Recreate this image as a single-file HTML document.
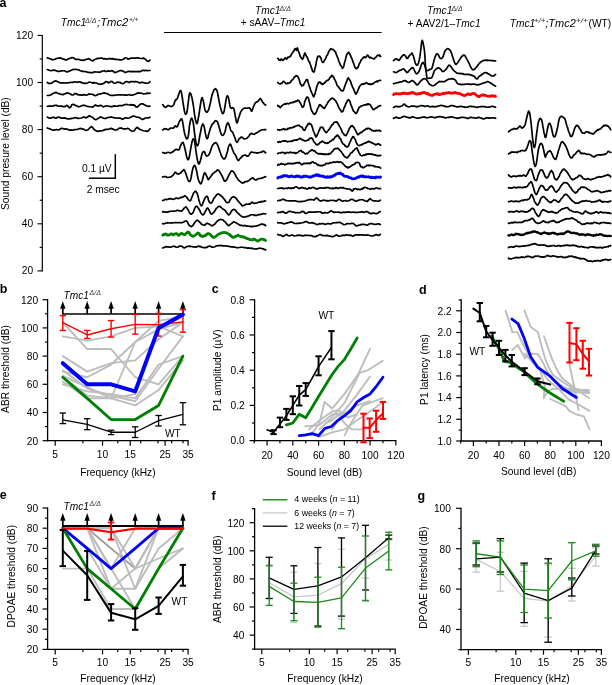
<!DOCTYPE html>
<html><head><meta charset="utf-8"><style>
html,body{margin:0;padding:0;background:#fff;overflow:hidden;}
svg{display:block;font-family:"Liberation Sans", sans-serif;will-change:transform;}
</style></head><body>
<svg width="612" height="685" viewBox="0 0 612 685">
<text x="-0.60" y="6.80" font-size="12.5" text-anchor="start" font-weight="bold" font-style="normal" fill="#000" >a</text>
<line x1="42.30" y1="34.90" x2="42.30" y2="271.40" stroke="#000" stroke-width="1.2" />
<line x1="37.50" y1="270.90" x2="42.30" y2="270.90" stroke="#000" stroke-width="1.1" />
<text x="33.10" y="274.40" font-size="10.2" text-anchor="end" font-weight="normal" font-style="normal" fill="#000" >20</text>
<line x1="39.70" y1="247.35" x2="42.30" y2="247.35" stroke="#000" stroke-width="1.1" />
<line x1="37.50" y1="223.80" x2="42.30" y2="223.80" stroke="#000" stroke-width="1.1" />
<text x="33.10" y="227.30" font-size="10.2" text-anchor="end" font-weight="normal" font-style="normal" fill="#000" >40</text>
<line x1="39.70" y1="200.25" x2="42.30" y2="200.25" stroke="#000" stroke-width="1.1" />
<line x1="37.50" y1="176.70" x2="42.30" y2="176.70" stroke="#000" stroke-width="1.1" />
<text x="33.10" y="180.20" font-size="10.2" text-anchor="end" font-weight="normal" font-style="normal" fill="#000" >60</text>
<line x1="39.70" y1="153.15" x2="42.30" y2="153.15" stroke="#000" stroke-width="1.1" />
<line x1="37.50" y1="129.60" x2="42.30" y2="129.60" stroke="#000" stroke-width="1.1" />
<text x="33.10" y="133.10" font-size="10.2" text-anchor="end" font-weight="normal" font-style="normal" fill="#000" >80</text>
<line x1="39.70" y1="106.05" x2="42.30" y2="106.05" stroke="#000" stroke-width="1.1" />
<line x1="37.50" y1="82.50" x2="42.30" y2="82.50" stroke="#000" stroke-width="1.1" />
<text x="33.10" y="86.00" font-size="10.2" text-anchor="end" font-weight="normal" font-style="normal" fill="#000" >100</text>
<line x1="39.70" y1="58.95" x2="42.30" y2="58.95" stroke="#000" stroke-width="1.1" />
<line x1="37.50" y1="35.40" x2="42.30" y2="35.40" stroke="#000" stroke-width="1.1" />
<text x="33.10" y="38.90" font-size="10.2" text-anchor="end" font-weight="normal" font-style="normal" fill="#000" >120</text>
<text x="0.00" y="0.00" font-size="10.2" text-anchor="middle" font-weight="normal" font-style="normal" fill="#000" transform="translate(8.8,153.6) rotate(-90)">Sound presure level (dB)</text>
<text x="0.00" y="26.20" font-size="10.2" text-anchor="start" font-weight="normal" font-style="normal" fill="#000" ><tspan x="60.8" font-style="italic">Tmc1</tspan><tspan x="85.0" dy="-3.0" font-size="7" font-style="italic" fill="#333">Δ/Δ</tspan><tspan x="97.0" dy="3.0" font-style="italic" textLength="31.4" lengthAdjust="spacingAndGlyphs">;Tmc2</tspan><tspan x="128.9" dy="-4.0" font-size="8" font-style="italic" fill="#222" textLength="9.6" lengthAdjust="spacingAndGlyphs">+/+</tspan></text>
<text x="0.00" y="13.50" font-size="10.2" text-anchor="start" font-weight="normal" font-style="normal" fill="#000" ><tspan x="255.0" font-style="italic">Tmc1</tspan><tspan x="279.5" dy="-3.0" font-size="7" font-style="italic" fill="#333">Δ/Δ</tspan></text>
<text x="273.00" y="26.10" font-size="10.2" text-anchor="middle" font-weight="normal" font-style="normal" fill="#000" >+ sAAV–<tspan font-style="italic">Tmc1</tspan></text>
<line x1="164.10" y1="32.50" x2="381.60" y2="32.50" stroke="#000" stroke-width="1.1" />
<text x="0.00" y="13.50" font-size="10.2" text-anchor="start" font-weight="normal" font-style="normal" fill="#000" ><tspan x="426.9" font-style="italic">Tmc1</tspan><tspan x="451.4" dy="-3.0" font-size="7" font-style="italic" fill="#333">Δ/Δ</tspan></text>
<text x="444.00" y="26.50" font-size="10.2" text-anchor="middle" font-weight="normal" font-style="normal" fill="#000" >+ AAV2/1–<tspan font-style="italic">Tmc1</tspan></text>
<text x="0.00" y="27.40" font-size="10.2" text-anchor="start" font-weight="normal" font-style="normal" fill="#000" ><tspan x="509.8" font-style="italic">Tmc1</tspan><tspan x="533.8" dy="-4.0" font-size="8" font-style="italic" fill="#222">+/+</tspan><tspan x="545.3" dy="4.0" font-style="italic" textLength="30.6" lengthAdjust="spacingAndGlyphs">;Tmc2</tspan><tspan x="576.0" dy="-4.0" font-size="8" font-style="italic" fill="#222">+/+</tspan><tspan x="588.6" dy="4.0">(WT)</tspan></text>
<line x1="115.30" y1="154.20" x2="115.30" y2="178.90" stroke="#000" stroke-width="1.5" />
<line x1="89.00" y1="178.20" x2="116.00" y2="178.20" stroke="#000" stroke-width="1.5" />
<text x="81.90" y="171.80" font-size="10.2" text-anchor="start" font-weight="normal" font-style="normal" fill="#000" >0.1 µV</text>
<text x="86.80" y="192.80" font-size="10.2" text-anchor="start" font-weight="normal" font-style="normal" fill="#000" >2 msec</text>
<polyline points="47.30,57.86 48.60,58.25 49.90,58.72 51.20,59.06 52.50,59.86 53.80,59.50 55.10,59.25 56.40,58.47 57.70,58.28 59.00,58.07 60.30,57.90 61.60,58.41 62.90,59.13 64.20,59.19 65.50,59.97 66.80,59.85 68.10,59.08 69.40,58.53 70.70,58.11 72.00,57.54 73.30,57.73 74.60,58.66 75.90,59.47 77.20,59.42 78.50,59.26 79.80,59.84 81.10,60.11 82.40,60.12 83.70,60.40 85.00,59.63 86.30,59.40 87.60,58.95 88.90,58.60 90.20,59.62 91.50,60.49 92.80,60.92 94.10,59.70 95.40,59.17 96.70,58.60 98.00,58.26 99.30,58.31 100.60,58.07 101.90,58.09 103.20,58.86 104.50,58.67 105.80,58.89 107.10,59.10 108.40,58.80 109.70,58.44 111.00,59.04 112.30,58.69 113.60,58.86 114.90,59.34 116.20,59.28 117.50,59.48 118.80,59.63 120.10,59.80 121.40,59.98 122.70,59.42 124.00,58.80 125.30,57.74 126.60,57.99 127.90,59.17 129.20,58.90 130.50,58.20 131.80,58.10 133.10,58.07 134.40,58.18 135.70,58.15 137.00,57.79 138.30,57.85 139.60,58.27 140.90,58.51 142.20,58.43 143.50,58.07 144.80,58.86 146.10,59.83 147.40,61.20 148.70,61.38 150.00,60.16" fill="none" stroke="#000" stroke-width="1.7" stroke-linejoin="round" stroke-linecap="round" />
<polyline points="47.30,69.51 48.60,70.02 49.90,70.52 51.20,70.54 52.50,70.38 53.80,70.05 55.10,70.33 56.40,70.73 57.70,71.37 59.00,71.45 60.30,71.09 61.60,70.86 62.90,70.75 64.20,70.74 65.50,71.19 66.80,71.94 68.10,71.66 69.40,70.97 70.70,70.58 72.00,69.90 73.30,69.26 74.60,69.51 75.90,69.28 77.20,69.57 78.50,69.77 79.80,70.45 81.10,70.92 82.40,71.43 83.70,71.24 85.00,71.70 86.30,71.67 87.60,72.30 88.90,72.26 90.20,72.61 91.50,72.71 92.80,72.69 94.10,71.88 95.40,71.95 96.70,71.98 98.00,72.11 99.30,72.07 100.60,72.05 101.90,71.16 103.20,70.97 104.50,70.72 105.80,71.62 107.10,71.27 108.40,70.94 109.70,71.04 111.00,70.90 112.30,70.68 113.60,71.77 114.90,72.58 116.20,72.18 117.50,71.74 118.80,71.02 120.10,70.53 121.40,70.66 122.70,70.97 124.00,71.80 125.30,72.54 126.60,72.10 127.90,71.39 129.20,71.38 130.50,71.63 131.80,71.65 133.10,71.41 134.40,71.57 135.70,71.49 137.00,71.55 138.30,71.40 139.60,71.79 140.90,71.41 142.20,70.52 143.50,70.37 144.80,70.61 146.10,70.26 147.40,70.75 148.70,70.50 150.00,70.49" fill="none" stroke="#000" stroke-width="1.7" stroke-linejoin="round" stroke-linecap="round" />
<polyline points="47.30,82.46 48.60,83.34 49.90,83.45 51.20,83.43 52.50,82.48 53.80,81.59 55.10,80.94 56.40,81.15 57.70,81.67 59.00,82.35 60.30,82.80 61.60,82.90 62.90,82.77 64.20,82.99 65.50,82.94 66.80,82.97 68.10,82.80 69.40,82.65 70.70,82.23 72.00,82.32 73.30,82.29 74.60,81.79 75.90,82.00 77.20,82.31 78.50,81.89 79.80,81.87 81.10,82.38 82.40,82.91 83.70,83.28 85.00,83.20 86.30,83.30 87.60,82.96 88.90,82.18 90.20,82.24 91.50,82.54 92.80,83.14 94.10,82.65 95.40,82.93 96.70,83.00 98.00,83.91 99.30,84.05 100.60,84.29 101.90,83.88 103.20,83.72 104.50,82.71 105.80,81.69 107.10,81.76 108.40,82.79 109.70,82.38 111.00,81.46 112.30,81.50 113.60,83.03 114.90,83.24 116.20,82.72 117.50,82.10 118.80,82.31 120.10,82.43 121.40,83.30 122.70,83.73 124.00,83.22 125.30,81.82 126.60,81.49 127.90,81.92 129.20,82.53 130.50,81.60 131.80,81.53 133.10,81.65 134.40,81.92 135.70,81.46 137.00,81.73 138.30,82.23 139.60,83.05 140.90,82.47 142.20,82.39 143.50,82.55 144.80,83.06 146.10,83.04 147.40,83.27 148.70,83.02 150.00,81.72" fill="none" stroke="#000" stroke-width="1.7" stroke-linejoin="round" stroke-linecap="round" />
<polyline points="47.30,95.48 48.60,95.45 49.90,95.25 51.20,94.75 52.50,93.64 53.80,93.27 55.10,92.56 56.40,92.36 57.70,93.38 59.00,93.53 60.30,94.23 61.60,94.38 62.90,94.71 64.20,94.02 65.50,93.67 66.80,92.89 68.10,93.08 69.40,93.48 70.70,94.13 72.00,94.99 73.30,94.80 74.60,93.72 75.90,93.65 77.20,94.14 78.50,94.89 79.80,94.77 81.10,95.11 82.40,95.13 83.70,94.61 85.00,94.82 86.30,95.24 87.60,94.80 88.90,93.94 90.20,94.13 91.50,94.28 92.80,94.42 94.10,95.29 95.40,95.64 96.70,95.21 98.00,94.23 99.30,94.07 100.60,93.79 101.90,93.55 103.20,93.06 104.50,92.96 105.80,93.33 107.10,93.56 108.40,94.28 109.70,95.16 111.00,95.31 112.30,95.27 113.60,95.54 114.90,95.08 116.20,94.98 117.50,94.82 118.80,94.86 120.10,94.85 121.40,94.74 122.70,95.03 124.00,94.86 125.30,95.11 126.60,95.12 127.90,94.85 129.20,94.49 130.50,95.23 131.80,95.11 133.10,94.94 134.40,94.48 135.70,93.95 137.00,93.23 138.30,92.84 139.60,93.05 140.90,93.07 142.20,93.50 143.50,94.00 144.80,93.75 146.10,93.71 147.40,93.11 148.70,93.33 150.00,93.21" fill="none" stroke="#000" stroke-width="1.7" stroke-linejoin="round" stroke-linecap="round" />
<polyline points="47.30,106.28 48.60,106.25 49.90,105.94 51.20,106.06 52.50,106.27 53.80,105.63 55.10,105.38 56.40,105.36 57.70,105.89 59.00,106.25 60.30,106.02 61.60,106.04 62.90,106.65 64.20,106.70 65.50,106.40 66.80,105.44 68.10,106.46 69.40,107.80 70.70,107.01 72.00,104.48 73.30,104.37 74.60,104.89 75.90,105.67 77.20,106.06 78.50,106.81 79.80,106.52 81.10,106.00 82.40,105.43 83.70,105.42 85.00,105.43 86.30,105.95 87.60,106.31 88.90,106.57 90.20,106.73 91.50,106.99 92.80,107.09 94.10,105.93 95.40,104.98 96.70,105.63 98.00,105.90 99.30,105.89 100.60,105.21 101.90,105.84 103.20,106.88 104.50,106.46 105.80,105.88 107.10,105.99 108.40,106.04 109.70,106.45 111.00,106.68 112.30,106.59 113.60,106.05 114.90,105.95 116.20,106.27 117.50,106.11 118.80,105.69 120.10,105.48 121.40,105.61 122.70,105.61 124.00,104.91 125.30,104.50 126.60,104.39 127.90,104.73 129.20,104.97 130.50,104.67 131.80,105.15 133.10,104.81 134.40,105.17 135.70,106.65 137.00,107.16 138.30,106.04 139.60,104.93 140.90,103.77 142.20,103.83 143.50,104.16 144.80,104.90 146.10,105.55 147.40,106.15 148.70,106.38 150.00,106.06" fill="none" stroke="#000" stroke-width="1.7" stroke-linejoin="round" stroke-linecap="round" />
<polyline points="47.30,117.12 48.60,117.85 49.90,118.04 51.20,118.08 52.50,117.46 53.80,117.14 55.10,118.18 56.40,117.85 57.70,117.38 59.00,117.01 60.30,117.89 61.60,118.14 62.90,118.04 64.20,117.89 65.50,118.12 66.80,118.74 68.10,118.90 69.40,118.89 70.70,118.63 72.00,118.39 73.30,118.16 74.60,117.74 75.90,117.68 77.20,118.06 78.50,118.45 79.80,118.26 81.10,117.97 82.40,117.63 83.70,117.01 85.00,117.42 86.30,117.85 87.60,117.09 88.90,115.84 90.20,116.16 91.50,117.02 92.80,117.44 94.10,118.94 95.40,119.62 96.70,119.30 98.00,118.39 99.30,117.71 100.60,116.90 101.90,117.45 103.20,118.09 104.50,118.47 105.80,118.49 107.10,117.71 108.40,117.38 109.70,117.29 111.00,116.95 112.30,117.26 113.60,117.66 114.90,117.81 116.20,117.98 117.50,118.18 118.80,117.98 120.10,118.08 121.40,118.88 122.70,119.26 124.00,118.58 125.30,117.80 126.60,117.95 127.90,118.25 129.20,118.02 130.50,117.31 131.80,116.83 133.10,115.94 134.40,116.23 135.70,116.77 137.00,117.10 138.30,117.27 139.60,117.58 140.90,118.64 142.20,119.45 143.50,119.24 144.80,118.10 146.10,118.02 147.40,117.92 148.70,117.84 150.00,117.17" fill="none" stroke="#000" stroke-width="1.7" stroke-linejoin="round" stroke-linecap="round" />
<polyline points="47.30,127.89 48.60,128.63 49.90,128.75 51.20,129.65 52.50,129.84 53.80,130.11 55.10,129.88 56.40,129.45 57.70,129.80 59.00,129.81 60.30,128.81 61.60,128.30 62.90,128.52 64.20,129.15 65.50,128.80 66.80,129.10 68.10,129.57 69.40,130.15 70.70,129.97 72.00,130.10 73.30,130.13 74.60,129.68 75.90,129.48 77.20,129.48 78.50,129.00 79.80,128.61 81.10,128.42 82.40,129.06 83.70,129.19 85.00,130.02 86.30,130.45 87.60,130.01 88.90,128.81 90.20,127.52 91.50,126.56 92.80,127.69 94.10,129.58 95.40,130.34 96.70,131.12 98.00,131.31 99.30,130.93 100.60,130.84 101.90,130.81 103.20,130.39 104.50,129.91 105.80,129.41 107.10,129.28 108.40,129.15 109.70,128.81 111.00,128.40 112.30,128.88 113.60,129.41 114.90,129.98 116.20,130.01 117.50,129.60 118.80,128.33 120.10,128.22 121.40,127.90 122.70,128.73 124.00,128.94 125.30,128.89 126.60,128.69 127.90,128.41 129.20,128.99 130.50,130.52 131.80,131.00 133.10,131.37 134.40,130.61 135.70,128.59 137.00,127.32 138.30,128.21 139.60,129.21 140.90,129.78 142.20,130.31 143.50,130.73 144.80,130.98 146.10,131.05 147.40,131.31 148.70,130.49 150.00,128.77" fill="none" stroke="#000" stroke-width="1.7" stroke-linejoin="round" stroke-linecap="round" />
<polyline points="162.70,104.68 163.18,105.19 163.88,106.31 164.65,106.83 165.39,107.48 166.07,107.20 166.74,106.46 167.41,106.04 168.09,105.44 168.76,105.73 169.44,105.88 170.11,106.24 170.78,106.53 171.48,106.62 172.19,106.02 172.87,105.65 173.48,105.19 173.99,104.30 174.43,102.73 174.85,101.27 175.28,100.51 175.73,99.57 176.18,99.84 176.62,99.41 177.07,98.84 177.53,97.79 178.00,96.53 178.45,95.36 178.87,93.83 179.26,92.96 179.62,91.98 179.97,91.06 180.31,90.78 180.62,90.51 180.92,90.77 181.22,91.57 181.57,93.18 181.98,95.38 182.43,98.42 182.90,101.86 183.36,104.75 183.81,107.36 184.26,110.25 184.71,112.43 185.16,113.63 185.62,114.31 186.08,114.11 186.53,113.48 186.96,112.07 187.35,109.73 187.71,107.20 188.06,103.70 188.40,101.13 188.71,98.84 189.00,96.12 189.31,94.28 189.65,92.86 190.07,92.94 190.52,93.50 190.99,94.45 191.45,95.97 191.90,97.41 192.35,99.76 192.80,102.17 193.25,104.81 193.70,107.79 194.15,111.40 194.60,114.79 195.05,117.34 195.50,119.76 195.95,121.51 196.39,123.26 196.84,123.71 197.29,123.14 197.74,121.33 198.19,118.77 198.64,116.40 199.10,113.82 199.56,110.35 200.01,107.44 200.44,104.60 200.83,102.32 201.19,100.26 201.54,99.02 201.88,97.76 202.19,97.60 202.48,98.07 202.79,99.20 203.13,100.07 203.55,102.18 204.02,104.77 204.50,107.49 204.93,109.42 205.30,110.67 205.63,111.17 205.97,111.71 206.37,111.89 206.87,112.14 207.43,111.91 208.00,110.92 208.53,110.00 209.00,108.63 209.45,106.83 209.88,104.95 210.32,103.02 210.77,100.82 211.22,98.53 211.67,96.66 212.12,94.82 212.57,93.39 213.02,92.25 213.47,91.00 213.92,90.04 214.38,89.48 214.84,89.13 215.29,88.67 215.72,89.15 216.10,89.35 216.47,89.85 216.81,90.50 217.15,91.24 217.47,92.47 217.76,93.82 218.06,95.79 218.41,97.36 218.81,99.46 219.24,101.87 219.71,104.21 220.21,106.49 220.77,108.52 221.38,110.70 221.99,112.59 222.54,113.56 223.03,113.72 223.48,112.85 223.91,112.01 224.34,110.22 224.80,107.63 225.27,104.65 225.73,101.66 226.14,99.31 226.49,97.62 226.79,96.86 227.08,96.25 227.40,95.77 227.75,96.08 228.12,96.70 228.48,97.86 228.84,99.30 229.16,100.93 229.46,103.25 229.77,104.90 230.09,106.33 230.44,107.68 230.81,107.99 231.18,108.05 231.53,108.39 231.85,108.01 232.16,107.87 232.47,107.74 232.79,107.65 233.14,107.88 233.51,108.19 233.88,109.02 234.23,110.00 234.55,111.82 234.86,113.60 235.16,115.71 235.49,117.27 235.83,118.92 236.18,120.93 236.55,122.37 236.92,122.92 237.30,122.51 237.68,121.39 238.08,119.85 238.54,118.11 239.07,116.75 239.64,114.98 240.25,113.15 240.88,111.72 241.50,110.68 242.15,109.67 242.83,109.07 243.57,108.59 244.43,108.00 245.37,108.16 246.31,108.21 247.17,108.23 247.93,107.92 248.63,107.85 249.27,107.96 249.86,108.21 250.38,108.89 250.82,110.08 251.23,111.04 251.66,111.23 252.11,110.41 252.56,109.28 253.01,107.95 253.46,106.36 253.89,105.64 254.30,104.81 254.74,103.87 255.26,103.10 255.87,102.41 256.57,101.86 257.28,101.79 257.95,101.09 258.59,100.61 259.21,99.84 259.79,98.81 260.29,98.43 260.67,98.82 260.95,99.15 261.22,99.49 261.55,100.09 261.94,100.73 262.38,101.80 262.84,102.47 263.34,102.80 263.94,103.76 264.62,104.46 265.25,104.83 265.68,105.13" fill="none" stroke="#000" stroke-width="1.7" stroke-linejoin="round" stroke-linecap="round" />
<polyline points="162.70,129.86 163.18,129.68 163.88,129.06 164.65,128.62 165.39,128.91 166.07,128.88 166.74,129.15 167.41,129.68 168.09,129.54 168.76,129.53 169.44,129.07 170.11,128.30 170.78,128.01 171.48,127.98 172.19,128.05 172.87,128.30 173.48,128.01 173.99,127.64 174.43,126.83 174.85,126.57 175.28,125.90 175.73,126.04 176.18,126.49 176.62,126.98 177.07,126.66 177.51,126.24 177.94,124.99 178.38,123.83 178.87,122.75 179.44,121.45 180.07,120.56 180.69,119.50 181.21,118.90 181.59,119.16 181.87,118.98 182.14,119.72 182.47,121.06 182.86,123.12 183.30,125.91 183.76,129.08 184.26,131.76 184.82,134.17 185.43,136.03 186.04,137.99 186.60,138.79 187.10,138.83 187.57,138.38 188.00,136.98 188.40,135.35 188.74,133.16 189.03,130.31 189.32,127.06 189.65,124.60 190.07,122.40 190.52,120.45 190.99,119.05 191.45,118.23 191.90,118.40 192.35,119.19 192.80,120.89 193.25,122.84 193.70,125.98 194.15,129.93 194.60,133.62 195.05,137.15 195.50,140.02 195.97,142.29 196.42,143.78 196.84,145.02 197.22,145.78 197.57,145.61 197.92,145.18 198.28,144.10 198.66,142.76 199.03,140.58 199.44,138.08 199.90,135.15 200.45,132.57 201.06,129.34 201.67,126.21 202.24,124.73 202.72,124.17 203.17,124.06 203.60,125.31 204.03,126.29 204.49,128.20 204.95,130.96 205.41,133.45 205.83,135.15 206.21,136.78 206.56,138.03 206.90,138.70 207.27,138.77 207.64,138.15 208.02,137.01 208.43,134.97 208.89,133.55 209.42,131.74 210.01,129.58 210.62,127.84 211.22,126.40 211.81,125.15 212.40,123.99 212.99,123.67 213.56,122.89 214.11,122.32 214.65,121.31 215.18,120.98 215.72,120.72 216.26,121.16 216.80,121.17 217.35,121.64 217.87,122.70 218.37,124.41 218.86,126.27 219.35,128.01 219.85,129.76 220.37,131.78 220.90,133.22 221.45,134.62 222.01,135.12 222.58,135.31 223.17,135.36 223.77,134.55 224.34,133.31 224.91,132.04 225.48,129.61 226.01,127.38 226.50,125.23 226.91,124.44 227.27,123.20 227.61,123.09 227.94,122.72 228.25,122.89 228.54,123.61 228.85,124.66 229.19,125.32 229.61,126.50 230.06,128.20 230.53,129.54 230.99,130.64 231.44,131.30 231.89,131.56 232.34,131.92 232.79,132.53 233.23,133.44 233.65,134.78 234.10,135.77 234.59,137.12 235.14,138.46 235.73,140.25 236.34,141.53 236.92,142.39 237.46,141.96 237.98,141.28 238.51,139.93 239.08,138.76 239.72,138.25 240.39,137.90 241.09,137.08 241.78,137.28 242.43,137.37 243.07,138.02 243.73,138.80 244.47,138.86 245.33,138.77 246.27,138.45 247.21,138.02 248.07,137.04 248.80,136.41 249.47,135.26 250.11,134.22 250.76,133.48 251.41,133.42 252.05,133.64 252.72,134.10 253.46,134.21 254.31,134.29 255.26,133.57 256.20,132.97 257.05,132.42 257.79,132.33 258.46,131.86 259.10,131.30 259.75,130.72 260.41,130.40 261.06,130.19 261.73,130.08 262.44,129.76 263.29,129.77 264.23,129.58 265.09,129.86 265.68,129.57" fill="none" stroke="#000" stroke-width="1.7" stroke-linejoin="round" stroke-linecap="round" />
<polyline points="162.70,152.63 163.18,152.62 163.88,152.78 164.65,153.41 165.39,153.20 166.07,153.09 166.74,152.62 167.41,152.50 168.09,152.38 168.76,152.48 169.44,152.55 170.11,152.91 170.78,152.69 171.46,152.62 172.13,152.18 172.81,151.91 173.48,151.27 174.15,150.71 174.83,150.21 175.50,149.59 176.18,149.38 176.86,149.40 177.55,149.85 178.22,150.04 178.87,149.81 179.49,148.86 180.10,147.09 180.67,145.45 181.21,144.55 181.69,143.26 182.14,142.85 182.57,142.44 183.01,142.28 183.45,143.42 183.88,144.67 184.33,146.14 184.80,148.02 185.32,150.43 185.88,152.95 186.44,155.86 186.96,157.79 187.43,159.05 187.88,159.57 188.32,159.53 188.76,158.73 189.21,157.33 189.65,154.90 190.10,152.28 190.55,149.57 191.01,147.05 191.47,144.58 191.93,142.39 192.35,140.52 192.74,139.76 193.10,138.95 193.45,138.76 193.79,138.98 194.10,139.68 194.40,140.71 194.70,142.04 195.05,144.46 195.46,147.20 195.91,150.49 196.38,153.97 196.84,156.97 197.29,159.10 197.74,161.61 198.19,163.04 198.64,163.87 199.09,163.91 199.54,163.30 199.99,161.74 200.44,160.61 200.89,159.05 201.34,156.78 201.79,154.74 202.24,153.29 202.69,152.43 203.13,151.86 203.58,151.50 204.03,151.57 204.48,151.87 204.93,152.95 205.38,154.13 205.83,155.22 206.27,155.52 206.70,156.03 207.14,155.90 207.63,155.77 208.18,155.36 208.77,154.73 209.38,153.69 209.96,152.49 210.50,150.84 211.02,149.24 211.55,147.51 212.12,146.09 212.77,144.79 213.46,144.23 214.16,143.16 214.82,143.11 215.43,142.95 216.02,142.61 216.59,143.23 217.15,144.11 217.69,145.26 218.21,146.42 218.74,147.94 219.31,149.56 219.95,151.75 220.62,153.40 221.32,155.48 222.01,156.71 222.69,157.90 223.39,158.80 224.07,158.69 224.70,158.85 225.28,157.89 225.82,156.75 226.34,155.04 226.86,153.16 227.37,151.70 227.88,149.47 228.37,147.33 228.84,145.86 229.27,145.15 229.68,144.51 230.07,144.15 230.45,144.13 230.82,144.73 231.16,145.62 231.51,146.99 231.89,147.66 232.31,149.13 232.77,150.38 233.23,151.19 233.69,152.61 234.12,153.24 234.53,153.89 234.97,154.17 235.49,155.03 236.12,156.37 236.83,158.32 237.55,159.62 238.18,160.42 238.67,160.53 239.08,159.98 239.49,159.14 239.98,158.49 240.59,158.20 241.27,157.18 241.98,156.78 242.67,155.87 243.35,155.48 244.02,155.32 244.70,154.99 245.37,155.03 246.04,155.53 246.72,155.90 247.39,156.20 248.07,156.06 248.74,155.53 249.41,154.47 250.09,153.17 250.76,152.51 251.41,151.91 252.05,152.26 252.72,152.25 253.46,152.52 254.29,152.59 255.20,152.59 256.13,152.64 257.05,153.15 257.97,152.71 258.91,152.77 259.81,152.53 260.65,152.30 261.39,152.18 262.07,151.86 262.72,151.14 263.34,151.22 264.01,151.32 264.68,151.99 265.27,152.49 265.68,152.94" fill="none" stroke="#000" stroke-width="1.7" stroke-linejoin="round" stroke-linecap="round" />
<polyline points="162.70,176.91 163.18,176.77 163.88,176.60 164.65,176.78 165.39,176.53 166.07,176.55 166.74,177.18 167.41,177.51 168.09,177.41 168.77,177.29 169.47,177.27 170.15,177.09 170.78,177.00 171.36,176.55 171.88,176.21 172.40,175.73 172.94,175.31 173.52,174.68 174.13,173.65 174.73,172.63 175.28,172.18 175.74,172.40 176.15,172.90 176.57,173.54 177.07,173.80 177.68,173.98 178.37,174.24 179.07,173.61 179.77,173.48 180.46,173.06 181.17,172.54 181.86,171.55 182.47,171.03 182.98,170.49 183.42,170.04 183.83,169.74 184.26,170.11 184.69,170.72 185.11,171.81 185.55,172.72 186.06,174.14 186.69,176.22 187.41,178.36 188.12,180.01 188.76,181.25 189.27,181.36 189.71,181.42 190.13,181.07 190.55,179.93 191.00,178.15 191.45,175.76 191.90,172.83 192.35,170.59 192.80,168.82 193.25,167.37 193.70,166.18 194.15,165.61 194.60,165.46 195.05,165.91 195.50,166.91 195.95,168.07 196.39,170.00 196.84,172.18 197.29,175.07 197.74,176.94 198.19,178.99 198.64,180.35 199.09,181.42 199.54,182.28 199.99,183.05 200.44,183.71 200.89,183.85 201.34,183.17 201.79,182.03 202.26,180.55 202.71,178.70 203.13,177.02 203.51,175.60 203.85,174.52 204.20,173.22 204.57,172.84 205.00,173.01 205.45,173.82 205.91,174.49 206.37,175.47 206.81,176.32 207.25,177.50 207.69,178.66 208.17,179.64 208.67,179.41 209.19,178.63 209.74,177.66 210.32,177.07 210.96,176.31 211.64,175.20 212.33,174.16 213.02,173.56 213.71,173.12 214.40,172.33 215.08,171.86 215.72,171.60 216.29,171.09 216.82,170.59 217.33,169.87 217.87,170.03 218.44,170.32 219.03,170.84 219.62,171.53 220.21,172.82 220.80,173.49 221.39,174.90 221.97,175.80 222.54,176.93 223.10,178.40 223.63,179.43 224.17,180.83 224.70,181.21 225.24,181.09 225.77,180.74 226.31,180.18 226.86,179.49 227.43,178.56 228.02,176.81 228.61,175.53 229.19,174.23 229.78,173.59 230.37,172.23 230.96,171.42 231.53,170.92 232.09,170.89 232.64,171.18 233.18,171.44 233.69,171.80 234.15,172.61 234.59,173.50 235.02,174.22 235.49,175.12 235.99,176.41 236.53,177.25 237.08,177.80 237.64,178.95 238.21,179.58 238.78,180.29 239.36,180.92 239.98,181.40 240.63,181.83 241.30,182.43 241.99,182.80 242.67,183.23 243.35,182.63 244.02,182.63 244.70,181.77 245.37,181.50 246.04,181.61 246.72,181.60 247.39,181.38 248.07,180.98 248.75,180.72 249.44,180.01 250.11,179.61 250.76,178.72 251.38,178.41 251.96,178.34 252.54,177.71 253.10,177.93 253.64,178.53 254.15,179.21 254.68,179.53 255.26,179.90 255.89,179.82 256.57,179.88 257.26,179.09 257.95,178.99 258.63,178.89 259.30,178.49 259.97,178.35 260.65,178.56 261.33,178.23 262.02,177.89 262.69,177.93 263.34,177.52 264.01,177.23 264.68,176.78 265.27,176.86 265.68,176.53" fill="none" stroke="#000" stroke-width="1.7" stroke-linejoin="round" stroke-linecap="round" />
<polyline points="162.70,200.65 163.18,200.33 163.88,200.23 164.65,199.51 165.39,199.41 166.07,199.40 166.74,199.57 167.41,199.50 168.09,199.12 168.76,198.91 169.44,198.82 170.11,198.70 170.78,198.86 171.46,198.58 172.13,199.10 172.81,199.25 173.48,199.34 174.17,199.12 174.88,198.69 175.56,198.21 176.18,198.01 176.67,198.09 177.07,198.50 177.48,198.36 177.97,198.49 178.59,198.64 179.29,198.16 180.00,197.78 180.67,197.51 181.28,197.54 181.87,197.21 182.44,197.31 183.01,197.04 183.57,196.80 184.12,196.11 184.65,195.77 185.16,195.74 185.64,196.20 186.08,196.76 186.52,197.18 186.96,197.61 187.41,198.25 187.86,198.96 188.31,199.55 188.76,200.02 189.21,200.44 189.65,200.67 190.10,200.51 190.55,200.61 191.00,199.54 191.45,198.48 191.90,197.06 192.35,196.06 192.80,194.77 193.25,193.80 193.70,192.91 194.15,192.18 194.60,192.02 195.05,191.49 195.50,191.21 195.95,191.40 196.39,192.20 196.84,192.75 197.29,193.66 197.74,195.20 198.18,196.75 198.62,198.89 199.07,200.41 199.54,202.22 200.06,203.74 200.62,204.93 201.17,205.79 201.70,205.60 202.16,205.17 202.58,203.90 203.02,202.49 203.49,201.57 204.05,200.15 204.66,199.02 205.27,197.59 205.83,197.03 206.33,196.40 206.80,196.16 207.23,196.56 207.63,197.07 207.95,197.52 208.22,199.03 208.51,200.36 208.89,201.20 209.39,202.06 209.96,202.62 210.59,203.04 211.22,203.01 211.87,202.48 212.55,201.30 213.24,199.70 213.92,198.40 214.61,197.53 215.32,196.71 216.00,195.58 216.61,194.95 217.11,194.42 217.51,194.41 217.92,194.14 218.41,193.93 219.02,194.19 219.70,194.77 220.41,195.39 221.11,196.01 221.78,196.33 222.46,197.01 223.13,197.98 223.80,198.60 224.49,199.45 225.18,200.51 225.86,201.80 226.50,202.14 227.07,202.61 227.60,202.61 228.12,202.53 228.66,202.42 229.23,201.80 229.81,200.48 230.40,199.35 230.99,198.76 231.58,197.85 232.17,197.21 232.76,197.26 233.33,196.81 233.88,197.00 234.42,196.97 234.95,197.52 235.49,197.72 236.02,198.12 236.55,198.74 237.09,199.75 237.64,200.51 238.21,201.32 238.80,201.58 239.39,202.52 239.98,203.07 240.57,203.89 241.16,204.53 241.74,205.30 242.31,205.84 242.85,206.07 243.37,205.41 243.90,205.24 244.47,205.08 245.11,204.92 245.79,204.27 246.48,204.01 247.17,204.25 247.85,204.25 248.55,204.08 249.23,203.92 249.86,204.25 250.46,203.59 251.02,203.28 251.54,202.60 252.02,202.40 252.40,202.12 252.71,202.72 253.03,202.77 253.46,203.09 254.04,203.39 254.73,203.41 255.45,203.06 256.15,202.99 256.83,202.91 257.50,202.73 258.18,202.40 258.85,202.05 259.49,201.95 260.11,202.07 260.77,202.03 261.55,201.47 262.57,201.54 263.78,201.43 264.90,200.88 265.68,200.98" fill="none" stroke="#000" stroke-width="1.7" stroke-linejoin="round" stroke-linecap="round" />
<polyline points="162.70,211.93 163.52,211.66 164.72,212.05 166.02,212.14 167.19,212.18 168.15,211.87 169.04,211.65 169.91,211.45 170.78,211.19 171.68,211.26 172.58,211.20 173.48,211.23 174.38,210.98 175.28,211.08 176.18,210.71 177.07,210.31 177.97,210.46 178.89,210.65 179.83,210.89 180.73,211.07 181.57,211.21 182.33,210.49 183.03,209.63 183.67,208.85 184.26,207.96 184.78,207.65 185.22,207.30 185.63,206.84 186.06,207.16 186.51,207.19 186.96,208.08 187.41,208.81 187.86,209.43 188.31,210.08 188.76,211.31 189.21,212.22 189.65,213.24 190.10,213.31 190.55,213.98 191.00,214.19 191.45,214.03 191.90,213.88 192.35,213.20 192.80,213.06 193.25,212.12 193.70,211.34 194.15,210.05 194.60,208.42 195.05,207.77 195.48,207.20 195.91,206.31 196.36,206.23 196.84,206.50 197.39,206.63 197.99,207.76 198.60,208.37 199.18,209.58 199.73,210.27 200.27,211.61 200.80,212.91 201.34,213.41 201.87,214.09 202.40,214.73 202.94,214.88 203.49,214.59 204.08,213.88 204.68,212.61 205.28,211.64 205.83,210.41 206.32,209.71 206.76,208.64 207.19,208.47 207.63,207.97 208.08,208.47 208.53,209.16 208.98,209.82 209.42,210.87 209.85,211.59 210.27,212.61 210.71,213.64 211.22,213.72 211.83,214.12 212.51,213.53 213.22,212.79 213.92,212.27 214.59,211.12 215.27,210.39 215.94,209.09 216.61,208.10 217.29,207.61 217.96,206.88 218.64,206.35 219.31,206.49 219.98,206.33 220.66,207.18 221.33,207.48 222.01,208.24 222.69,208.91 223.39,209.23 224.07,209.82 224.70,210.23 225.27,210.73 225.80,211.46 226.32,212.22 226.86,213.08 227.43,213.62 228.02,214.32 228.61,214.97 229.19,214.63 229.78,214.12 230.37,213.32 230.96,211.88 231.53,210.97 232.09,210.51 232.64,209.85 233.18,209.57 233.69,209.29 234.15,209.46 234.59,209.64 235.02,209.76 235.49,210.39 235.97,210.86 236.47,211.38 237.02,212.52 237.64,212.89 238.39,213.55 239.23,214.24 240.08,215.20 240.88,215.90 241.59,216.35 242.26,216.59 242.91,216.84 243.57,216.91 244.25,217.24 244.92,217.06 245.59,216.75 246.27,216.69 246.94,216.39 247.62,216.41 248.29,216.07 248.96,215.59 249.62,215.66 250.26,214.95 250.92,214.96 251.66,214.77 252.50,214.74 253.40,214.84 254.34,215.40 255.26,215.11 256.15,215.33 257.05,215.40 257.95,214.82 258.85,214.67 259.76,214.65 260.67,214.34 261.57,214.16 262.44,214.07 263.35,213.69 264.29,213.77 265.11,213.80 265.68,213.92" fill="none" stroke="#000" stroke-width="1.7" stroke-linejoin="round" stroke-linecap="round" />
<polyline points="162.70,223.58 163.52,223.82 164.72,223.50 166.02,223.19 167.19,222.66 168.15,223.01 169.04,222.97 169.91,222.87 170.78,223.03 171.68,222.89 172.58,222.79 173.48,222.73 174.38,222.77 175.26,222.60 176.12,222.64 177.01,222.74 177.97,222.64 179.07,222.73 180.28,222.72 181.45,222.52 182.47,222.57 183.29,222.21 183.98,221.95 184.59,221.39 185.16,220.99 185.67,221.07 186.12,221.23 186.53,220.99 186.96,221.66 187.39,221.86 187.80,222.87 188.24,223.79 188.76,224.82 189.39,225.56 190.10,226.04 190.82,226.25 191.45,226.69 191.96,226.24 192.41,225.75 192.82,225.50 193.25,224.77 193.69,224.17 194.13,223.44 194.57,222.88 195.05,221.99 195.56,221.58 196.09,220.93 196.64,220.56 197.20,220.18 197.77,220.50 198.34,220.86 198.93,221.31 199.54,221.86 200.19,222.73 200.87,223.23 201.55,224.38 202.24,224.52 202.92,224.77 203.62,224.97 204.30,225.39 204.93,224.98 205.50,224.52 206.03,223.88 206.55,223.33 207.09,223.36 207.65,223.39 208.22,223.71 208.81,224.11 209.42,224.13 210.07,224.76 210.75,225.08 211.44,225.66 212.12,225.76 212.79,225.58 213.47,224.73 214.14,224.57 214.82,224.01 215.49,223.39 216.16,222.26 216.84,221.59 217.51,220.91 218.19,220.30 218.86,220.16 219.53,219.70 220.21,219.38 220.88,219.47 221.56,219.57 222.23,219.71 222.90,220.01 223.58,220.47 224.25,221.37 224.93,221.73 225.60,222.45 226.27,223.33 226.95,224.09 227.62,225.04 228.30,225.49 228.97,225.60 229.64,224.94 230.32,224.28 230.99,224.04 231.67,223.29 232.34,222.91 233.01,222.32 233.69,221.77 234.36,221.98 235.04,222.20 235.71,222.69 236.38,222.83 237.06,223.41 237.73,223.82 238.41,224.15 239.08,224.88 239.75,224.81 240.43,225.42 241.10,225.30 241.78,225.35 242.43,225.50 243.07,225.75 243.73,225.82 244.47,225.35 245.31,225.70 246.21,225.84 247.15,226.15 248.07,225.98 248.96,226.26 249.86,226.30 250.76,226.63 251.66,226.38 252.58,226.69 253.51,226.27 254.42,226.12 255.26,226.24 255.99,226.03 256.66,225.73 257.30,225.86 257.95,225.39 258.63,225.45 259.30,225.04 259.97,224.73 260.65,224.41 261.33,224.15 262.02,224.14 262.69,224.17 263.34,224.54 264.01,224.39 264.68,225.17 265.27,225.11 265.68,225.60" fill="none" stroke="#000" stroke-width="1.7" stroke-linejoin="round" stroke-linecap="round" />
<polyline points="162.70,247.92 163.34,247.64 164.27,247.51 165.31,246.88 166.29,246.57 167.19,246.85 168.09,246.73 168.99,247.07 169.88,247.18 170.78,247.13 171.68,246.82 172.58,246.47 173.48,246.19 174.38,246.33 175.28,246.57 176.18,247.22 177.07,247.25 177.97,247.05 178.87,246.32 179.77,246.03 180.67,246.05 181.57,246.26 182.47,246.63 183.36,247.39 184.26,247.90 185.16,247.40 186.06,246.92 186.96,246.48 187.86,246.37 188.76,246.40 189.65,246.15 190.55,246.31 191.45,246.50 192.35,246.70 193.25,246.99 194.15,246.96 195.05,247.08 195.95,246.85 196.84,246.93 197.74,246.52 198.64,246.07 199.54,246.61 200.44,246.43 201.34,246.87 202.24,247.41 203.13,247.52 204.03,247.70 204.93,247.69 205.83,247.55 206.73,247.50 207.63,246.77 208.53,246.36 209.42,246.21 210.32,246.15 211.22,246.66 212.12,247.19 213.02,247.26 213.92,246.99 214.82,246.69 215.72,246.21 216.61,245.73 217.51,245.75 218.41,245.48 219.31,245.53 220.21,245.57 221.11,245.41 222.01,245.64 222.90,245.91 223.80,245.87 224.70,245.79 225.60,246.00 226.50,246.05 227.40,246.05 228.30,246.18 229.19,246.51 230.09,246.69 230.99,246.88 231.89,246.91 232.79,246.92 233.69,247.14 234.59,246.97 235.49,247.27 236.38,247.63 237.28,247.75 238.18,247.77 239.08,247.50 239.98,247.40 240.88,247.23 241.78,247.23 242.67,247.19 243.57,247.47 244.47,247.77 245.37,247.55 246.27,247.89 247.17,248.04 248.07,247.92 248.96,248.06 249.86,248.39 250.76,248.00 251.66,248.34 252.56,248.26 253.46,248.72 254.36,248.99 255.26,248.94 256.15,248.77 257.05,248.84 257.95,248.51 258.85,248.31 259.75,248.07 260.68,248.23 261.62,248.57 262.53,248.71 263.34,248.92 264.07,249.43 264.74,249.33 265.29,249.79 265.68,249.86" fill="none" stroke="#000" stroke-width="1.7" stroke-linejoin="round" stroke-linecap="round" />
<polyline points="162.70,235.04 163.18,235.08 163.88,234.19 164.65,234.55 165.39,233.93 166.07,233.94 166.74,234.61 167.41,235.19 168.09,235.10 168.76,235.22 169.44,234.76 170.11,234.49 170.78,233.93 171.46,233.89 172.13,234.06 172.81,234.70 173.48,234.94 174.15,234.43 174.83,233.86 175.50,234.02 176.18,233.60 176.85,233.73 177.52,234.17 178.20,235.16 178.87,235.37 179.55,234.94 180.22,234.21 180.89,233.69 181.57,233.11 182.24,233.87 182.92,233.84 183.59,234.53 184.26,234.84 184.96,234.58 185.67,233.77 186.35,233.06 186.96,232.83 187.47,232.19 187.91,232.49 188.33,232.00 188.76,232.53 189.18,232.58 189.60,233.48 190.04,234.24 190.55,235.07 191.16,235.37 191.85,235.65 192.55,236.50 193.25,236.21 193.93,235.95 194.62,235.52 195.30,235.09 195.95,234.53 196.56,234.14 197.15,233.53 197.72,232.81 198.28,233.13 198.82,233.47 199.34,233.61 199.87,235.09 200.44,235.81 201.07,236.11 201.75,235.89 202.45,236.62 203.13,236.49 203.81,235.84 204.48,235.51 205.16,235.86 205.83,235.25 206.50,234.50 207.18,233.90 207.85,233.54 208.53,233.47 209.21,234.13 209.90,234.26 210.57,234.68 211.22,235.81 211.81,236.25 212.37,236.34 212.93,237.40 213.56,237.37 214.28,237.31 215.06,236.74 215.86,236.33 216.61,235.72 217.31,235.29 217.98,234.29 218.64,234.23 219.31,233.71 219.98,233.57 220.66,233.08 221.33,233.24 222.01,232.83 222.68,232.53 223.35,232.49 224.03,232.44 224.70,232.78 225.38,232.50 226.05,232.92 226.72,232.81 227.40,233.32 228.07,233.68 228.75,234.16 229.42,234.91 230.09,234.73 230.77,235.98 231.44,236.35 232.12,237.00 232.79,237.41 233.46,237.55 234.14,236.92 234.81,236.62 235.49,236.75 236.16,235.78 236.83,235.93 237.51,235.69 238.18,235.11 238.86,235.68 239.53,235.99 240.20,236.49 240.88,236.25 241.55,236.91 242.23,236.64 242.90,236.73 243.57,237.24 244.25,236.82 244.92,237.70 245.59,237.98 246.27,238.05 246.94,238.72 247.62,238.55 248.29,238.84 248.96,239.10 249.64,239.56 250.31,239.41 250.99,239.83 251.66,239.92 252.33,239.86 253.01,239.73 253.68,238.99 254.36,239.34 255.03,239.33 255.70,239.98 256.38,240.37 257.05,240.88 257.73,241.22 258.40,240.72 259.07,240.50 259.75,239.84 260.41,239.55 261.06,239.22 261.73,239.21 262.44,239.19 263.29,239.54 264.23,239.37 265.09,240.38 265.68,240.52" fill="none" stroke="#008000" stroke-width="2.7" stroke-linejoin="round" stroke-linecap="round" />
<polyline points="277.70,58.36 278.02,58.61 278.48,58.98 279.00,60.05 279.49,60.17 279.94,60.15 280.39,60.28 280.84,59.32 281.29,59.03 281.74,59.34 282.19,59.93 282.64,60.10 283.09,60.25 283.54,59.89 283.99,59.27 284.44,58.47 284.88,58.15 285.33,57.76 285.78,58.57 286.23,58.72 286.68,59.13 287.13,58.19 287.58,57.77 288.03,57.06 288.48,57.35 288.93,57.24 289.38,56.84 289.83,56.37 290.28,56.50 290.73,55.91 291.18,55.00 291.62,53.95 292.07,53.28 292.54,52.71 293.01,51.89 293.46,51.33 293.87,50.93 294.22,50.64 294.52,49.21 294.81,49.29 295.13,48.53 295.49,48.70 295.87,49.75 296.24,49.86 296.57,50.30 296.81,49.40 296.99,48.22 297.19,47.98 297.47,48.18 297.85,49.39 298.31,50.87 298.79,52.00 299.26,53.39 299.71,54.35 300.16,56.15 300.61,56.84 301.06,57.62 301.51,58.11 301.96,58.54 302.41,59.36 302.86,58.49 303.31,58.24 303.76,55.65 304.21,54.78 304.65,53.11 305.10,53.08 305.55,54.49 306.00,54.99 306.45,56.41 306.90,56.70 307.35,57.47 307.80,59.12 308.25,59.98 308.70,60.98 309.15,61.68 309.60,61.92 310.05,63.49 310.50,64.84 310.95,66.02 311.39,67.92 311.84,68.51 312.29,70.46 312.74,71.44 313.19,71.64 313.64,71.87 314.09,71.87 314.54,70.76 314.99,68.35 315.44,66.77 315.89,65.03 316.34,61.91 316.79,60.16 317.24,57.96 317.69,56.49 318.13,56.27 318.58,56.28 319.03,56.11 319.50,56.51 319.97,56.38 320.42,57.61 320.83,57.84 321.17,58.97 321.46,60.01 321.75,60.80 322.09,61.45 322.50,62.19 322.95,62.46 323.42,62.19 323.89,61.63 324.34,60.71 324.78,59.56 325.23,59.43 325.68,58.18 326.13,57.40 326.58,56.01 327.03,55.38 327.48,54.86 327.93,53.78 328.38,52.59 328.83,51.39 329.28,50.71 329.73,50.45 330.18,49.28 330.63,49.08 331.07,48.73 331.52,49.11 331.97,49.37 332.42,49.30 332.87,49.39 333.32,49.83 333.77,50.11 334.22,50.46 334.67,51.10 335.11,51.82 335.53,51.79 335.98,53.56 336.47,54.69 337.01,56.15 337.60,57.48 338.21,58.87 338.80,61.02 339.40,62.47 340.00,63.83 340.59,65.40 341.14,65.91 341.62,66.56 342.05,67.80 342.47,68.42 342.94,67.56 343.46,66.92 344.02,65.20 344.57,62.35 345.09,60.78 345.57,59.11 346.01,57.15 346.45,55.32 346.89,54.13 347.34,53.76 347.79,53.21 348.24,52.57 348.69,52.17 349.14,53.20 349.59,53.81 350.04,54.10 350.49,55.36 350.93,56.63 351.36,57.68 351.81,58.50 352.28,59.75 352.80,61.39 353.36,62.72 353.92,64.39 354.44,65.74 354.91,67.29 355.36,67.78 355.80,68.55 356.24,68.66 356.67,68.72 357.10,68.01 357.55,67.31 358.03,67.46 358.57,65.70 359.15,63.98 359.75,63.01 360.37,61.85 361.02,60.14 361.70,59.59 362.38,58.48 363.07,57.99 363.76,57.10 364.47,56.94 365.15,57.79 365.76,57.44 366.27,56.59 366.72,56.07 367.13,55.26 367.56,55.56 368.01,55.42 368.46,56.45 368.91,56.87 369.36,57.39 369.78,57.83 370.20,57.33 370.64,57.31 371.15,57.67 371.76,57.96 372.45,58.23 373.15,58.45 373.85,58.93 374.52,58.78 375.20,57.59 375.87,57.25 376.55,56.59 377.25,55.34 377.97,55.58 378.66,55.21 379.24,54.90 379.72,55.93 380.13,55.61 380.45,56.32 380.68,56.53" fill="none" stroke="#000" stroke-width="1.7" stroke-linejoin="round" stroke-linecap="round" />
<polyline points="277.70,82.38 278.18,83.11 278.88,83.45 279.65,83.73 280.39,83.98 281.07,83.31 281.74,83.35 282.41,82.60 283.09,81.42 283.76,81.36 284.44,82.03 285.11,82.64 285.78,83.54 286.46,83.68 287.13,83.67 287.81,82.84 288.48,83.42 289.15,83.06 289.83,82.61 290.50,82.44 291.18,80.89 291.86,80.17 292.55,79.79 293.22,79.00 293.87,77.92 294.48,76.88 295.07,76.60 295.64,76.36 296.21,75.55 296.76,75.86 297.30,76.10 297.83,76.52 298.36,77.72 298.90,78.77 299.43,80.63 299.97,82.31 300.52,84.21 301.09,84.46 301.68,85.82 302.27,85.62 302.86,85.37 303.45,85.51 304.04,83.51 304.62,82.83 305.19,81.70 305.75,80.96 306.28,79.55 306.82,79.55 307.35,79.50 307.89,81.47 308.42,83.17 308.96,84.99 309.51,86.68 310.09,88.24 310.70,90.40 311.29,91.63 311.84,93.15 312.33,93.94 312.78,95.21 313.20,95.90 313.64,96.83 314.08,96.20 314.51,94.74 314.95,94.06 315.44,91.89 315.99,90.12 316.58,87.56 317.19,85.47 317.77,84.37 318.33,82.89 318.86,82.18 319.40,82.28 319.93,82.05 320.47,82.90 321.00,82.69 321.54,84.17 322.09,83.59 322.65,84.44 323.22,84.03 323.81,83.26 324.42,83.11 325.07,82.36 325.75,81.63 326.44,80.83 327.12,80.30 327.80,80.32 328.49,79.76 329.17,79.12 329.82,77.70 330.43,77.14 331.02,76.90 331.59,75.38 332.15,75.81 332.69,75.68 333.21,77.04 333.74,77.04 334.31,78.95 334.95,79.89 335.62,81.39 336.32,82.97 337.01,85.26 337.68,86.07 338.35,86.64 339.03,87.69 339.70,88.94 340.38,89.17 341.05,90.51 341.72,90.78 342.40,90.90 343.07,90.76 343.75,89.36 344.42,87.19 345.09,85.41 345.79,83.56 346.50,81.95 347.18,79.91 347.79,78.42 348.30,77.92 348.74,78.47 349.16,79.08 349.59,79.85 350.01,80.45 350.43,81.15 350.87,82.26 351.38,84.27 352.01,85.45 352.71,87.46 353.42,88.45 354.08,90.63 354.65,91.46 355.18,93.19 355.70,94.08 356.24,93.91 356.81,92.68 357.39,92.08 357.98,89.94 358.57,88.90 359.14,87.20 359.70,86.13 360.27,85.93 360.91,84.80 361.63,84.18 362.41,84.19 363.21,84.29 363.96,83.54 364.66,83.79 365.34,83.42 366.00,83.25 366.66,82.76 367.33,83.47 368.01,83.84 368.68,84.19 369.36,83.85 370.03,84.35 370.70,84.08 371.38,84.43 372.05,83.59 372.73,84.06 373.40,83.64 374.07,82.66 374.75,82.25 375.41,81.98 376.06,81.77 376.73,81.06 377.44,81.80 378.29,80.82 379.23,80.51 380.09,80.20 380.68,80.44" fill="none" stroke="#000" stroke-width="1.7" stroke-linejoin="round" stroke-linecap="round" />
<polyline points="277.70,105.35 278.18,106.35 278.88,106.20 279.65,106.82 280.39,107.60 281.07,106.69 281.74,105.74 282.41,105.45 283.09,104.78 283.76,104.35 284.44,104.29 285.11,103.53 285.78,104.17 286.46,103.98 287.13,103.35 287.81,103.47 288.48,103.80 289.15,103.64 289.83,103.19 290.50,102.77 291.18,102.81 291.85,102.32 292.52,102.55 293.20,102.59 293.87,101.65 294.57,101.85 295.28,101.80 295.96,101.00 296.57,101.43 297.08,101.24 297.52,100.34 297.94,100.13 298.36,100.55 298.81,100.55 299.26,100.97 299.71,102.21 300.16,102.82 300.61,103.37 301.06,104.46 301.51,105.65 301.96,106.43 302.41,107.22 302.86,106.99 303.31,106.73 303.76,105.92 304.20,104.66 304.63,102.09 305.08,100.74 305.55,99.77 306.08,98.77 306.65,97.34 307.21,97.09 307.71,97.29 308.11,97.50 308.45,98.58 308.78,99.32 309.15,101.04 309.56,102.74 310.00,104.19 310.46,106.25 310.95,108.77 311.46,109.97 311.99,111.37 312.54,112.12 313.10,113.10 313.67,113.80 314.26,114.24 314.85,113.52 315.44,113.83 316.03,112.51 316.62,111.45 317.20,109.44 317.77,108.34 318.33,107.56 318.86,106.15 319.40,104.90 319.93,104.72 320.47,104.80 321.00,105.94 321.54,106.05 322.09,106.66 322.65,107.47 323.22,107.41 323.81,108.15 324.42,108.39 325.07,107.27 325.75,105.93 326.44,104.89 327.12,103.84 327.80,102.47 328.49,101.48 329.17,100.60 329.82,100.00 330.43,99.48 331.02,98.82 331.59,98.37 332.15,98.00 332.69,98.42 333.21,98.84 333.74,98.92 334.31,99.38 334.95,100.19 335.62,100.67 336.32,102.28 337.01,103.22 337.68,104.73 338.35,106.42 339.03,107.86 339.70,109.01 340.38,110.05 341.05,111.03 341.72,111.94 342.40,111.77 343.07,111.01 343.75,108.76 344.42,107.17 345.09,105.96 345.79,103.78 346.50,102.51 347.18,101.08 347.79,99.99 348.29,100.35 348.71,99.72 349.12,100.63 349.59,100.77 350.14,101.91 350.73,104.40 351.34,105.76 351.92,106.96 352.46,108.62 352.98,109.92 353.51,111.30 354.08,111.50 354.72,112.24 355.42,113.42 356.11,113.33 356.78,112.44 357.37,111.64 357.92,110.11 358.49,108.82 359.11,107.51 359.83,107.02 360.62,106.54 361.41,105.92 362.17,105.84 362.87,105.54 363.54,105.32 364.20,104.84 364.86,104.99 365.54,104.77 366.21,104.86 366.89,104.00 367.56,104.71 368.23,103.79 368.91,104.48 369.58,104.39 370.26,104.70 370.93,106.12 371.60,107.10 372.28,108.27 372.95,109.48 373.63,109.74 374.30,109.25 374.97,108.59 375.65,108.25 376.33,107.85 377.02,107.62 377.69,106.70 378.34,106.39 379.01,106.25 379.68,105.82 380.27,105.56 380.68,105.60" fill="none" stroke="#000" stroke-width="1.7" stroke-linejoin="round" stroke-linecap="round" />
<polyline points="277.70,129.67 278.18,129.94 278.88,129.91 279.65,130.13 280.39,129.96 281.07,129.88 281.74,129.33 282.41,129.35 283.09,129.10 283.76,128.61 284.44,129.60 285.11,129.16 285.78,129.72 286.46,129.57 287.13,129.44 287.81,128.41 288.48,128.41 289.15,128.75 289.83,127.74 290.50,127.66 291.18,128.01 291.85,127.67 292.52,127.75 293.20,127.26 293.87,126.72 294.55,126.92 295.22,126.19 295.89,125.98 296.57,125.97 297.24,125.49 297.92,125.27 298.59,125.42 299.26,125.28 299.95,126.22 300.64,126.49 301.32,126.97 301.96,127.18 302.53,128.24 303.06,129.19 303.58,130.09 304.12,130.35 304.70,130.18 305.31,129.28 305.90,127.65 306.45,126.62 306.94,126.01 307.38,125.63 307.81,124.32 308.25,124.02 308.70,123.99 309.15,123.17 309.60,123.30 310.05,124.11 310.50,124.24 310.95,124.36 311.39,124.57 311.84,126.18 312.28,127.09 312.71,128.58 313.15,130.22 313.64,131.56 314.19,132.74 314.79,134.29 315.39,135.95 315.98,136.94 316.54,136.64 317.09,135.28 317.62,133.91 318.13,133.10 318.60,131.91 319.03,130.41 319.47,129.88 319.93,128.62 320.45,127.40 321.01,127.35 321.57,127.51 322.09,127.03 322.55,127.69 322.98,127.52 323.41,128.49 323.89,129.72 324.42,130.35 325.00,131.50 325.60,131.93 326.22,132.61 326.87,132.32 327.55,131.19 328.24,130.51 328.92,129.41 329.60,128.98 330.29,127.62 330.97,126.54 331.61,125.41 332.23,124.67 332.82,124.55 333.39,123.25 333.95,122.69 334.50,122.26 335.04,122.18 335.57,122.19 336.11,121.94 336.64,122.38 337.17,122.11 337.71,122.72 338.26,124.26 338.84,124.77 339.42,126.30 340.01,127.16 340.60,128.15 341.18,129.41 341.76,130.44 342.34,132.38 342.94,133.05 343.56,133.77 344.19,134.78 344.83,135.36 345.45,135.22 346.05,135.63 346.63,134.43 347.21,133.67 347.79,132.01 348.39,130.99 348.99,129.26 349.58,127.77 350.13,127.65 350.60,126.90 351.04,125.90 351.46,126.23 351.92,126.10 352.44,125.75 352.98,126.41 353.53,127.33 354.08,127.58 354.63,129.01 355.18,129.54 355.72,130.93 356.24,132.29 356.70,132.62 357.12,133.42 357.55,134.52 358.03,134.39 358.57,134.62 359.15,133.69 359.75,133.12 360.37,132.83 361.02,132.24 361.70,132.57 362.38,131.42 363.07,131.24 363.75,130.32 364.44,130.25 365.11,129.65 365.76,129.28 366.38,128.61 366.96,128.38 367.54,128.88 368.10,128.33 368.64,128.31 369.15,128.47 369.68,128.86 370.26,129.12 370.89,129.27 371.57,130.32 372.26,130.39 372.95,130.47 373.63,131.14 374.30,130.53 374.97,130.66 375.65,131.15 376.33,130.31 377.02,130.43 377.69,130.66 378.34,130.58 379.01,130.08 379.68,130.55 380.27,131.20 380.68,131.18" fill="none" stroke="#000" stroke-width="1.7" stroke-linejoin="round" stroke-linecap="round" />
<polyline points="277.70,141.84 278.34,142.36 279.27,141.52 280.31,142.16 281.29,141.60 282.19,141.18 283.09,141.23 283.99,140.75 284.88,141.27 285.78,140.91 286.68,141.73 287.58,141.60 288.48,141.47 289.40,141.30 290.33,141.53 291.24,140.96 292.07,141.43 292.81,140.47 293.48,140.61 294.12,140.40 294.77,139.93 295.44,140.32 296.12,139.88 296.79,140.09 297.47,139.87 298.14,139.34 298.81,139.04 299.49,138.42 300.16,138.40 300.84,139.27 301.51,139.14 302.18,139.94 302.86,139.77 303.53,140.53 304.21,140.62 304.88,140.98 305.55,140.86 306.25,140.56 306.96,140.61 307.64,140.24 308.25,139.79 308.76,139.87 309.20,138.79 309.62,138.30 310.05,138.41 310.48,138.12 310.91,138.21 311.36,138.35 311.84,138.00 312.39,138.83 312.97,139.55 313.57,141.23 314.18,142.12 314.80,142.63 315.44,143.50 316.08,144.41 316.70,144.85 317.29,144.46 317.88,144.86 318.45,144.01 319.03,143.89 319.63,142.93 320.23,142.21 320.82,142.40 321.37,141.83 321.84,141.70 322.26,141.10 322.68,141.27 323.17,141.62 323.75,141.99 324.39,142.54 325.05,143.03 325.68,142.94 326.27,143.24 326.84,143.47 327.41,142.81 328.02,143.20 328.67,142.57 329.34,142.25 330.03,141.29 330.72,141.00 331.39,140.82 332.06,140.09 332.74,139.30 333.41,139.60 334.11,138.81 334.82,137.44 335.50,136.37 336.11,136.56 336.61,135.93 337.04,135.13 337.45,135.26 337.90,135.28 338.41,136.36 338.95,136.41 339.50,137.90 340.06,138.61 340.62,138.99 341.20,140.81 341.78,141.71 342.40,143.11 343.05,144.03 343.72,144.21 344.41,144.64 345.09,146.00 345.78,145.95 346.46,146.88 347.14,146.84 347.79,146.69 348.40,146.04 348.99,144.67 349.56,143.16 350.13,141.51 350.69,140.93 351.24,139.36 351.77,138.29 352.28,137.89 352.75,136.67 353.18,137.17 353.61,136.59 354.08,137.67 354.60,138.60 355.16,139.25 355.71,140.84 356.24,142.43 356.69,143.15 357.09,144.10 357.52,144.70 358.03,145.11 358.69,145.62 359.43,145.60 360.19,145.15 360.91,145.00 361.57,144.53 362.20,144.72 362.82,144.27 363.43,143.49 364.01,143.24 364.58,143.31 365.16,143.04 365.76,143.29 366.41,142.37 367.09,141.93 367.78,142.17 368.46,141.24 369.13,141.69 369.81,141.62 370.48,142.36 371.15,142.37 371.83,142.90 372.50,142.70 373.18,143.58 373.85,143.85 374.54,144.01 375.25,144.60 375.93,144.88 376.55,144.27 377.05,144.37 377.47,144.23 377.88,143.88 378.34,143.68 378.94,144.08 379.62,144.32 380.25,145.16 380.68,145.19" fill="none" stroke="#000" stroke-width="1.7" stroke-linejoin="round" stroke-linecap="round" />
<polyline points="277.70,153.59 278.34,153.06 279.27,152.99 280.31,152.87 281.29,152.61 282.19,152.44 283.09,152.48 283.99,152.57 284.88,153.59 285.78,153.22 286.68,152.33 287.58,152.73 288.48,152.86 289.38,152.46 290.28,152.10 291.18,152.62 292.07,152.68 292.99,152.56 293.93,153.07 294.83,152.63 295.67,153.52 296.41,153.04 297.07,152.68 297.71,152.61 298.36,152.00 299.04,151.28 299.71,150.95 300.39,150.61 301.06,150.47 301.73,151.50 302.41,152.07 303.08,152.09 303.76,152.43 304.43,153.23 305.10,153.76 305.78,154.05 306.45,153.31 307.13,153.67 307.80,153.24 308.47,152.60 309.15,151.67 309.83,151.02 310.52,151.10 311.20,150.13 311.84,149.92 312.45,150.11 313.02,150.14 313.59,150.93 314.18,150.68 314.80,150.89 315.44,151.91 316.08,152.46 316.70,153.06 317.28,153.24 317.85,153.68 318.43,153.91 319.03,153.64 319.68,153.81 320.36,153.62 321.05,153.89 321.73,154.26 322.40,153.79 323.08,154.38 323.75,153.83 324.42,154.12 325.10,154.74 325.77,154.01 326.45,154.07 327.12,154.48 327.80,154.12 328.49,154.45 329.17,153.46 329.82,153.98 330.43,153.63 331.02,153.14 331.59,152.30 332.15,151.63 332.69,151.35 333.21,150.45 333.74,149.64 334.31,148.99 334.95,148.67 335.62,148.58 336.32,148.57 337.01,148.65 337.68,148.13 338.35,148.66 339.03,149.35 339.70,150.11 340.37,150.68 341.03,151.46 341.70,152.32 342.40,153.46 343.15,154.46 343.95,155.83 344.73,156.53 345.45,157.06 346.08,157.58 346.64,157.84 347.20,157.57 347.79,157.55 348.42,156.19 349.06,155.87 349.74,154.75 350.49,153.44 351.34,152.77 352.28,152.18 353.22,150.80 354.08,150.19 354.84,149.14 355.54,148.54 356.19,148.66 356.78,147.78 357.28,148.46 357.70,149.89 358.11,150.77 358.57,151.43 359.11,152.99 359.70,153.74 360.30,154.87 360.91,155.35 361.53,155.74 362.17,155.78 362.80,155.48 363.43,155.05 364.01,154.94 364.58,155.40 365.16,154.80 365.76,154.15 366.41,154.77 367.09,154.06 367.78,153.83 368.46,154.21 369.13,153.89 369.81,154.10 370.48,154.18 371.15,153.91 371.83,154.39 372.50,154.12 373.18,154.73 373.85,154.99 374.49,154.64 375.11,155.12 375.77,154.92 376.55,155.38 377.57,155.84 378.78,155.52 379.90,155.67 380.68,155.44" fill="none" stroke="#000" stroke-width="1.7" stroke-linejoin="round" stroke-linecap="round" />
<polyline points="277.70,165.22 278.34,164.35 279.27,164.88 280.31,164.29 281.29,163.49 282.19,164.27 283.09,164.04 283.99,164.02 284.88,164.88 285.80,164.33 286.74,164.26 287.64,163.33 288.48,163.80 289.22,163.10 289.88,163.41 290.52,163.69 291.18,163.40 291.85,163.95 292.52,163.50 293.20,163.47 293.87,163.73 294.55,163.24 295.22,163.44 295.89,162.92 296.57,163.00 297.24,162.59 297.92,162.88 298.59,162.85 299.26,162.30 299.94,163.27 300.61,163.45 301.29,164.41 301.96,164.61 302.63,164.61 303.31,163.51 303.98,163.31 304.65,163.40 305.33,163.61 306.00,163.51 306.68,162.99 307.35,163.63 308.02,163.10 308.70,163.49 309.37,163.63 310.05,162.78 310.72,163.31 311.39,162.69 312.07,161.95 312.74,161.78 313.42,162.22 314.09,162.99 314.76,163.19 315.44,163.14 316.11,163.42 316.79,163.90 317.46,164.96 318.13,164.65 318.81,165.28 319.48,165.25 320.16,165.81 320.83,165.56 321.50,165.26 322.18,165.81 322.85,165.24 323.53,165.15 324.20,165.02 324.87,164.87 325.55,163.65 326.22,163.73 326.90,163.33 327.57,163.49 328.24,163.70 328.92,163.47 329.59,162.55 330.27,162.57 330.94,163.08 331.61,162.81 332.29,162.37 332.96,162.30 333.64,161.84 334.31,162.43 334.98,161.94 335.66,162.43 336.33,162.19 337.01,161.66 337.68,161.89 338.35,161.74 339.03,162.41 339.70,162.18 340.38,161.78 341.05,162.11 341.72,162.59 342.40,163.13 343.08,163.91 343.78,164.57 344.46,165.39 345.09,165.73 345.67,166.78 346.19,166.90 346.71,166.84 347.25,167.44 347.81,168.02 348.38,167.04 348.97,167.00 349.59,167.29 350.24,166.55 350.91,166.09 351.60,165.81 352.28,165.09 352.96,164.93 353.65,164.43 354.33,164.41 354.98,164.02 355.60,162.62 356.20,162.69 356.78,162.53 357.31,162.46 357.80,162.41 358.25,162.48 358.68,162.83 359.11,163.03 359.54,163.62 359.97,164.98 360.41,165.91 360.91,166.66 361.49,166.90 362.13,166.92 362.79,167.65 363.43,167.72 364.01,167.34 364.58,167.12 365.16,166.42 365.76,166.27 366.41,165.85 367.09,165.23 367.78,165.29 368.46,165.15 369.13,165.81 369.81,165.39 370.48,165.42 371.15,165.43 371.83,165.54 372.50,165.79 373.18,165.72 373.85,165.73 374.49,166.71 375.11,166.40 375.77,166.52 376.55,166.83 377.57,166.86 378.78,167.09 379.90,167.34 380.68,168.02" fill="none" stroke="#000" stroke-width="1.7" stroke-linejoin="round" stroke-linecap="round" />
<polyline points="277.70,188.49 278.34,188.29 279.27,188.41 280.31,187.96 281.29,188.23 282.19,187.77 283.09,188.66 283.99,188.63 284.88,188.27 285.78,188.23 286.68,188.34 287.58,188.44 288.48,187.65 289.38,188.14 290.28,188.00 291.18,188.64 292.07,187.90 292.97,188.11 293.87,188.15 294.77,187.18 295.67,187.01 296.57,186.93 297.47,187.43 298.36,187.90 299.26,188.53 300.16,187.95 301.06,187.87 301.96,187.41 302.86,187.71 303.76,188.16 304.65,188.30 305.55,188.20 306.45,188.92 307.35,189.09 308.25,188.51 309.15,187.73 310.05,188.28 310.95,188.24 311.84,187.62 312.74,187.38 313.64,187.48 314.54,188.02 315.44,188.66 316.34,188.70 317.24,189.11 318.13,188.27 319.03,188.09 319.93,188.20 320.83,187.94 321.73,187.76 322.63,188.23 323.53,188.09 324.42,187.89 325.32,188.11 326.22,187.48 327.12,187.82 328.02,187.44 328.92,187.79 329.82,188.26 330.72,188.27 331.61,188.65 332.51,188.08 333.41,188.70 334.31,188.02 335.21,188.28 336.11,187.40 337.01,188.15 337.90,188.46 338.80,188.16 339.70,187.83 340.60,187.69 341.50,187.49 342.40,188.06 343.30,187.52 344.19,188.50 345.09,188.39 345.99,188.73 346.91,188.87 347.85,188.87 348.75,189.03 349.59,189.15 350.34,189.32 351.05,190.34 351.69,190.40 352.28,191.06 352.77,190.79 353.18,190.13 353.59,188.95 354.08,188.96 354.69,189.07 355.37,188.65 356.08,188.66 356.78,189.07 357.45,189.64 358.12,189.03 358.80,189.06 359.47,189.56 360.15,189.62 360.82,189.50 361.49,188.81 362.17,189.18 362.82,188.15 363.46,188.38 364.13,187.48 364.86,187.32 365.70,187.53 366.60,187.72 367.54,188.46 368.46,188.74 369.36,188.52 370.26,189.41 371.15,188.91 372.05,188.70 372.92,188.60 373.76,188.93 374.65,188.88 375.65,187.99 376.92,187.88 378.39,188.74 379.74,188.34 380.68,188.69" fill="none" stroke="#000" stroke-width="1.7" stroke-linejoin="round" stroke-linecap="round" />
<polyline points="277.70,177.98 278.18,177.46 278.88,177.45 279.65,177.04 280.39,177.28 281.07,176.76 281.74,176.39 282.41,176.67 283.09,175.75 283.76,176.16 284.44,175.44 285.11,175.88 285.78,175.66 286.46,176.20 287.13,175.71 287.81,176.40 288.48,176.39 289.15,176.80 289.83,176.68 290.50,176.25 291.18,175.86 291.85,176.06 292.52,176.38 293.20,176.82 293.87,176.76 294.55,176.61 295.22,176.82 295.89,176.41 296.57,175.93 297.24,176.55 297.92,175.94 298.59,176.40 299.26,176.16 299.94,176.95 300.61,177.15 301.29,176.76 301.96,177.23 302.63,177.14 303.31,176.37 303.98,176.13 304.65,176.09 305.33,176.46 306.00,175.89 306.68,176.50 307.35,176.55 308.02,176.58 308.70,176.89 309.37,177.31 310.05,176.74 310.72,177.23 311.39,176.52 312.07,176.62 312.74,176.43 313.42,175.58 314.09,175.93 314.76,175.82 315.44,175.03 316.11,174.70 316.79,174.75 317.46,175.55 318.13,174.77 318.81,175.75 319.48,175.32 320.16,176.11 320.83,175.74 321.50,175.93 322.18,176.47 322.85,176.01 323.53,176.32 324.20,176.98 324.87,176.95 325.55,177.25 326.22,177.44 326.90,176.62 327.57,176.80 328.24,177.28 328.92,177.18 329.59,176.63 330.27,177.12 330.94,176.89 331.61,176.94 332.29,176.31 332.96,175.75 333.64,176.10 334.31,175.04 335.00,175.18 335.71,174.16 336.39,174.19 337.01,173.62 337.52,173.69 337.96,173.31 338.37,173.66 338.80,173.09 339.24,173.56 339.67,173.30 340.11,172.96 340.60,173.28 341.14,173.62 341.72,174.30 342.33,174.15 342.94,174.41 343.56,175.53 344.19,175.96 344.83,176.30 345.45,176.26 346.04,176.39 346.61,176.58 347.18,176.49 347.79,176.59 348.44,177.21 349.11,177.35 349.80,177.72 350.49,177.78 351.16,177.73 351.83,178.64 352.51,178.84 353.18,178.84 353.86,178.75 354.53,178.64 355.20,178.61 355.88,178.24 356.55,177.88 357.23,177.36 357.90,177.07 358.57,176.93 359.25,177.18 359.92,176.38 360.59,176.14 361.27,176.03 361.94,175.78 362.62,176.65 363.29,175.89 363.96,176.56 364.64,176.99 365.31,176.54 365.99,177.00 366.66,176.90 367.33,176.80 368.01,176.73 368.68,176.64 369.36,177.31 370.03,177.37 370.70,177.64 371.38,177.03 372.05,177.72 372.73,177.44 373.40,177.74 374.07,177.64 374.75,177.38 375.41,177.86 376.06,176.83 376.73,177.34 377.44,177.32 378.29,176.98 379.23,177.06 380.09,177.44 380.68,177.01" fill="none" stroke="#0000ff" stroke-width="2.7" stroke-linejoin="round" stroke-linecap="round" />
<polyline points="277.70,200.75 279.00,200.38 280.30,200.53 281.60,199.80 282.90,199.17 284.20,199.60 285.50,200.34 286.80,200.69 288.10,200.76 289.40,200.84 290.70,200.94 292.00,200.94 293.30,200.82 294.60,200.74 295.90,200.96 297.20,201.39 298.50,201.68 299.80,201.50 301.10,201.67 302.40,201.45 303.70,201.23 305.00,201.05 306.30,200.44 307.60,200.28 308.90,199.66 310.20,199.49 311.50,199.62 312.80,199.75 314.10,200.05 315.40,198.61 316.70,197.92 318.00,199.03 319.30,200.43 320.60,201.08 321.90,200.68 323.20,200.27 324.50,200.18 325.80,200.81 327.10,200.66 328.40,200.81 329.70,200.48 331.00,200.36 332.30,200.48 333.60,200.43 334.90,200.77 336.20,201.17 337.50,200.23 338.80,199.31 340.10,199.73 341.40,200.97 342.70,201.06 344.00,200.73 345.30,200.53 346.60,201.06 347.90,200.99 349.20,200.55 350.50,199.84 351.80,199.29 353.10,199.68 354.40,200.57 355.70,201.17 357.00,200.91 358.30,200.41 359.60,199.95 360.90,199.74 362.20,199.71 363.50,200.03 364.80,200.87 366.10,201.06 367.40,201.53 368.70,199.89 370.00,198.62 371.30,199.67 372.60,200.65 373.90,200.81 375.20,200.73 376.50,200.97 377.80,201.17 379.10,201.15 380.40,200.07" fill="none" stroke="#000" stroke-width="1.7" stroke-linejoin="round" stroke-linecap="round" />
<polyline points="277.70,212.54 279.00,212.34 280.30,212.35 281.60,211.90 282.90,211.57 284.20,212.45 285.50,213.19 286.80,212.84 288.10,211.83 289.40,211.43 290.70,211.46 292.00,212.01 293.30,212.09 294.60,212.42 295.90,212.87 297.20,212.51 298.50,212.74 299.80,212.77 301.10,212.13 302.40,211.32 303.70,211.62 305.00,213.29 306.30,213.31 307.60,212.67 308.90,211.88 310.20,212.17 311.50,212.20 312.80,212.08 314.10,212.04 315.40,212.07 316.70,211.89 318.00,211.75 319.30,211.74 320.60,211.87 321.90,213.10 323.20,213.07 324.50,212.70 325.80,212.72 327.10,213.00 328.40,212.64 329.70,211.71 331.00,210.87 332.30,211.30 333.60,212.45 334.90,212.20 336.20,212.23 337.50,212.22 338.80,212.16 340.10,212.63 341.40,212.57 342.70,212.33 344.00,212.22 345.30,212.35 346.60,212.07 347.90,212.05 349.20,211.87 350.50,212.27 351.80,212.45 353.10,212.02 354.40,212.40 355.70,212.33 357.00,212.26 358.30,212.47 359.60,212.01 360.90,212.05 362.20,211.59 363.50,212.47 364.80,212.07 366.10,211.42 367.40,211.76 368.70,212.56 370.00,213.50 371.30,213.62 372.60,213.14 373.90,213.14 375.20,213.53 376.50,213.70 377.80,213.13 379.10,212.08 380.40,211.57" fill="none" stroke="#000" stroke-width="1.7" stroke-linejoin="round" stroke-linecap="round" />
<polyline points="277.70,222.72 279.00,222.82 280.30,222.79 281.60,223.09 282.90,223.44 284.20,223.92 285.50,223.53 286.80,223.14 288.10,222.62 289.40,222.35 290.70,221.95 292.00,222.10 293.30,222.72 294.60,223.50 295.90,223.49 297.20,223.30 298.50,223.42 299.80,223.10 301.10,222.97 302.40,222.73 303.70,222.35 305.00,221.77 306.30,221.52 307.60,222.24 308.90,222.98 310.20,222.74 311.50,222.88 312.80,222.67 314.10,223.49 315.40,223.68 316.70,224.60 318.00,224.35 319.30,223.71 320.60,223.81 321.90,223.65 323.20,223.52 324.50,224.18 325.80,224.36 327.10,223.68 328.40,223.48 329.70,223.86 331.00,223.90 332.30,223.30 333.60,222.82 334.90,222.75 336.20,222.58 337.50,222.65 338.80,222.37 340.10,222.46 341.40,223.15 342.70,224.07 344.00,224.76 345.30,224.52 346.60,223.86 347.90,223.47 349.20,223.73 350.50,223.68 351.80,223.25 353.10,223.41 354.40,224.38 355.70,225.70 357.00,225.89 358.30,225.31 359.60,225.11 360.90,224.63 362.20,224.36 363.50,224.41 364.80,224.55 366.10,224.90 367.40,225.20 368.70,224.31 370.00,223.63 371.30,223.47 372.60,223.84 373.90,224.16 375.20,224.44 376.50,224.35 377.80,223.90 379.10,223.89 380.40,224.58" fill="none" stroke="#000" stroke-width="1.7" stroke-linejoin="round" stroke-linecap="round" />
<polyline points="277.70,234.47 279.00,235.00 280.30,235.17 281.60,235.56 282.90,236.42 284.20,235.72 285.50,234.95 286.80,234.38 288.10,235.55 289.40,235.99 290.70,235.26 292.00,235.18 293.30,235.54 294.60,236.04 295.90,235.76 297.20,235.43 298.50,235.17 299.80,235.31 301.10,235.36 302.40,235.84 303.70,235.66 305.00,235.19 306.30,235.50 307.60,235.24 308.90,235.44 310.20,235.55 311.50,235.58 312.80,236.30 314.10,236.59 315.40,236.72 316.70,235.92 318.00,235.60 319.30,234.54 320.60,234.56 321.90,235.40 323.20,235.69 324.50,235.55 325.80,235.57 327.10,235.41 328.40,235.90 329.70,236.19 331.00,236.40 332.30,236.77 333.60,236.38 334.90,235.67 336.20,234.87 337.50,235.45 338.80,236.26 340.10,236.16 341.40,235.77 342.70,235.15 344.00,235.29 345.30,235.37 346.60,234.76 347.90,235.20 349.20,235.29 350.50,235.07 351.80,235.76 353.10,236.19 354.40,235.28 355.70,234.78 357.00,234.77 358.30,235.15 359.60,234.85 360.90,234.94 362.20,234.85 363.50,235.08 364.80,235.08 366.10,235.07 367.40,234.93 368.70,235.21 370.00,235.54 371.30,235.80 372.60,235.97 373.90,235.60 375.20,234.88 376.50,234.66 377.80,235.19 379.10,235.38 380.40,234.28" fill="none" stroke="#000" stroke-width="1.7" stroke-linejoin="round" stroke-linecap="round" />
<polyline points="393.49,60.52 393.98,60.27 394.69,59.71 395.49,59.01 396.24,58.88 396.93,58.99 397.64,59.60 398.33,60.17 398.98,60.33 399.56,59.75 400.10,59.10 400.63,58.15 401.18,57.22 401.77,56.62 402.39,55.69 403.00,55.29 403.56,54.76 404.05,54.88 404.51,55.11 404.94,55.55 405.39,55.94 405.84,56.53 406.30,57.64 406.76,58.15 407.22,58.44 407.67,58.16 408.13,57.62 408.59,56.61 409.05,55.92 409.52,55.66 410.00,55.02 410.46,54.65 410.88,54.35 411.23,53.97 411.54,53.56 411.84,53.00 412.16,53.25 412.50,53.96 412.86,54.80 413.23,55.60 413.62,56.82 414.05,58.38 414.51,60.12 414.99,61.97 415.45,63.49 415.91,64.31 416.37,64.95 416.83,65.13 417.28,65.16 417.75,64.81 418.22,63.67 418.68,62.22 419.11,60.61 419.51,58.78 419.89,56.44 420.25,53.73 420.58,51.54 420.89,48.95 421.17,46.44 421.43,43.98 421.67,42.27 421.88,41.20 422.05,40.66 422.22,40.36 422.41,40.55 422.61,41.10 422.83,41.62 423.06,42.70 423.32,44.24 423.62,45.59 423.95,47.39 424.29,49.53 424.60,52.52 424.89,56.10 425.16,61.07 425.43,65.71 425.70,68.74 425.95,70.42 426.17,71.08 426.43,70.97 426.80,70.82 427.30,70.65 427.89,70.53 428.53,70.11 429.18,69.86 429.86,69.42 430.60,69.22 431.31,68.92 431.92,68.25 432.41,66.85 432.82,65.30 433.18,63.69 433.57,62.26 433.98,60.49 434.39,59.32 434.81,57.85 435.22,56.54 435.63,55.69 436.04,54.73 436.45,54.02 436.87,53.95 437.28,53.80 437.69,54.14 438.10,54.59 438.51,55.29 438.91,55.97 439.29,56.62 439.70,57.73 440.16,58.23 440.70,58.44 441.30,58.60 441.93,58.14 442.54,57.50 443.15,56.40 443.77,54.46 444.37,52.67 444.92,51.29 445.39,50.59 445.81,50.01 446.20,49.69 446.57,49.24 446.91,48.78 447.22,48.79 447.52,48.59 447.85,48.65 448.20,48.78 448.57,48.79 448.94,49.17 449.31,49.47 449.67,50.07 450.03,50.08 450.40,50.48 450.77,51.39 451.17,52.28 451.59,53.27 452.01,54.83 452.42,56.13 452.82,57.34 453.22,58.53 453.63,60.10 454.07,61.14 454.52,62.28 455.00,63.48 455.51,64.15 456.08,64.43 456.77,63.69 457.53,62.79 458.31,61.68 459.01,60.42 459.61,59.94 460.14,58.79 460.66,57.97 461.21,57.25 461.79,56.51 462.40,56.05 463.00,55.39 463.59,55.14 464.13,55.19 464.66,55.39 465.20,56.07 465.78,57.11 466.43,58.20 467.12,59.62 467.83,60.90 468.53,62.33 469.23,63.73 469.96,65.44 470.65,66.78 471.27,67.93 471.77,68.74 472.19,69.35 472.60,69.60 473.10,69.89 473.72,69.50 474.42,69.37 475.14,68.64 475.85,67.76 476.53,67.06 477.22,66.18 477.91,65.14 478.59,64.31 479.28,63.43 479.97,62.67 480.65,62.22 481.34,61.45 482.00,61.17 482.65,60.85 483.33,60.49 484.08,60.24 484.93,60.33 485.86,60.13 486.81,60.35 487.74,60.08 488.65,60.30 489.54,60.47 490.45,60.34 491.40,60.77 492.52,60.55 493.74,60.87 494.84,60.79 495.61,60.99" fill="none" stroke="#000" stroke-width="1.7" stroke-linejoin="round" stroke-linecap="round" />
<polyline points="393.49,71.77 393.98,71.86 394.69,72.30 395.49,72.46 396.24,72.59 396.92,72.30 397.61,71.64 398.29,71.03 398.98,70.82 399.69,70.25 400.41,70.34 401.10,69.86 401.73,69.61 402.25,69.32 402.70,69.26 403.12,69.07 403.56,68.82 404.01,69.19 404.47,69.50 404.93,70.33 405.39,70.76 405.82,71.11 406.24,71.71 406.69,72.46 407.22,72.34 407.84,72.28 408.53,71.31 409.25,70.42 409.96,69.81 410.67,68.99 411.39,68.33 412.09,67.60 412.71,67.74 413.23,67.91 413.68,68.94 414.10,69.65 414.54,70.81 414.99,71.76 415.45,72.47 415.91,73.14 416.37,73.75 416.83,73.90 417.28,73.47 417.74,73.13 418.20,72.36 418.66,71.78 419.14,70.99 419.60,69.87 420.03,68.93 420.42,67.56 420.78,66.59 421.13,65.10 421.49,64.45 421.86,63.74 422.24,63.14 422.60,62.60 422.96,62.37 423.29,62.57 423.62,63.18 423.93,63.67 424.24,64.45 424.53,64.68 424.81,65.42 425.08,66.27 425.34,67.07 425.58,68.22 425.80,69.44 426.03,70.94 426.25,72.43 426.44,74.18 426.60,75.74 426.82,76.91 427.17,78.18 427.70,78.22 428.37,78.43 429.07,78.36 429.73,77.95 430.30,78.23 430.84,78.20 431.37,77.84 431.92,77.39 432.51,76.15 433.11,74.26 433.72,72.59 434.30,70.93 434.87,70.30 435.42,69.54 435.97,69.06 436.50,68.88 437.00,68.27 437.48,68.07 437.97,67.91 438.51,67.80 439.13,68.03 439.80,68.40 440.47,69.22 441.07,69.61 441.56,70.39 441.98,70.78 442.40,71.44 442.90,71.54 443.55,71.37 444.28,71.04 445.01,70.25 445.65,69.64 446.17,69.31 446.62,68.33 447.04,67.81 447.48,67.18 447.94,66.41 448.40,65.69 448.85,65.21 449.31,65.35 449.75,65.20 450.17,65.77 450.62,66.37 451.14,66.87 451.74,67.82 452.40,68.67 453.11,69.81 453.89,70.69 454.74,71.45 455.66,72.17 456.61,72.92 457.55,73.31 458.46,73.46 459.38,73.44 460.29,73.58 461.21,73.43 462.12,73.78 463.04,73.70 463.95,74.34 464.87,74.34 465.80,74.51 466.75,74.38 467.68,74.38 468.53,74.24 469.28,74.61 469.96,74.61 470.61,74.92 471.27,75.08 471.96,75.41 472.64,75.61 473.33,75.74 474.02,76.33 474.70,76.70 475.39,77.81 476.08,78.47 476.76,78.96 477.45,78.72 478.14,77.92 478.82,76.75 479.51,76.08 480.19,75.70 480.88,75.40 481.57,74.60 482.25,74.40 482.94,73.90 483.63,73.39 484.31,72.72 485.00,72.64 485.68,72.52 486.37,72.92 487.06,72.88 487.74,73.61 488.43,73.81 489.12,74.31 489.80,74.68 490.49,75.16 491.18,75.71 491.88,76.02 492.57,76.02 493.23,76.12 493.91,75.73 494.60,75.20 495.19,74.63 495.61,74.35" fill="none" stroke="#000" stroke-width="1.7" stroke-linejoin="round" stroke-linecap="round" />
<polyline points="393.49,83.43 393.98,83.60 394.69,83.47 395.49,83.23 396.24,82.94 396.92,82.77 397.61,82.70 398.29,82.56 398.98,82.32 399.65,82.13 400.32,81.83 401.00,81.88 401.73,81.81 402.49,81.52 403.29,80.91 404.13,80.90 405.02,80.69 406.00,80.94 407.06,81.83 408.10,82.26 409.05,82.50 409.86,81.92 410.60,81.51 411.29,80.88 411.98,80.55 412.64,80.66 413.27,81.15 413.89,81.74 414.54,82.25 415.21,82.91 415.90,83.94 416.59,84.64 417.28,84.93 418.00,84.28 418.75,83.65 419.44,82.46 420.03,81.85 420.41,81.08 420.66,81.12 420.91,80.81 421.31,80.29 421.94,80.07 422.70,79.31 423.51,78.85 424.24,78.72 424.86,78.64 425.43,78.92 426.00,79.44 426.62,79.91 427.28,80.82 427.98,81.87 428.72,83.22 429.54,84.17 430.50,84.80 431.56,85.45 432.62,85.74 433.57,85.66 434.38,85.24 435.12,84.88 435.81,84.25 436.50,83.44 437.15,83.01 437.75,82.58 438.41,82.11 439.24,81.47 440.36,81.58 441.68,81.48 443.01,81.60 444.19,81.79 445.13,81.29 445.94,80.86 446.70,80.27 447.48,79.77 448.28,79.35 449.07,79.05 449.89,78.98 450.77,78.79 451.80,78.72 452.92,78.83 454.03,79.24 454.98,79.92 455.74,80.62 456.36,81.74 456.93,82.84 457.55,83.35 458.22,84.02 458.91,84.00 459.60,84.44 460.29,84.29 460.98,84.40 461.66,84.68 462.35,84.41 463.04,84.30 463.72,84.50 464.41,84.28 465.10,84.28 465.78,84.01 466.47,84.01 467.15,84.18 467.84,84.02 468.53,84.24 469.21,84.01 469.90,84.39 470.59,84.23 471.27,84.43 471.96,84.15 472.64,84.08 473.33,84.26 474.02,84.03 474.70,84.30 475.39,84.31 476.08,84.59 476.76,84.62 477.45,84.80 478.14,84.85 478.82,84.58 479.51,84.37 480.19,84.40 480.88,84.15 481.57,83.81 482.25,83.33 482.94,83.32 483.63,83.02 484.31,83.00 485.00,82.53 485.68,82.37 486.37,82.04 487.06,81.69 487.74,81.68 488.43,81.89 489.12,82.30 489.80,82.54 490.49,82.90 491.18,83.57 491.88,83.68 492.57,84.47 493.23,84.85 493.91,85.23 494.60,85.61 495.19,86.09 495.61,86.24" fill="none" stroke="#000" stroke-width="1.7" stroke-linejoin="round" stroke-linecap="round" />
<polyline points="393.49,107.45 393.98,107.19 394.69,106.91 395.49,106.35 396.24,106.31 396.92,106.26 397.61,106.73 398.29,106.85 398.98,106.60 399.68,106.70 400.38,106.54 401.07,106.11 401.73,105.97 402.36,105.66 402.97,105.03 403.56,104.36 404.11,104.29 404.59,104.20 405.03,104.64 405.47,105.04 405.94,105.65 406.45,105.88 406.98,106.33 407.54,106.61 408.13,106.69 408.78,106.95 409.47,106.75 410.18,106.58 410.88,106.29 411.56,106.12 412.25,106.15 412.94,106.15 413.62,106.13 414.31,106.08 414.99,106.23 415.68,106.62 416.37,106.89 417.05,106.61 417.74,106.76 418.43,106.40 419.11,106.30 419.80,105.96 420.49,105.76 421.17,105.53 421.86,105.65 422.54,105.78 423.23,105.76 423.92,106.12 424.60,106.55 425.29,106.23 425.98,106.13 426.66,106.03 427.35,105.85 428.03,106.05 428.72,106.33 429.41,106.56 430.09,106.93 430.78,106.62 431.47,106.46 432.15,106.61 432.84,106.36 433.53,106.58 434.21,106.64 434.90,106.82 435.58,106.67 436.27,106.49 436.96,106.54 437.64,106.19 438.33,106.03 439.02,105.90 439.70,105.76 440.39,105.43 441.07,105.41 441.76,105.68 442.45,105.67 443.13,105.75 443.82,106.06 444.51,106.11 445.19,106.54 445.88,106.45 446.57,106.87 447.25,106.77 447.94,106.60 448.62,106.71 449.31,106.28 450.00,106.04 450.68,105.67 451.37,105.59 452.06,105.56 452.74,105.65 453.43,105.80 454.11,106.27 454.80,106.22 455.49,106.45 456.17,106.70 456.86,106.90 457.55,106.80 458.23,106.76 458.92,106.67 459.61,106.39 460.29,106.55 460.98,106.51 461.66,106.44 462.35,106.58 463.04,106.86 463.72,106.83 464.41,106.95 465.10,107.38 465.78,107.30 466.47,107.24 467.15,107.14 467.84,107.05 468.53,106.60 469.21,106.56 469.90,106.33 470.59,106.38 471.27,106.38 471.96,106.55 472.64,106.57 473.33,106.65 474.02,106.70 474.70,106.92 475.39,106.98 476.08,107.36 476.76,107.41 477.45,107.36 478.14,106.93 478.82,106.96 479.51,106.84 480.19,106.62 480.88,106.66 481.57,106.57 482.25,106.47 482.94,106.54 483.63,106.56 484.31,106.77 485.00,106.59 485.68,106.97 486.37,107.16 487.06,107.27 487.74,107.20 488.43,107.05 489.12,107.12 489.80,107.02 490.49,106.65 491.18,106.49 491.88,106.36 492.57,106.21 493.23,106.45 493.91,106.73 494.60,106.93 495.19,107.04 495.61,107.29" fill="none" stroke="#000" stroke-width="1.7" stroke-linejoin="round" stroke-linecap="round" />
<polyline points="393.49,118.35 393.98,117.89 394.69,117.89 395.49,117.41 396.24,117.16 396.92,117.55 397.61,117.67 398.29,118.04 398.98,118.10 399.67,118.15 400.35,117.95 401.04,117.75 401.73,117.17 402.41,117.22 403.10,116.63 403.79,116.43 404.47,116.49 405.16,116.49 405.84,116.75 406.53,117.15 407.22,117.24 407.90,117.63 408.59,117.53 409.28,117.86 409.96,117.85 410.65,117.60 411.33,117.15 412.02,117.21 412.71,116.80 413.39,117.08 414.08,117.25 414.77,117.34 415.45,117.78 416.14,118.00 416.83,118.13 417.51,118.20 418.20,118.28 418.88,118.17 419.57,117.76 420.26,117.73 420.94,117.56 421.63,117.32 422.32,117.26 423.00,116.92 423.69,117.19 424.37,116.95 425.06,117.35 425.75,117.45 426.43,117.70 427.12,117.78 427.81,117.69 428.49,117.46 429.18,117.29 429.86,117.12 430.55,117.07 431.24,116.92 431.92,116.87 432.61,117.23 433.30,117.39 433.98,117.59 434.67,117.60 435.36,117.72 436.04,117.32 436.73,117.10 437.41,117.02 438.10,116.89 438.79,116.80 439.47,116.57 440.16,116.62 440.85,116.75 441.53,116.93 442.22,117.22 442.90,117.18 443.59,117.39 444.28,117.43 444.96,117.84 445.65,117.81 446.34,117.74 447.02,117.49 447.71,117.41 448.40,117.22 449.08,117.30 449.77,117.33 450.45,116.95 451.14,116.81 451.83,116.89 452.51,117.04 453.20,117.37 453.89,117.48 454.57,117.56 455.26,117.71 455.94,117.98 456.63,118.13 457.32,118.34 458.00,118.07 458.69,118.08 459.38,117.89 460.06,117.72 460.75,117.47 461.44,117.52 462.12,117.21 462.81,117.24 463.49,117.51 464.18,117.60 464.87,117.61 465.55,117.78 466.24,117.89 466.93,118.40 467.61,118.36 468.30,118.29 468.98,118.02 469.67,117.50 470.36,117.45 471.04,117.31 471.73,117.57 472.42,117.73 473.10,117.58 473.79,117.69 474.48,117.96 475.16,118.27 475.85,118.22 476.53,117.91 477.22,117.92 477.91,117.61 478.59,117.34 479.28,117.28 479.97,117.88 480.65,118.04 481.34,118.10 482.02,118.40 482.71,118.72 483.40,118.96 484.08,118.82 484.77,118.68 485.46,118.15 486.14,117.82 486.83,117.89 487.52,117.72 488.20,117.81 488.89,118.21 489.57,118.12 490.25,118.07 490.91,117.98 491.59,117.84 492.32,117.78 493.18,117.88 494.14,117.94 495.01,117.97 495.61,118.27" fill="none" stroke="#000" stroke-width="1.7" stroke-linejoin="round" stroke-linecap="round" />
<polyline points="393.49,94.66 393.98,93.93 394.69,93.98 395.49,93.65 396.24,93.70 396.92,93.75 397.61,93.51 398.29,93.98 398.98,94.08 399.67,93.87 400.35,93.51 401.04,94.00 401.73,93.64 402.41,93.11 403.10,93.13 403.79,93.63 404.47,92.98 405.16,93.17 405.84,93.61 406.53,93.77 407.22,93.67 407.90,93.72 408.59,93.07 409.28,93.00 409.96,93.58 410.65,93.28 411.33,92.47 412.02,92.33 412.71,92.44 413.39,93.13 414.08,92.83 414.77,93.48 415.45,93.91 416.14,93.83 416.83,94.19 417.51,93.74 418.20,93.65 418.88,93.44 419.57,93.83 420.26,93.08 420.94,93.58 421.63,93.19 422.32,92.59 423.00,92.95 423.69,92.38 424.37,92.70 425.06,92.49 425.75,93.21 426.43,93.51 427.12,93.81 427.81,93.42 428.49,94.45 429.18,94.52 429.86,95.03 430.55,95.08 431.24,95.40 431.92,95.47 432.61,95.53 433.30,94.69 433.98,94.37 434.67,94.52 435.36,94.12 436.04,94.03 436.73,93.59 437.41,94.13 438.10,93.64 438.79,94.49 439.47,94.67 440.16,94.45 440.85,94.04 441.53,94.20 442.22,93.56 442.90,93.51 443.59,93.13 444.28,93.74 444.96,93.33 445.65,93.08 446.34,92.72 447.02,93.05 447.71,92.99 448.40,92.93 449.08,92.42 449.77,92.82 450.45,92.96 451.14,93.41 451.83,92.83 452.51,93.01 453.20,93.12 453.89,92.87 454.57,92.32 455.26,92.53 455.94,92.74 456.63,93.35 457.32,93.37 458.00,93.38 458.69,93.40 459.38,93.49 460.06,93.84 460.75,94.11 461.44,94.57 462.12,94.67 462.81,95.00 463.49,95.42 464.18,95.60 464.87,95.57 465.55,94.77 466.24,94.83 466.93,94.49 467.61,93.88 468.30,94.26 468.98,93.92 469.67,94.75 470.36,94.43 471.04,94.48 471.73,93.80 472.42,93.54 473.10,93.44 473.79,93.50 474.48,93.53 475.16,94.10 475.85,94.86 476.53,95.06 477.22,95.86 477.91,96.23 478.59,96.58 479.28,96.66 479.97,96.19 480.65,95.47 481.34,95.20 482.02,95.17 482.71,94.73 483.40,94.82 484.08,95.34 484.77,95.48 485.46,95.20 486.14,95.78 486.83,95.98 487.52,96.25 488.20,96.35 488.89,96.28 489.57,95.99 490.25,96.48 490.91,95.89 491.59,95.95 492.32,95.66 493.18,95.86 494.14,96.37 495.01,95.91 495.61,96.31" fill="none" stroke="#ff0000" stroke-width="2.7" stroke-linejoin="round" stroke-linecap="round" />
<polyline points="508.50,131.84 508.97,131.52 509.64,130.85 510.40,130.51 511.12,129.66 511.77,129.68 512.43,129.28 513.09,129.30 513.74,128.56 514.42,128.60 515.11,128.70 515.77,129.17 516.36,128.51 516.86,128.55 517.29,128.69 517.70,128.64 518.11,127.75 518.55,127.39 518.99,126.87 519.42,126.27 519.86,126.05 520.30,126.35 520.73,126.67 521.17,127.39 521.61,127.64 522.05,128.14 522.48,127.63 522.92,127.34 523.36,127.42 523.79,126.77 524.23,126.23 524.67,125.59 525.10,124.54 525.54,123.15 525.98,121.06 526.42,118.97 526.85,117.18 527.30,115.35 527.76,113.73 528.20,112.01 528.60,111.09 528.94,111.22 529.24,111.97 529.52,112.70 529.83,113.83 530.16,116.16 530.51,118.30 530.87,121.14 531.22,124.34 531.58,127.79 531.93,131.73 532.29,135.24 532.62,138.62 532.94,140.90 533.25,143.92 533.54,145.46 533.85,147.09 534.15,147.08 534.45,147.56 534.75,146.48 535.07,145.70 535.40,143.72 535.74,141.01 536.09,137.77 536.47,134.62 536.88,131.61 537.32,128.71 537.77,125.00 538.22,122.84 538.65,121.12 539.09,120.08 539.53,119.07 539.97,118.63 540.40,118.35 540.84,118.99 541.28,119.01 541.71,120.21 542.14,122.01 542.57,124.30 543.00,126.94 543.46,129.38 543.97,132.43 544.51,134.49 545.05,137.09 545.56,137.49 546.02,136.84 546.46,134.27 546.88,132.13 547.31,129.55 547.74,127.79 548.18,126.08 548.62,124.27 549.06,123.43 549.49,123.55 549.93,123.45 550.37,124.21 550.80,125.54 551.25,126.80 551.70,128.96 552.14,131.22 552.55,133.14 552.92,134.43 553.25,135.66 553.59,136.29 553.95,136.97 554.36,136.45 554.80,136.61 555.25,136.13 555.70,134.78 556.14,133.30 556.57,131.86 557.01,129.70 557.45,127.94 557.88,125.91 558.32,123.04 558.76,120.76 559.20,119.22 559.61,117.83 560.02,117.13 560.45,116.83 560.94,116.34 561.56,116.24 562.26,116.62 562.95,117.04 563.57,117.79 564.06,117.97 564.50,118.17 564.90,118.97 565.31,120.28 565.73,121.39 566.13,123.10 566.56,124.81 567.06,126.47 567.68,127.92 568.37,130.69 569.07,132.47 569.69,133.91 570.18,135.03 570.61,136.37 571.02,136.41 571.43,136.42 571.87,136.15 572.31,135.75 572.74,134.33 573.18,133.38 573.61,131.67 574.03,130.51 574.47,129.01 574.93,127.77 575.43,127.12 575.95,126.07 576.48,125.31 577.03,125.69 577.58,125.58 578.13,126.00 578.70,126.73 579.30,128.08 579.93,129.03 580.59,129.93 581.26,131.43 581.92,132.51 582.60,132.89 583.29,132.98 583.95,133.26 584.55,133.29 585.03,133.01 585.44,132.09 585.84,132.00 586.29,131.78 586.83,131.67 587.41,131.99 588.00,131.97 588.57,132.62 589.09,132.34 589.59,132.59 590.11,133.07 590.66,133.50 591.29,133.22 591.96,133.67 592.64,133.79 593.29,134.05 593.88,133.40 594.46,132.71 595.01,132.29 595.56,131.53 596.08,131.34 596.59,130.61 597.10,130.50 597.66,129.73 598.28,130.10 598.94,129.35 599.61,129.23 600.28,128.85 600.94,128.56 601.59,127.51 602.25,127.13 602.90,126.31 603.56,125.64 604.21,125.80 604.87,125.20 605.52,125.70 606.18,125.35 606.84,125.32 607.49,126.10 608.15,126.10 608.86,126.93 609.62,127.92 610.30,129.15 610.77,129.72" fill="none" stroke="#000" stroke-width="1.7" stroke-linejoin="round" stroke-linecap="round" />
<polyline points="508.50,153.86 508.97,153.76 509.64,153.11 510.40,153.06 511.12,152.10 511.77,152.32 512.43,151.97 513.09,152.07 513.74,152.14 514.40,152.31 515.05,152.05 515.71,152.25 516.36,152.18 517.02,152.64 517.67,151.84 518.33,151.57 518.99,151.59 519.64,151.39 520.30,151.35 520.95,150.55 521.61,150.51 522.28,150.43 522.97,150.76 523.64,150.71 524.23,150.64 524.73,150.89 525.16,150.63 525.56,150.54 525.98,150.15 526.42,148.90 526.85,148.36 527.29,146.87 527.73,145.49 528.17,144.83 528.62,142.86 529.06,141.55 529.48,140.94 529.85,140.58 530.21,141.01 530.54,141.31 530.87,141.90 531.19,143.59 531.49,146.03 531.78,148.48 532.10,150.81 532.43,153.14 532.78,155.42 533.13,157.98 533.50,160.43 533.88,162.30 534.28,164.21 534.68,165.64 535.07,166.41 535.42,165.92 535.76,165.34 536.10,164.85 536.47,162.99 536.88,160.15 537.32,157.14 537.77,153.37 538.22,150.51 538.65,148.52 539.09,146.95 539.53,145.72 539.97,144.28 540.40,144.02 540.84,143.52 541.28,143.35 541.71,143.83 542.15,144.74 542.59,145.44 543.02,147.29 543.46,149.08 543.90,151.15 544.34,153.53 544.77,155.37 545.21,157.14 545.63,156.92 546.03,155.54 546.46,154.35 546.96,153.64 547.57,152.30 548.27,151.62 548.97,151.35 549.58,150.98 550.07,150.56 550.48,151.25 550.88,151.56 551.33,152.56 551.86,153.78 552.44,154.81 553.03,156.35 553.60,157.49 554.15,158.38 554.68,158.90 555.20,159.32 555.70,159.37 556.15,158.61 556.57,157.07 556.99,155.85 557.45,154.51 557.94,152.58 558.46,150.60 559.00,149.01 559.55,147.16 560.09,145.38 560.65,144.02 561.22,142.40 561.82,142.08 562.45,141.58 563.11,142.09 563.78,143.18 564.44,143.89 565.10,144.97 565.77,146.12 566.43,147.55 567.06,149.09 567.66,150.95 568.23,152.26 568.79,154.41 569.34,155.45 569.86,156.38 570.36,157.45 570.88,157.68 571.43,157.94 572.05,157.63 572.71,156.74 573.39,155.62 574.06,154.73 574.72,154.42 575.40,153.86 576.06,152.88 576.68,152.15 577.24,151.50 577.75,151.02 578.25,150.95 578.78,150.35 579.32,150.92 579.88,151.74 580.45,152.90 581.05,153.66 581.68,153.15 582.34,153.16 583.01,153.63 583.67,153.65 584.33,153.25 584.98,153.62 585.64,154.01 586.29,154.07 586.95,154.25 587.60,154.34 588.26,154.25 588.92,154.23 589.57,154.46 590.23,154.78 590.88,155.02 591.54,155.68 592.19,156.10 592.85,156.22 593.51,156.92 594.16,156.98 594.80,156.44 595.42,156.01 596.07,155.24 596.78,155.37 597.62,155.00 598.53,154.68 599.45,154.82 600.28,155.20 601.00,154.89 601.65,154.98 602.27,154.49 602.90,154.75 603.56,154.71 604.21,154.22 604.87,154.50 605.52,153.98 606.18,153.76 606.84,153.02 607.49,152.24 608.15,151.39 608.86,151.28 609.62,151.96 610.30,152.25 610.77,152.45" fill="none" stroke="#000" stroke-width="1.7" stroke-linejoin="round" stroke-linecap="round" />
<polyline points="508.50,174.92 508.97,175.34 509.64,176.16 510.40,176.35 511.12,177.02 511.77,176.67 512.43,176.39 513.09,176.18 513.74,176.07 514.40,176.28 515.05,175.99 515.71,176.68 516.36,176.38 517.02,176.24 517.67,176.15 518.33,175.85 518.99,175.60 519.64,175.86 520.30,175.57 520.95,175.85 521.61,176.16 522.28,175.72 522.97,175.35 523.64,175.11 524.23,175.36 524.73,175.58 525.16,175.87 525.56,176.36 525.98,176.26 526.42,175.53 526.85,174.88 527.29,174.38 527.73,173.12 528.16,172.63 528.60,171.28 529.04,170.32 529.48,169.94 529.91,169.14 530.35,169.25 530.79,169.05 531.22,169.03 531.66,169.73 532.10,171.03 532.53,172.85 532.97,174.32 533.41,175.62 533.85,177.35 534.28,178.56 534.72,179.74 535.16,179.94 535.59,180.34 536.03,180.65 536.47,180.41 536.91,179.34 537.34,178.24 537.78,176.37 538.22,175.05 538.65,173.92 539.07,172.86 539.50,171.82 539.97,170.71 540.47,170.20 541.01,170.17 541.55,170.06 542.06,170.01 542.52,170.22 542.96,171.37 543.38,172.55 543.81,173.27 544.25,174.04 544.69,175.68 545.12,176.52 545.56,176.66 545.98,177.43 546.40,177.94 546.83,177.87 547.31,177.50 547.85,177.21 548.44,176.02 549.04,174.48 549.58,173.14 550.05,172.45 550.49,171.39 550.90,171.37 551.33,170.49 551.77,170.88 552.20,171.81 552.64,172.21 553.08,173.15 553.50,174.36 553.92,175.92 554.35,177.63 554.83,178.90 555.36,179.07 555.94,179.43 556.53,179.92 557.10,179.49 557.63,178.89 558.16,177.86 558.68,176.91 559.20,176.38 559.72,174.71 560.23,173.64 560.76,172.84 561.29,171.95 561.85,171.08 562.42,169.97 562.99,169.68 563.57,169.13 564.14,169.02 564.71,169.58 565.28,170.35 565.84,170.97 566.36,171.10 566.87,171.74 567.38,172.95 567.94,173.15 568.56,174.68 569.24,175.55 569.92,176.67 570.56,177.63 571.16,178.46 571.73,179.34 572.28,179.11 572.83,179.79 573.36,179.41 573.86,179.10 574.37,179.18 574.93,178.56 575.55,178.08 576.21,177.79 576.88,177.61 577.55,177.18 578.21,176.44 578.86,175.43 579.52,175.49 580.17,175.25 580.83,175.82 581.49,176.58 582.14,176.98 582.80,178.04 583.45,178.58 584.11,178.73 584.76,179.22 585.42,179.46 586.08,179.37 586.73,179.08 587.39,178.56 588.04,178.48 588.70,179.09 589.35,179.05 590.01,179.50 590.66,179.82 591.32,179.63 591.98,179.04 592.63,179.22 593.29,178.88 593.94,178.80 594.60,178.39 595.25,178.19 595.91,178.02 596.56,177.39 597.22,177.41 597.88,177.00 598.53,177.16 599.19,176.63 599.84,176.95 600.50,176.85 601.15,177.15 601.81,176.66 602.47,176.78 603.12,176.53 603.78,176.31 604.43,175.56 605.09,175.86 605.74,175.50 606.40,175.30 607.07,175.18 607.76,174.69 608.43,175.29 609.02,175.21 609.56,175.50 610.06,175.94 610.48,176.77 610.77,176.92" fill="none" stroke="#000" stroke-width="1.7" stroke-linejoin="round" stroke-linecap="round" />
<polyline points="508.50,187.68 508.97,187.94 509.64,187.77 510.40,188.13 511.12,188.18 511.77,187.95 512.43,187.83 513.09,187.32 513.74,187.69 514.40,187.32 515.05,187.35 515.71,187.49 516.36,188.00 517.02,187.50 517.67,187.46 518.33,187.19 518.99,187.34 519.64,187.48 520.30,187.15 520.95,187.51 521.61,187.76 522.26,187.43 522.92,187.64 523.58,187.41 524.23,187.00 524.89,187.35 525.54,187.12 526.20,186.68 526.85,186.67 527.53,186.12 528.22,184.92 528.88,183.88 529.48,183.05 529.98,182.81 530.43,182.21 530.83,181.64 531.22,181.79 531.59,182.17 531.92,183.24 532.26,183.93 532.62,184.60 533.03,186.52 533.47,187.56 533.93,189.62 534.37,190.93 534.81,192.33 535.24,193.22 535.68,193.81 536.12,194.49 536.56,194.52 536.99,193.86 537.43,192.67 537.87,191.66 538.30,191.00 538.72,189.85 539.15,188.26 539.62,187.75 540.12,187.04 540.64,185.98 541.18,185.48 541.71,185.53 542.25,185.90 542.78,185.93 543.31,186.68 543.81,187.36 544.26,188.35 544.67,188.76 545.09,189.72 545.56,190.11 546.09,190.29 546.66,189.75 547.25,189.97 547.83,189.58 548.41,188.69 549.00,188.10 549.57,186.94 550.10,186.90 550.57,186.28 550.99,186.17 551.40,186.17 551.85,185.99 552.35,186.92 552.88,187.26 553.42,188.06 553.95,189.23 554.47,190.30 554.99,191.13 555.51,191.84 556.05,191.86 556.60,192.07 557.17,191.40 557.75,190.52 558.32,190.20 558.89,189.55 559.47,188.36 560.04,187.53 560.59,186.44 561.12,185.71 561.62,185.11 562.14,184.54 562.69,183.96 563.31,183.20 563.97,182.69 564.65,182.60 565.31,182.74 565.97,182.87 566.63,182.80 567.28,183.25 567.94,184.00 568.59,184.49 569.25,185.68 569.90,186.84 570.56,187.27 571.22,188.46 571.87,189.49 572.53,190.40 573.18,191.13 573.84,191.79 574.49,192.08 575.15,192.88 575.80,193.02 576.46,192.07 577.12,192.00 577.77,190.82 578.43,189.82 579.08,189.09 579.74,188.86 580.39,188.10 581.05,187.23 581.70,187.17 582.36,187.16 583.02,187.40 583.67,187.02 584.33,187.50 584.98,187.44 585.64,187.77 586.29,188.12 586.95,188.69 587.60,189.28 588.26,189.52 588.92,189.87 589.57,190.40 590.23,190.83 590.88,191.36 591.54,191.72 592.19,191.89 592.85,191.52 593.51,191.51 594.16,191.29 594.82,191.45 595.47,190.86 596.13,190.98 596.78,190.61 597.44,190.61 598.09,191.23 598.75,191.30 599.41,191.62 600.06,191.76 600.72,192.37 601.37,192.66 602.03,192.31 602.66,192.23 603.28,192.15 603.93,191.93 604.65,191.99 605.48,191.57 606.40,191.16 607.31,191.42 608.15,191.03 608.93,190.50 609.68,190.99 610.32,190.84 610.77,190.63" fill="none" stroke="#000" stroke-width="1.7" stroke-linejoin="round" stroke-linecap="round" />
<polyline points="508.50,201.72 508.97,201.76 509.64,201.74 510.40,201.17 511.12,201.07 511.77,201.01 512.43,201.31 513.09,201.52 513.74,201.63 514.40,201.73 515.05,201.05 515.71,201.08 516.36,201.36 517.02,201.39 517.67,201.39 518.33,201.57 518.99,201.36 519.64,201.64 520.30,201.12 520.95,200.75 521.61,200.37 522.26,200.17 522.92,200.58 523.58,200.39 524.23,199.74 524.89,199.87 525.54,199.94 526.20,199.87 526.85,199.62 527.52,199.78 528.20,199.13 528.86,198.89 529.48,198.62 530.05,197.46 530.58,196.08 531.09,194.86 531.57,194.40 532.04,194.89 532.47,195.91 532.89,196.70 533.32,197.88 533.75,198.97 534.16,200.12 534.60,201.64 535.07,202.37 535.61,203.07 536.21,203.92 536.80,204.88 537.34,204.73 537.82,205.03 538.25,204.19 538.67,203.73 539.09,202.91 539.52,202.48 539.93,200.84 540.37,199.69 540.84,198.54 541.37,197.80 541.95,197.32 542.54,196.69 543.11,196.51 543.64,196.65 544.14,196.81 544.65,197.67 545.21,197.68 545.84,198.88 546.51,199.24 547.19,199.76 547.83,200.77 548.43,201.41 549.00,201.61 549.56,201.83 550.10,202.60 550.64,202.50 551.16,202.17 551.68,202.12 552.20,201.15 552.72,200.79 553.24,200.39 553.76,199.93 554.30,200.22 554.86,200.26 555.43,200.19 556.00,200.59 556.57,200.90 557.15,201.47 557.72,201.81 558.29,202.20 558.85,201.72 559.37,201.79 559.87,200.81 560.39,200.05 560.94,199.20 561.57,198.33 562.24,197.89 562.92,196.97 563.57,196.02 564.16,195.08 564.74,194.64 565.29,194.34 565.84,194.37 566.36,194.76 566.87,194.59 567.38,195.37 567.94,196.00 568.56,196.19 569.22,197.24 569.89,198.29 570.56,198.90 571.22,199.52 571.87,200.52 572.53,200.98 573.18,201.35 573.84,201.86 574.49,202.62 575.15,202.87 575.80,203.16 576.46,203.12 577.12,202.99 577.77,203.07 578.43,203.14 579.08,203.03 579.74,202.04 580.39,202.07 581.05,201.67 581.70,201.30 582.36,200.87 583.02,201.39 583.67,201.06 584.33,201.09 584.98,200.85 585.64,200.82 586.29,200.53 586.95,200.97 587.60,201.10 588.26,201.25 588.92,201.20 589.57,201.18 590.23,201.44 590.88,201.55 591.54,202.10 592.19,202.00 592.85,201.89 593.51,201.78 594.16,201.81 594.82,201.61 595.47,201.41 596.13,201.74 596.78,201.30 597.44,201.22 598.09,200.42 598.75,200.48 599.41,200.06 600.06,200.18 600.72,201.17 601.37,201.16 602.03,202.12 602.66,202.04 603.28,201.49 603.93,201.74 604.65,201.52 605.48,201.82 606.40,201.73 607.31,201.74 608.15,202.12 608.93,201.41 609.68,201.68 610.32,200.99 610.77,201.12" fill="none" stroke="#000" stroke-width="1.7" stroke-linejoin="round" stroke-linecap="round" />
<polyline points="508.50,211.80 508.97,211.61 509.64,212.02 510.40,211.61 511.12,211.77 511.77,211.50 512.43,211.98 513.09,212.04 513.74,211.68 514.40,211.79 515.05,211.67 515.71,211.03 516.36,211.19 517.02,210.99 517.67,211.23 518.33,211.81 518.99,211.92 519.64,211.87 520.30,211.29 520.95,211.22 521.61,211.30 522.26,211.33 522.92,211.26 523.58,211.72 524.23,211.54 524.89,212.06 525.54,211.88 526.20,211.73 526.85,212.13 527.51,211.50 528.16,211.54 528.82,210.69 529.48,210.90 530.15,210.04 530.84,209.54 531.50,208.54 532.10,208.56 532.60,208.32 533.03,208.37 533.43,209.08 533.85,209.01 534.26,210.01 534.67,210.63 535.10,212.14 535.59,213.11 536.21,213.50 536.91,214.88 537.60,215.80 538.22,216.48 538.72,216.46 539.15,215.78 539.55,215.57 539.97,214.36 540.39,213.52 540.82,213.02 541.25,211.57 541.71,210.86 542.21,210.56 542.73,210.06 543.27,209.71 543.81,210.16 544.36,209.98 544.91,210.54 545.49,210.57 546.08,211.37 546.71,211.16 547.37,211.90 548.04,211.91 548.71,212.29 549.36,212.12 550.02,211.89 550.67,211.67 551.33,211.86 551.98,211.67 552.64,211.62 553.30,212.41 553.95,212.52 554.61,212.63 555.26,212.89 555.92,212.68 556.57,212.81 557.23,212.78 557.88,212.42 558.54,211.87 559.20,210.85 559.85,210.76 560.51,210.19 561.16,209.64 561.82,209.10 562.47,208.80 563.13,208.82 563.78,208.65 564.44,208.30 565.10,208.08 565.75,207.87 566.41,207.77 567.06,207.65 567.72,207.72 568.37,208.86 569.03,209.20 569.69,210.18 570.34,210.58 571.00,210.29 571.65,210.86 572.31,211.41 572.96,211.35 573.62,211.83 574.27,211.98 574.93,211.98 575.59,212.10 576.24,211.89 576.90,211.85 577.55,212.05 578.21,212.13 578.86,212.63 579.52,212.71 580.17,212.74 580.83,213.45 581.49,213.58 582.14,213.76 582.80,213.96 583.45,213.31 584.11,212.24 584.76,211.59 585.42,210.94 586.08,211.56 586.73,211.56 587.39,212.69 588.04,212.53 588.70,212.81 589.35,213.47 590.01,213.43 590.66,213.71 591.32,213.34 591.98,213.61 592.63,213.21 593.29,212.96 593.94,212.87 594.60,212.63 595.25,212.18 595.91,212.11 596.56,211.75 597.22,212.08 597.88,212.64 598.53,213.16 599.19,212.56 599.84,212.44 600.50,211.75 601.15,211.90 601.77,212.36 602.36,212.40 603.00,212.86 603.78,212.49 604.79,212.67 605.96,212.63 607.14,213.05 608.15,212.55 608.99,213.24 609.73,212.93 610.34,213.52 610.77,213.36" fill="none" stroke="#000" stroke-width="1.7" stroke-linejoin="round" stroke-linecap="round" />
<polyline points="508.50,223.33 508.97,223.10 509.64,223.41 510.40,222.86 511.12,222.94 511.77,222.39 512.43,222.82 513.09,222.84 513.74,222.17 514.40,222.60 515.05,222.29 515.71,222.22 516.36,222.35 517.02,222.48 517.67,222.57 518.33,222.49 518.99,222.44 519.64,222.26 520.30,222.45 520.95,222.23 521.61,222.61 522.26,222.23 522.92,221.69 523.58,221.65 524.23,220.88 524.89,220.65 525.54,220.60 526.20,220.55 526.85,220.76 527.51,220.74 528.16,220.08 528.82,220.08 529.48,219.88 530.15,219.53 530.84,219.02 531.50,218.77 532.10,218.26 532.60,218.39 533.03,218.92 533.43,219.18 533.85,220.00 534.26,220.24 534.67,221.38 535.10,221.70 535.59,222.16 536.19,222.81 536.85,223.02 537.54,223.15 538.22,223.51 538.88,223.04 539.55,223.15 540.21,222.98 540.84,222.41 541.44,222.08 542.01,221.92 542.56,221.31 543.11,220.83 543.64,220.85 544.14,221.17 544.65,221.71 545.21,221.81 545.83,222.37 546.49,222.34 547.16,222.33 547.83,222.46 548.49,222.62 549.14,221.91 549.80,221.58 550.45,221.44 551.11,221.18 551.77,221.28 552.42,220.90 553.08,220.65 553.73,220.68 554.39,221.00 555.04,221.50 555.70,222.34 556.35,222.40 557.01,222.21 557.67,222.60 558.32,222.14 558.98,222.22 559.63,221.73 560.29,221.15 560.94,221.22 561.60,220.87 562.26,220.41 562.91,219.87 563.57,219.94 564.22,219.51 564.88,219.42 565.53,218.81 566.19,219.23 566.84,218.56 567.50,218.76 568.16,218.92 568.81,218.74 569.47,218.46 570.12,218.59 570.78,218.54 571.43,217.96 572.09,217.99 572.74,218.47 573.40,218.44 574.06,218.88 574.71,219.46 575.37,219.72 576.02,220.00 576.68,220.40 577.33,221.17 577.99,221.92 578.65,222.30 579.30,222.17 579.96,222.94 580.61,223.44 581.27,223.69 581.92,224.31 582.58,224.26 583.23,224.38 583.89,223.85 584.55,224.15 585.20,223.94 585.86,223.54 586.51,223.17 587.17,223.31 587.82,223.02 588.48,223.42 589.13,223.45 589.79,223.38 590.45,223.68 591.10,223.06 591.76,223.53 592.41,223.53 593.07,222.85 593.72,222.71 594.38,222.25 595.03,222.51 595.69,222.72 596.35,222.72 597.00,223.26 597.66,223.23 598.31,223.55 598.97,223.27 599.62,223.74 600.28,223.28 600.94,222.79 601.59,222.58 602.25,222.76 602.90,222.70 603.56,222.54 604.21,222.29 604.87,222.93 605.52,222.95 606.18,222.66 606.84,223.00 607.49,223.34 608.15,222.97 608.86,223.04 609.62,223.25 610.30,223.60 610.77,223.32" fill="none" stroke="#000" stroke-width="1.7" stroke-linejoin="round" stroke-linecap="round" />
<polyline points="508.50,247.62 508.97,247.00 509.64,247.19 510.40,246.89 511.12,246.83 511.77,246.68 512.43,247.09 513.09,247.00 513.74,247.24 514.40,246.80 515.05,246.26 515.71,246.21 516.36,246.04 517.02,245.99 517.67,246.19 518.33,246.48 518.99,246.64 519.64,246.35 520.30,246.29 520.95,246.32 521.61,246.23 522.26,246.12 522.92,246.26 523.58,245.89 524.23,246.07 524.89,245.78 525.54,245.99 526.20,245.79 526.85,245.72 527.51,245.45 528.16,245.20 528.82,245.59 529.48,245.18 530.13,244.90 530.79,244.60 531.44,244.44 532.10,244.45 532.75,244.33 533.41,243.91 534.06,243.95 534.72,243.58 535.38,243.91 536.03,244.15 536.69,244.44 537.34,244.73 538.00,245.16 538.65,245.25 539.31,244.95 539.97,244.99 540.62,245.31 541.28,245.09 541.93,244.98 542.59,244.92 543.24,245.07 543.90,244.96 544.55,245.03 545.21,245.43 545.87,245.35 546.52,246.15 547.18,245.98 547.83,246.17 548.49,246.42 549.14,246.33 549.80,245.91 550.45,245.93 551.11,245.66 551.77,245.96 552.42,245.76 553.08,245.52 553.73,245.51 554.39,245.63 555.04,245.96 555.70,246.20 556.35,246.24 557.01,246.03 557.67,245.86 558.32,245.48 558.98,245.55 559.63,245.66 560.29,246.30 560.94,245.83 561.60,245.75 562.26,245.69 562.91,245.96 563.57,245.77 564.22,245.29 564.88,245.54 565.53,245.48 566.19,245.12 566.84,245.01 567.50,245.52 568.16,245.36 568.81,245.26 569.47,245.83 570.12,245.50 570.78,245.46 571.43,245.59 572.09,245.34 572.74,245.16 573.40,245.41 574.06,245.44 574.71,245.27 575.37,245.64 576.02,246.06 576.68,245.93 577.33,246.40 577.99,246.63 578.65,246.56 579.30,246.59 579.96,247.02 580.61,246.84 581.27,246.47 581.92,246.36 582.58,246.93 583.23,247.15 583.89,246.90 584.55,247.33 585.20,247.49 585.86,247.49 586.51,247.42 587.17,247.67 587.82,247.84 588.48,247.66 589.13,247.42 589.79,247.01 590.45,246.96 591.10,246.91 591.76,246.90 592.41,246.83 593.07,247.24 593.72,246.77 594.38,247.50 595.03,247.09 595.69,247.67 596.35,247.41 597.00,247.80 597.66,247.71 598.31,247.39 598.97,247.74 599.62,247.57 600.28,247.11 600.94,247.56 601.59,247.54 602.25,248.08 602.90,247.49 603.56,247.58 604.21,247.22 604.87,247.22 605.52,247.12 606.18,247.05 606.84,246.79 607.49,246.62 608.15,246.78 608.86,246.06 609.62,245.86 610.30,245.91 610.77,245.52" fill="none" stroke="#000" stroke-width="1.7" stroke-linejoin="round" stroke-linecap="round" />
<polyline points="508.50,258.25 508.97,258.83 509.64,258.49 510.40,259.02 511.12,258.96 511.77,258.72 512.43,258.55 513.09,258.26 513.74,258.19 514.40,257.99 515.05,257.78 515.71,257.40 516.36,257.55 517.02,257.45 517.67,257.91 518.33,257.49 518.99,257.77 519.64,257.63 520.30,257.32 520.95,257.44 521.61,256.86 522.26,257.37 522.92,257.15 523.58,257.27 524.23,257.49 524.89,257.30 525.54,256.85 526.20,256.43 526.85,256.86 527.51,256.37 528.16,256.16 528.82,256.57 529.48,256.56 530.13,256.62 530.79,256.91 531.44,257.54 532.10,257.30 532.75,257.25 533.41,257.38 534.06,256.68 534.72,256.47 535.38,256.12 536.03,256.30 536.69,256.18 537.34,255.98 538.00,256.01 538.65,256.02 539.31,256.59 539.97,256.51 540.62,256.93 541.28,256.78 541.93,257.17 542.59,256.73 543.24,256.82 543.90,257.21 544.55,256.85 545.21,256.66 545.87,256.30 546.52,255.99 547.18,255.56 547.83,255.44 548.49,255.89 549.14,256.22 549.80,256.21 550.45,256.64 551.11,256.23 551.77,256.38 552.42,255.87 553.08,256.02 553.73,255.94 554.39,256.25 555.04,256.13 555.70,256.53 556.35,256.78 557.01,256.61 557.67,256.87 558.32,257.19 558.98,257.01 559.63,256.86 560.29,256.79 560.94,256.59 561.60,256.49 562.26,256.92 562.91,257.48 563.57,257.46 564.22,257.59 564.88,257.23 565.53,257.16 566.19,257.39 566.84,257.17 567.50,256.92 568.16,256.40 568.81,256.62 569.47,256.04 570.12,256.48 570.78,256.36 571.43,256.17 572.09,256.02 572.74,256.73 573.40,256.59 574.06,257.29 574.71,257.20 575.37,256.91 576.02,257.58 576.68,257.37 577.33,257.83 577.99,257.97 578.65,258.10 579.30,258.54 579.96,258.24 580.61,258.86 581.27,258.59 581.92,258.48 582.58,258.77 583.23,258.63 583.89,258.70 584.55,259.25 585.20,259.20 585.86,259.62 586.51,260.11 587.17,260.40 587.82,261.01 588.48,261.08 589.13,261.11 589.79,261.25 590.45,260.97 591.10,261.33 591.76,261.07 592.41,261.56 593.07,261.44 593.72,261.29 594.38,260.82 595.03,260.62 595.69,261.10 596.35,260.73 597.00,260.68 597.66,260.81 598.31,260.38 598.97,260.91 599.62,260.87 600.28,261.11 600.94,260.74 601.59,260.31 602.25,260.58 602.90,259.88 603.56,260.03 604.21,259.92 604.87,259.38 605.52,259.65 606.18,259.52 606.84,259.58 607.49,259.76 608.15,260.35 608.86,259.87 609.62,259.81 610.30,259.63 610.77,259.51" fill="none" stroke="#000" stroke-width="1.7" stroke-linejoin="round" stroke-linecap="round" />
<polyline points="508.50,235.18 508.97,235.58 509.64,235.30 510.40,235.14 511.12,234.57 511.77,234.49 512.43,234.76 513.09,235.22 513.74,235.16 514.40,234.72 515.05,234.43 515.71,233.75 516.36,234.15 517.02,233.79 517.67,233.96 518.33,234.38 518.99,234.09 519.64,234.71 520.30,234.64 520.95,235.20 521.61,234.71 522.26,234.79 522.92,234.90 523.58,234.55 524.23,234.24 524.89,234.15 525.54,233.59 526.20,233.48 526.85,232.89 527.51,233.32 528.16,232.71 528.82,233.01 529.48,232.63 530.15,232.53 530.84,232.44 531.50,231.91 532.10,232.28 532.58,231.66 532.97,231.83 533.37,231.52 533.85,231.33 534.44,231.53 535.10,231.44 535.79,231.92 536.47,232.43 537.12,232.11 537.78,232.38 538.44,232.95 539.09,233.29 539.75,233.23 540.40,233.48 541.06,234.11 541.71,233.72 542.37,233.30 543.02,232.93 543.68,232.86 544.34,232.34 544.99,232.61 545.65,232.86 546.30,233.03 546.96,233.29 547.61,233.73 548.27,233.26 548.92,234.13 549.58,233.57 550.24,233.29 550.89,233.60 551.55,233.16 552.20,232.97 552.86,232.70 553.51,233.22 554.17,232.97 554.83,233.47 555.48,233.32 556.14,233.92 556.79,234.29 557.45,234.23 558.10,234.29 558.76,233.79 559.41,234.06 560.07,233.96 560.73,233.52 561.38,233.87 562.04,234.05 562.69,233.49 563.36,233.94 564.03,233.76 564.68,232.85 565.31,232.74 565.91,232.25 566.48,231.95 567.04,231.43 567.59,231.53 568.11,231.32 568.61,231.48 569.13,231.81 569.69,231.96 570.30,232.59 570.96,232.91 571.64,232.77 572.31,233.07 572.96,232.89 573.62,233.00 574.27,232.66 574.93,233.09 575.59,233.29 576.24,233.69 576.90,233.33 577.55,233.44 578.21,234.26 578.86,234.25 579.52,234.90 580.17,234.60 580.83,234.51 581.49,234.18 582.14,234.74 582.80,234.35 583.45,234.42 584.11,234.66 584.76,235.15 585.42,235.30 586.08,234.91 586.73,234.43 587.39,234.37 588.04,234.65 588.70,234.34 589.35,234.74 590.01,234.89 590.66,235.00 591.32,235.26 591.98,235.17 592.63,235.55 593.29,235.85 593.94,235.16 594.60,235.25 595.25,235.48 595.91,235.42 596.56,234.55 597.22,234.95 597.88,234.87 598.53,234.96 599.19,234.54 599.84,234.12 600.50,234.15 601.15,234.51 601.81,234.73 602.47,234.66 603.12,235.38 603.78,235.68 604.39,235.88 604.98,235.52 605.62,235.96 606.40,235.94 607.47,236.20 608.75,235.99 609.94,235.80 610.77,236.08" fill="none" stroke="#000" stroke-width="2.3" stroke-linejoin="round" stroke-linecap="round" />
<text x="-0.30" y="292.80" font-size="12.5" text-anchor="start" font-weight="bold" font-style="normal" fill="#000" >b</text>
<line x1="47.60" y1="299.10" x2="47.60" y2="441.30" stroke="#000" stroke-width="1.3" />
<line x1="42.60" y1="299.70" x2="47.60" y2="299.70" stroke="#000" stroke-width="1.2" />
<text x="38.10" y="303.50" font-size="10.2" text-anchor="end" font-weight="normal" font-style="normal" fill="#000" >120</text>
<line x1="42.60" y1="327.90" x2="47.60" y2="327.90" stroke="#000" stroke-width="1.2" />
<text x="38.10" y="331.70" font-size="10.2" text-anchor="end" font-weight="normal" font-style="normal" fill="#000" >100</text>
<line x1="42.60" y1="356.10" x2="47.60" y2="356.10" stroke="#000" stroke-width="1.2" />
<text x="38.10" y="359.90" font-size="10.2" text-anchor="end" font-weight="normal" font-style="normal" fill="#000" >80</text>
<line x1="42.60" y1="384.30" x2="47.60" y2="384.30" stroke="#000" stroke-width="1.2" />
<text x="38.10" y="388.10" font-size="10.2" text-anchor="end" font-weight="normal" font-style="normal" fill="#000" >60</text>
<line x1="42.60" y1="412.50" x2="47.60" y2="412.50" stroke="#000" stroke-width="1.2" />
<text x="38.10" y="416.30" font-size="10.2" text-anchor="end" font-weight="normal" font-style="normal" fill="#000" >40</text>
<line x1="42.60" y1="440.70" x2="47.60" y2="440.70" stroke="#000" stroke-width="1.2" />
<text x="38.10" y="444.50" font-size="10.2" text-anchor="end" font-weight="normal" font-style="normal" fill="#000" >20</text>
<line x1="45.00" y1="313.80" x2="47.60" y2="313.80" stroke="#000" stroke-width="1.2" />
<line x1="45.00" y1="342.00" x2="47.60" y2="342.00" stroke="#000" stroke-width="1.2" />
<line x1="45.00" y1="370.20" x2="47.60" y2="370.20" stroke="#000" stroke-width="1.2" />
<line x1="45.00" y1="398.40" x2="47.60" y2="398.40" stroke="#000" stroke-width="1.2" />
<line x1="45.00" y1="426.60" x2="47.60" y2="426.60" stroke="#000" stroke-width="1.2" />
<text x="0.00" y="0.00" font-size="10.2" text-anchor="middle" font-weight="normal" font-style="normal" fill="#000" transform="translate(8.80,369.00) rotate(-90)">ABR threshold (dB)</text>
<line x1="47.00" y1="440.70" x2="188.70" y2="440.70" stroke="#000" stroke-width="1.3" />
<line x1="55.20" y1="440.70" x2="55.20" y2="445.70" stroke="#000" stroke-width="1.2" />
<text x="55.20" y="458.20" font-size="10.2" text-anchor="middle" font-weight="normal" font-style="normal" fill="#000" >5</text>
<line x1="102.54" y1="440.70" x2="102.54" y2="445.70" stroke="#000" stroke-width="1.2" />
<text x="102.54" y="458.20" font-size="10.2" text-anchor="middle" font-weight="normal" font-style="normal" fill="#000" >10</text>
<line x1="130.23" y1="440.70" x2="130.23" y2="445.70" stroke="#000" stroke-width="1.2" />
<text x="130.23" y="458.20" font-size="10.2" text-anchor="middle" font-weight="normal" font-style="normal" fill="#000" >15</text>
<line x1="165.12" y1="440.70" x2="165.12" y2="445.70" stroke="#000" stroke-width="1.2" />
<text x="165.12" y="458.20" font-size="10.2" text-anchor="middle" font-weight="normal" font-style="normal" fill="#000" >25</text>
<line x1="188.10" y1="440.70" x2="188.10" y2="445.70" stroke="#000" stroke-width="1.2" />
<text x="188.10" y="458.20" font-size="10.2" text-anchor="middle" font-weight="normal" font-style="normal" fill="#000" >35</text>
<line x1="82.89" y1="440.70" x2="82.89" y2="443.30" stroke="#000" stroke-width="1.2" />
<line x1="117.78" y1="440.70" x2="117.78" y2="443.30" stroke="#000" stroke-width="1.2" />
<line x1="140.76" y1="440.70" x2="140.76" y2="443.30" stroke="#000" stroke-width="1.2" />
<line x1="157.92" y1="440.70" x2="157.92" y2="443.30" stroke="#000" stroke-width="1.2" />
<line x1="171.63" y1="440.70" x2="171.63" y2="443.30" stroke="#000" stroke-width="1.2" />
<line x1="183.04" y1="440.70" x2="183.04" y2="443.30" stroke="#000" stroke-width="1.2" />
<text x="117.90" y="476.00" font-size="10.2" text-anchor="middle" font-weight="normal" font-style="normal" fill="#000" >Frequency (kHz)</text>
<polyline points="62.80,322.26 87.20,349.05 111.10,349.05 135.20,377.25 158.60,384.30 182.90,356.10" fill="none" stroke="#bdbdbd" stroke-width="1.9" stroke-linejoin="round" stroke-linecap="round" stroke-linecap="butt"/>
<polyline points="62.80,336.36 87.20,340.59 111.10,336.36 135.20,327.90 158.60,326.49 182.90,336.36" fill="none" stroke="#bdbdbd" stroke-width="1.9" stroke-linejoin="round" stroke-linecap="round" stroke-linecap="butt"/>
<polyline points="62.80,356.10 87.20,371.61 111.10,363.15 135.20,360.33 158.60,339.18 182.90,322.26" fill="none" stroke="#bdbdbd" stroke-width="1.9" stroke-linejoin="round" stroke-linecap="round" stroke-linecap="butt"/>
<polyline points="62.80,371.61 87.20,377.25 111.10,364.56 135.20,342.00 158.60,320.85 182.90,316.62" fill="none" stroke="#bdbdbd" stroke-width="1.9" stroke-linejoin="round" stroke-linecap="round" stroke-linecap="butt"/>
<polyline points="62.80,375.84 87.20,387.12 111.10,398.40 135.20,405.45 158.60,389.94 182.90,360.33" fill="none" stroke="#bdbdbd" stroke-width="1.9" stroke-linejoin="round" stroke-linecap="round" stroke-linecap="butt"/>
<polyline points="62.80,384.30 87.20,391.35 111.10,394.17 135.20,398.40 158.60,364.56 182.90,356.10" fill="none" stroke="#bdbdbd" stroke-width="1.9" stroke-linejoin="round" stroke-linecap="round" stroke-linecap="butt"/>
<polyline points="62.80,377.25 87.20,395.58 111.10,398.40 135.20,342.00 158.60,329.31 182.90,322.26" fill="none" stroke="#bdbdbd" stroke-width="1.9" stroke-linejoin="round" stroke-linecap="round" stroke-linecap="butt"/>
<polyline points="62.80,370.20 87.20,388.53 111.10,395.58 135.20,401.22 158.60,368.79 182.90,336.36" fill="none" stroke="#bdbdbd" stroke-width="1.9" stroke-linejoin="round" stroke-linecap="round" stroke-linecap="butt"/>
<polyline points="62.80,381.48 87.20,398.40 111.10,398.40 135.20,394.17 158.60,329.31 182.90,316.62" fill="none" stroke="#bdbdbd" stroke-width="1.9" stroke-linejoin="round" stroke-linecap="round" stroke-linecap="butt"/>
<line x1="62.10" y1="314.00" x2="183.60" y2="314.00" stroke="#000" stroke-width="1.5" />
<path d="M60.10,308.80 L62.80,301.00 L65.50,308.80 Z" fill="#000"/>
<line x1="62.80" y1="307.80" x2="62.80" y2="314.00" stroke="#000" stroke-width="1.7" />
<path d="M84.50,308.80 L87.20,301.00 L89.90,308.80 Z" fill="#000"/>
<line x1="87.20" y1="307.80" x2="87.20" y2="314.00" stroke="#000" stroke-width="1.7" />
<path d="M108.40,308.80 L111.10,301.00 L113.80,308.80 Z" fill="#000"/>
<line x1="111.10" y1="307.80" x2="111.10" y2="314.00" stroke="#000" stroke-width="1.7" />
<path d="M132.50,308.80 L135.20,301.00 L137.90,308.80 Z" fill="#000"/>
<line x1="135.20" y1="307.80" x2="135.20" y2="314.00" stroke="#000" stroke-width="1.7" />
<path d="M155.90,308.80 L158.60,301.00 L161.30,308.80 Z" fill="#000"/>
<line x1="158.60" y1="307.80" x2="158.60" y2="314.00" stroke="#000" stroke-width="1.7" />
<path d="M180.20,308.80 L182.90,301.00 L185.60,308.80 Z" fill="#000"/>
<line x1="182.90" y1="307.80" x2="182.90" y2="314.00" stroke="#000" stroke-width="1.7" />
<text x="63.50" y="298.70" font-size="10.2" text-anchor="start" font-weight="normal" font-style="normal" fill="#000" ><tspan font-style="italic">Tmc1</tspan><tspan font-size="7" dx="0.6" dy="-4" font-style="italic" fill="#444">Δ/Δ</tspan></text>
<polyline points="62.80,322.54 87.20,334.95 111.10,328.75 135.20,324.38 158.60,324.80 182.90,321.84" fill="none" stroke="#ff0000" stroke-width="1.4" stroke-linejoin="round" stroke-linecap="round" />
<line x1="62.80" y1="315.63" x2="62.80" y2="330.44" stroke="#ff0000" stroke-width="1.4" />
<line x1="59.60" y1="315.63" x2="66.00" y2="315.63" stroke="#ff0000" stroke-width="1.4" />
<line x1="59.60" y1="330.44" x2="66.00" y2="330.44" stroke="#ff0000" stroke-width="1.4" />
<line x1="87.20" y1="330.44" x2="87.20" y2="338.47" stroke="#ff0000" stroke-width="1.4" />
<line x1="84.00" y1="330.44" x2="90.40" y2="330.44" stroke="#ff0000" stroke-width="1.4" />
<line x1="84.00" y1="338.47" x2="90.40" y2="338.47" stroke="#ff0000" stroke-width="1.4" />
<line x1="111.10" y1="320.57" x2="111.10" y2="337.06" stroke="#ff0000" stroke-width="1.4" />
<line x1="107.90" y1="320.57" x2="114.30" y2="320.57" stroke="#ff0000" stroke-width="1.4" />
<line x1="107.90" y1="337.06" x2="114.30" y2="337.06" stroke="#ff0000" stroke-width="1.4" />
<line x1="135.20" y1="314.50" x2="135.20" y2="334.10" stroke="#ff0000" stroke-width="1.4" />
<line x1="132.00" y1="314.50" x2="138.40" y2="314.50" stroke="#ff0000" stroke-width="1.4" />
<line x1="132.00" y1="334.10" x2="138.40" y2="334.10" stroke="#ff0000" stroke-width="1.4" />
<line x1="158.60" y1="313.38" x2="158.60" y2="336.08" stroke="#ff0000" stroke-width="1.4" />
<line x1="155.40" y1="313.38" x2="161.80" y2="313.38" stroke="#ff0000" stroke-width="1.4" />
<line x1="155.40" y1="336.08" x2="161.80" y2="336.08" stroke="#ff0000" stroke-width="1.4" />
<line x1="182.90" y1="309.57" x2="182.90" y2="332.13" stroke="#ff0000" stroke-width="1.4" />
<line x1="179.70" y1="309.57" x2="186.10" y2="309.57" stroke="#ff0000" stroke-width="1.4" />
<line x1="179.70" y1="332.13" x2="186.10" y2="332.13" stroke="#ff0000" stroke-width="1.4" />
<polyline points="62.80,363.15 87.20,384.30 111.10,384.30 135.20,391.35 158.60,327.90 182.90,314.50" fill="none" stroke="#0000ff" stroke-width="4.0" stroke-linejoin="round" stroke-linecap="round" stroke-linecap="butt"/>
<polyline points="62.80,377.25 87.20,398.40 111.10,419.55 135.20,419.55 158.60,405.45 182.90,356.10" fill="none" stroke="#008000" stroke-width="2.8" stroke-linejoin="round" stroke-linecap="round" stroke-linecap="butt"/>
<polyline points="62.80,419.83 87.20,424.34 111.10,432.24 135.20,432.24 158.60,420.68 182.90,414.47" fill="none" stroke="#000" stroke-width="1.3" stroke-linejoin="round" stroke-linecap="round" />
<line x1="62.80" y1="413.00" x2="62.80" y2="423.60" stroke="#000" stroke-width="1.3" />
<line x1="59.60" y1="413.00" x2="66.00" y2="413.00" stroke="#000" stroke-width="1.3" />
<line x1="59.60" y1="423.60" x2="66.00" y2="423.60" stroke="#000" stroke-width="1.3" />
<line x1="87.20" y1="418.70" x2="87.20" y2="429.70" stroke="#000" stroke-width="1.3" />
<line x1="84.00" y1="418.70" x2="90.40" y2="418.70" stroke="#000" stroke-width="1.3" />
<line x1="84.00" y1="429.70" x2="90.40" y2="429.70" stroke="#000" stroke-width="1.3" />
<line x1="111.10" y1="430.20" x2="111.10" y2="434.60" stroke="#000" stroke-width="1.3" />
<line x1="107.90" y1="430.20" x2="114.30" y2="430.20" stroke="#000" stroke-width="1.3" />
<line x1="107.90" y1="434.60" x2="114.30" y2="434.60" stroke="#000" stroke-width="1.3" />
<line x1="135.20" y1="426.80" x2="135.20" y2="437.50" stroke="#000" stroke-width="1.3" />
<line x1="132.00" y1="426.80" x2="138.40" y2="426.80" stroke="#000" stroke-width="1.3" />
<line x1="132.00" y1="437.50" x2="138.40" y2="437.50" stroke="#000" stroke-width="1.3" />
<line x1="158.60" y1="415.50" x2="158.60" y2="426.00" stroke="#000" stroke-width="1.3" />
<line x1="155.40" y1="415.50" x2="161.80" y2="415.50" stroke="#000" stroke-width="1.3" />
<line x1="155.40" y1="426.00" x2="161.80" y2="426.00" stroke="#000" stroke-width="1.3" />
<line x1="182.90" y1="402.70" x2="182.90" y2="424.80" stroke="#000" stroke-width="1.3" />
<line x1="179.70" y1="402.70" x2="186.10" y2="402.70" stroke="#000" stroke-width="1.3" />
<line x1="179.70" y1="424.80" x2="186.10" y2="424.80" stroke="#000" stroke-width="1.3" />
<text x="165.00" y="437.00" font-size="10.2" text-anchor="start" font-weight="normal" font-style="normal" fill="#000" >WT</text>
<text x="-0.30" y="499.40" font-size="12.5" text-anchor="start" font-weight="bold" font-style="normal" fill="#000" >e</text>
<line x1="47.60" y1="507.40" x2="47.60" y2="650.00" stroke="#000" stroke-width="1.3" />
<line x1="42.60" y1="508.00" x2="47.60" y2="508.00" stroke="#000" stroke-width="1.2" />
<text x="38.10" y="511.80" font-size="10.2" text-anchor="end" font-weight="normal" font-style="normal" fill="#000" >90</text>
<line x1="42.60" y1="528.20" x2="47.60" y2="528.20" stroke="#000" stroke-width="1.2" />
<text x="38.10" y="532.00" font-size="10.2" text-anchor="end" font-weight="normal" font-style="normal" fill="#000" >80</text>
<line x1="42.60" y1="548.40" x2="47.60" y2="548.40" stroke="#000" stroke-width="1.2" />
<text x="38.10" y="552.20" font-size="10.2" text-anchor="end" font-weight="normal" font-style="normal" fill="#000" >70</text>
<line x1="42.60" y1="568.60" x2="47.60" y2="568.60" stroke="#000" stroke-width="1.2" />
<text x="38.10" y="572.40" font-size="10.2" text-anchor="end" font-weight="normal" font-style="normal" fill="#000" >60</text>
<line x1="42.60" y1="588.80" x2="47.60" y2="588.80" stroke="#000" stroke-width="1.2" />
<text x="38.10" y="592.60" font-size="10.2" text-anchor="end" font-weight="normal" font-style="normal" fill="#000" >50</text>
<line x1="42.60" y1="609.00" x2="47.60" y2="609.00" stroke="#000" stroke-width="1.2" />
<text x="38.10" y="612.80" font-size="10.2" text-anchor="end" font-weight="normal" font-style="normal" fill="#000" >40</text>
<line x1="42.60" y1="629.20" x2="47.60" y2="629.20" stroke="#000" stroke-width="1.2" />
<text x="38.10" y="633.00" font-size="10.2" text-anchor="end" font-weight="normal" font-style="normal" fill="#000" >30</text>
<line x1="42.60" y1="649.40" x2="47.60" y2="649.40" stroke="#000" stroke-width="1.2" />
<text x="38.10" y="653.20" font-size="10.2" text-anchor="end" font-weight="normal" font-style="normal" fill="#000" >20</text>
<line x1="45.00" y1="518.10" x2="47.60" y2="518.10" stroke="#000" stroke-width="1.2" />
<line x1="45.00" y1="538.30" x2="47.60" y2="538.30" stroke="#000" stroke-width="1.2" />
<line x1="45.00" y1="558.50" x2="47.60" y2="558.50" stroke="#000" stroke-width="1.2" />
<line x1="45.00" y1="578.70" x2="47.60" y2="578.70" stroke="#000" stroke-width="1.2" />
<line x1="45.00" y1="598.90" x2="47.60" y2="598.90" stroke="#000" stroke-width="1.2" />
<line x1="45.00" y1="619.10" x2="47.60" y2="619.10" stroke="#000" stroke-width="1.2" />
<line x1="45.00" y1="639.30" x2="47.60" y2="639.30" stroke="#000" stroke-width="1.2" />
<text x="0.00" y="0.00" font-size="10.2" text-anchor="middle" font-weight="normal" font-style="normal" fill="#000" transform="translate(14.60,576.20) rotate(-90)">DPOAE threshold (dB)</text>
<line x1="47.00" y1="649.40" x2="188.70" y2="649.40" stroke="#000" stroke-width="1.3" />
<line x1="55.20" y1="649.40" x2="55.20" y2="654.40" stroke="#000" stroke-width="1.2" />
<text x="55.20" y="666.00" font-size="10.2" text-anchor="middle" font-weight="normal" font-style="normal" fill="#000" >5</text>
<line x1="102.54" y1="649.40" x2="102.54" y2="654.40" stroke="#000" stroke-width="1.2" />
<text x="102.54" y="666.00" font-size="10.2" text-anchor="middle" font-weight="normal" font-style="normal" fill="#000" >10</text>
<line x1="130.23" y1="649.40" x2="130.23" y2="654.40" stroke="#000" stroke-width="1.2" />
<text x="130.23" y="666.00" font-size="10.2" text-anchor="middle" font-weight="normal" font-style="normal" fill="#000" >15</text>
<line x1="165.12" y1="649.40" x2="165.12" y2="654.40" stroke="#000" stroke-width="1.2" />
<text x="165.12" y="666.00" font-size="10.2" text-anchor="middle" font-weight="normal" font-style="normal" fill="#000" >25</text>
<line x1="188.10" y1="649.40" x2="188.10" y2="654.40" stroke="#000" stroke-width="1.2" />
<text x="188.10" y="666.00" font-size="10.2" text-anchor="middle" font-weight="normal" font-style="normal" fill="#000" >35</text>
<line x1="82.89" y1="649.40" x2="82.89" y2="652.00" stroke="#000" stroke-width="1.2" />
<line x1="117.78" y1="649.40" x2="117.78" y2="652.00" stroke="#000" stroke-width="1.2" />
<line x1="140.76" y1="649.40" x2="140.76" y2="652.00" stroke="#000" stroke-width="1.2" />
<line x1="157.92" y1="649.40" x2="157.92" y2="652.00" stroke="#000" stroke-width="1.2" />
<line x1="171.63" y1="649.40" x2="171.63" y2="652.00" stroke="#000" stroke-width="1.2" />
<line x1="183.04" y1="649.40" x2="183.04" y2="652.00" stroke="#000" stroke-width="1.2" />
<text x="118.00" y="682.30" font-size="10.2" text-anchor="middle" font-weight="normal" font-style="normal" fill="#000" >Frequency (kHz)</text>
<polyline points="62.80,568.60 87.20,568.60 111.10,609.00 135.20,609.00 158.60,568.60 182.90,548.40" fill="none" stroke="#bdbdbd" stroke-width="1.9" stroke-linejoin="round" stroke-linecap="round" stroke-linecap="butt"/>
<polyline points="62.80,528.20 87.20,528.20 111.10,548.40 135.20,568.60 158.60,528.20 182.90,528.20" fill="none" stroke="#a0a0a0" stroke-width="1.9" stroke-linejoin="round" stroke-linecap="round" stroke-linecap="butt"/>
<polyline points="62.80,528.20 87.20,528.20 111.10,568.60 135.20,528.20 158.60,528.20 182.90,528.20" fill="none" stroke="#bdbdbd" stroke-width="1.9" stroke-linejoin="round" stroke-linecap="round" stroke-linecap="butt"/>
<polyline points="62.80,528.20 87.20,528.20 111.10,588.80 135.20,588.80 158.60,528.20 182.90,528.20" fill="none" stroke="#bdbdbd" stroke-width="1.9" stroke-linejoin="round" stroke-linecap="round" stroke-linecap="butt"/>
<polyline points="62.80,528.20 87.20,528.20 111.10,528.20 135.20,588.80 158.60,548.40 182.90,528.20" fill="none" stroke="#bdbdbd" stroke-width="1.9" stroke-linejoin="round" stroke-linecap="round" stroke-linecap="butt"/>
<polyline points="62.80,528.20 87.20,548.40 111.10,588.80 135.20,568.60 158.60,528.20 182.90,528.20" fill="none" stroke="#bdbdbd" stroke-width="1.9" stroke-linejoin="round" stroke-linecap="round" stroke-linecap="butt"/>
<polyline points="62.80,528.20 87.20,528.20 111.10,528.20 135.20,568.60 158.60,558.50 182.90,548.40" fill="none" stroke="#bdbdbd" stroke-width="1.9" stroke-linejoin="round" stroke-linecap="round" stroke-linecap="butt"/>
<polyline points="62.80,528.20 87.20,528.20 111.10,568.60 135.20,609.00 158.60,568.60 182.90,528.20" fill="none" stroke="#bdbdbd" stroke-width="1.9" stroke-linejoin="round" stroke-linecap="round" stroke-linecap="butt"/>
<line x1="62.00" y1="525.90" x2="183.70" y2="525.90" stroke="#000" stroke-width="2.0" />
<path d="M60.10,520.80 L62.80,513.00 L65.50,520.80 Z" fill="#000"/>
<line x1="62.80" y1="519.80" x2="62.80" y2="525.90" stroke="#000" stroke-width="1.7" />
<path d="M84.50,520.80 L87.20,513.00 L89.90,520.80 Z" fill="#000"/>
<line x1="87.20" y1="519.80" x2="87.20" y2="525.90" stroke="#000" stroke-width="1.7" />
<path d="M108.40,520.80 L111.10,513.00 L113.80,520.80 Z" fill="#000"/>
<line x1="111.10" y1="519.80" x2="111.10" y2="525.90" stroke="#000" stroke-width="1.7" />
<path d="M132.50,520.80 L135.20,513.00 L137.90,520.80 Z" fill="#000"/>
<line x1="135.20" y1="519.80" x2="135.20" y2="525.90" stroke="#000" stroke-width="1.7" />
<path d="M155.90,520.80 L158.60,513.00 L161.30,520.80 Z" fill="#000"/>
<line x1="158.60" y1="519.80" x2="158.60" y2="525.90" stroke="#000" stroke-width="1.7" />
<path d="M180.20,520.80 L182.90,513.00 L185.60,520.80 Z" fill="#000"/>
<line x1="182.90" y1="519.80" x2="182.90" y2="525.90" stroke="#000" stroke-width="1.7" />
<text x="63.50" y="509.90" font-size="10.2" text-anchor="start" font-weight="normal" font-style="normal" fill="#000" ><tspan font-style="italic">Tmc1</tspan><tspan font-size="7" dx="0.6" dy="-4" font-style="italic" fill="#444">Δ/Δ</tspan></text>
<polyline points="62.80,528.20 87.20,548.40 111.10,568.60 135.20,548.40 158.60,528.20 182.90,528.20" fill="none" stroke="#0000ff" stroke-width="2.8" stroke-linejoin="round" stroke-linecap="round" />
<polyline points="62.80,528.20 87.20,568.60 111.10,588.80 135.20,609.00 158.60,568.60 182.90,528.20" fill="none" stroke="#008000" stroke-width="2.8" stroke-linejoin="round" stroke-linecap="round" />
<polyline points="62.80,528.60 87.20,528.60 111.10,532.24 135.20,528.60 158.60,528.60 182.90,528.60" fill="none" stroke="#ff0000" stroke-width="2.2" stroke-linejoin="round" stroke-linecap="round" />
<line x1="111.10" y1="522.50" x2="111.10" y2="539.60" stroke="#ff0000" stroke-width="1.8" />
<line x1="107.90" y1="522.50" x2="114.30" y2="522.50" stroke="#ff0000" stroke-width="1.8" />
<line x1="107.90" y1="539.60" x2="114.30" y2="539.60" stroke="#ff0000" stroke-width="1.8" />
<polyline points="62.80,550.62 87.20,575.27 111.10,612.84 135.20,619.30 158.60,605.77 182.90,576.48" fill="none" stroke="#000" stroke-width="2.0" stroke-linejoin="round" stroke-linecap="round" />
<line x1="62.80" y1="530.00" x2="62.80" y2="566.10" stroke="#000" stroke-width="2.0" />
<line x1="59.60" y1="530.00" x2="66.00" y2="530.00" stroke="#000" stroke-width="2.0" />
<line x1="59.60" y1="566.10" x2="66.00" y2="566.10" stroke="#000" stroke-width="2.0" />
<line x1="87.20" y1="550.90" x2="87.20" y2="599.90" stroke="#000" stroke-width="2.0" />
<line x1="84.00" y1="550.90" x2="90.40" y2="550.90" stroke="#000" stroke-width="2.0" />
<line x1="84.00" y1="599.90" x2="90.40" y2="599.90" stroke="#000" stroke-width="2.0" />
<line x1="111.10" y1="604.10" x2="111.10" y2="620.50" stroke="#000" stroke-width="2.0" />
<line x1="107.90" y1="604.10" x2="114.30" y2="604.10" stroke="#000" stroke-width="2.0" />
<line x1="107.90" y1="620.50" x2="114.30" y2="620.50" stroke="#000" stroke-width="2.0" />
<line x1="135.20" y1="608.20" x2="135.20" y2="629.80" stroke="#000" stroke-width="2.0" />
<line x1="132.00" y1="608.20" x2="138.40" y2="608.20" stroke="#000" stroke-width="2.0" />
<line x1="132.00" y1="629.80" x2="138.40" y2="629.80" stroke="#000" stroke-width="2.0" />
<line x1="158.60" y1="597.50" x2="158.60" y2="613.90" stroke="#000" stroke-width="2.0" />
<line x1="155.40" y1="597.50" x2="161.80" y2="597.50" stroke="#000" stroke-width="2.0" />
<line x1="155.40" y1="613.90" x2="161.80" y2="613.90" stroke="#000" stroke-width="2.0" />
<line x1="182.90" y1="564.90" x2="182.90" y2="585.70" stroke="#000" stroke-width="2.0" />
<line x1="179.70" y1="564.90" x2="186.10" y2="564.90" stroke="#000" stroke-width="2.0" />
<line x1="179.70" y1="585.70" x2="186.10" y2="585.70" stroke="#000" stroke-width="2.0" />
<text x="171.60" y="605.30" font-size="10.2" text-anchor="start" font-weight="normal" font-style="normal" fill="#000" >WT</text>
<text x="211.80" y="293.40" font-size="12.5" text-anchor="start" font-weight="bold" font-style="normal" fill="#000" >c</text>
<line x1="254.60" y1="299.20" x2="254.60" y2="441.20" stroke="#000" stroke-width="1.3" />
<line x1="249.60" y1="299.80" x2="254.60" y2="299.80" stroke="#000" stroke-width="1.2" />
<text x="244.70" y="303.60" font-size="10.2" text-anchor="end" font-weight="normal" font-style="normal" fill="#000" >0.8</text>
<line x1="249.60" y1="335.00" x2="254.60" y2="335.00" stroke="#000" stroke-width="1.2" />
<text x="244.70" y="338.80" font-size="10.2" text-anchor="end" font-weight="normal" font-style="normal" fill="#000" >0.6</text>
<line x1="249.60" y1="370.20" x2="254.60" y2="370.20" stroke="#000" stroke-width="1.2" />
<text x="244.70" y="374.00" font-size="10.2" text-anchor="end" font-weight="normal" font-style="normal" fill="#000" >0.4</text>
<line x1="249.60" y1="405.40" x2="254.60" y2="405.40" stroke="#000" stroke-width="1.2" />
<text x="244.70" y="409.20" font-size="10.2" text-anchor="end" font-weight="normal" font-style="normal" fill="#000" >0.2</text>
<line x1="249.60" y1="440.60" x2="254.60" y2="440.60" stroke="#000" stroke-width="1.2" />
<text x="244.70" y="444.40" font-size="10.2" text-anchor="end" font-weight="normal" font-style="normal" fill="#000" >0.0</text>
<line x1="252.00" y1="317.40" x2="254.60" y2="317.40" stroke="#000" stroke-width="1.2" />
<line x1="252.00" y1="352.60" x2="254.60" y2="352.60" stroke="#000" stroke-width="1.2" />
<line x1="252.00" y1="387.80" x2="254.60" y2="387.80" stroke="#000" stroke-width="1.2" />
<line x1="252.00" y1="423.00" x2="254.60" y2="423.00" stroke="#000" stroke-width="1.2" />
<text x="0.00" y="0.00" font-size="10.2" text-anchor="middle" font-weight="normal" font-style="normal" fill="#000" transform="translate(220.60,370.20) rotate(-90)">P1 amplitude (µV)</text>
<line x1="254.00" y1="440.60" x2="396.43" y2="440.60" stroke="#000" stroke-width="1.3" />
<line x1="267.07" y1="440.60" x2="267.07" y2="445.60" stroke="#000" stroke-width="1.2" />
<text x="267.07" y="458.80" font-size="10.2" text-anchor="middle" font-weight="normal" font-style="normal" fill="#000" >20</text>
<line x1="292.82" y1="440.60" x2="292.82" y2="445.60" stroke="#000" stroke-width="1.2" />
<text x="292.82" y="458.80" font-size="10.2" text-anchor="middle" font-weight="normal" font-style="normal" fill="#000" >40</text>
<line x1="318.57" y1="440.60" x2="318.57" y2="445.60" stroke="#000" stroke-width="1.2" />
<text x="318.57" y="458.80" font-size="10.2" text-anchor="middle" font-weight="normal" font-style="normal" fill="#000" >60</text>
<line x1="344.32" y1="440.60" x2="344.32" y2="445.60" stroke="#000" stroke-width="1.2" />
<text x="344.32" y="458.80" font-size="10.2" text-anchor="middle" font-weight="normal" font-style="normal" fill="#000" >80</text>
<line x1="370.07" y1="440.60" x2="370.07" y2="445.60" stroke="#000" stroke-width="1.2" />
<text x="370.07" y="458.80" font-size="10.2" text-anchor="middle" font-weight="normal" font-style="normal" fill="#000" >100</text>
<line x1="395.82" y1="440.60" x2="395.82" y2="445.60" stroke="#000" stroke-width="1.2" />
<text x="395.82" y="458.80" font-size="10.2" text-anchor="middle" font-weight="normal" font-style="normal" fill="#000" >120</text>
<line x1="254.20" y1="440.60" x2="254.20" y2="443.20" stroke="#000" stroke-width="1.2" />
<line x1="279.95" y1="440.60" x2="279.95" y2="443.20" stroke="#000" stroke-width="1.2" />
<line x1="305.70" y1="440.60" x2="305.70" y2="443.20" stroke="#000" stroke-width="1.2" />
<line x1="331.45" y1="440.60" x2="331.45" y2="443.20" stroke="#000" stroke-width="1.2" />
<line x1="357.20" y1="440.60" x2="357.20" y2="443.20" stroke="#000" stroke-width="1.2" />
<line x1="382.95" y1="440.60" x2="382.95" y2="443.20" stroke="#000" stroke-width="1.2" />
<text x="324.50" y="475.70" font-size="10.2" text-anchor="middle" font-weight="normal" font-style="normal" fill="#000" >Sound level (dB)</text>
<polyline points="310.43,435.37 319.37,423.45 324.59,401.84 332.04,408.54 344.70,393.64 358.11,374.27 370.03,348.94" fill="none" stroke="#bdbdbd" stroke-width="1.9" stroke-linejoin="round" stroke-linecap="round" stroke-linecap="butt"/>
<polyline points="319.37,429.41 332.04,417.48 344.70,402.58 359.60,372.78 368.54,369.80 382.70,360.86" fill="none" stroke="#bdbdbd" stroke-width="1.9" stroke-linejoin="round" stroke-linecap="round" stroke-linecap="butt"/>
<polyline points="332.04,429.41 344.70,410.03 356.62,395.13 370.03,376.51" fill="none" stroke="#bdbdbd" stroke-width="1.9" stroke-linejoin="round" stroke-linecap="round" stroke-linecap="butt"/>
<polyline points="305.22,426.43 319.37,424.94 332.04,414.50 344.70,413.01 356.62,405.56 370.03,401.09" fill="none" stroke="#bdbdbd" stroke-width="1.9" stroke-linejoin="round" stroke-linecap="round" stroke-linecap="butt"/>
<polyline points="344.70,435.37 350.66,423.45 362.58,405.56 382.70,398.11" fill="none" stroke="#bdbdbd" stroke-width="1.9" stroke-linejoin="round" stroke-linecap="round" stroke-linecap="butt"/>
<polyline points="319.37,436.86 332.04,432.39 344.70,429.41 356.62,420.46 370.03,411.52 382.70,402.58" fill="none" stroke="#bdbdbd" stroke-width="1.9" stroke-linejoin="round" stroke-linecap="round" stroke-linecap="butt"/>
<polyline points="325.33,423.45 332.04,420.46 338.74,414.50 344.70,423.45 352.15,429.41 362.58,429.41" fill="none" stroke="#bdbdbd" stroke-width="1.9" stroke-linejoin="round" stroke-linecap="round" stroke-linecap="butt"/>
<polyline points="308.94,429.41 319.37,420.46 332.04,411.52 338.74,410.03 347.68,417.48 356.62,414.50" fill="none" stroke="#bdbdbd" stroke-width="1.9" stroke-linejoin="round" stroke-linecap="round" stroke-linecap="butt"/>
<polyline points="286.39,424.94 292.82,423.00 299.26,414.20 305.70,417.72 312.14,407.16 318.57,396.60 325.01,386.04 331.45,375.48 337.89,366.68 344.32,359.64 350.76,349.08 357.20,337.99" fill="none" stroke="#008000" stroke-width="2.8" stroke-linejoin="round" stroke-linecap="round" />
<polyline points="299.26,435.67 305.70,434.79 312.14,433.56 318.57,435.67 325.01,428.28 331.45,426.52 337.89,420.36 344.32,415.96 350.76,410.68 357.20,401.88 363.64,397.48 370.07,393.96 376.51,386.04 382.95,377.24" fill="none" stroke="#0000ff" stroke-width="2.8" stroke-linejoin="round" stroke-linecap="round" />
<polyline points="267.07,429.86 273.51,432.50 279.95,423.88 286.39,415.78 292.82,405.40 299.26,395.19 305.70,389.56 318.57,366.68 331.45,347.32" fill="none" stroke="#000" stroke-width="1.6" stroke-linejoin="round" stroke-linecap="round" />
<line x1="273.51" y1="430.20" x2="273.51" y2="434.10" stroke="#000" stroke-width="2.0" />
<line x1="270.31" y1="430.20" x2="276.71" y2="430.20" stroke="#000" stroke-width="2.0" />
<line x1="270.31" y1="434.10" x2="276.71" y2="434.10" stroke="#000" stroke-width="2.0" />
<line x1="279.95" y1="417.60" x2="279.95" y2="427.20" stroke="#000" stroke-width="2.0" />
<line x1="276.75" y1="417.60" x2="283.15" y2="417.60" stroke="#000" stroke-width="2.0" />
<line x1="276.75" y1="427.20" x2="283.15" y2="427.20" stroke="#000" stroke-width="2.0" />
<line x1="286.39" y1="408.90" x2="286.39" y2="419.90" stroke="#000" stroke-width="2.0" />
<line x1="283.19" y1="408.90" x2="289.59" y2="408.90" stroke="#000" stroke-width="2.0" />
<line x1="283.19" y1="419.90" x2="289.59" y2="419.90" stroke="#000" stroke-width="2.0" />
<line x1="292.82" y1="396.30" x2="292.82" y2="414.20" stroke="#000" stroke-width="2.0" />
<line x1="289.62" y1="396.30" x2="296.02" y2="396.30" stroke="#000" stroke-width="2.0" />
<line x1="289.62" y1="414.20" x2="296.02" y2="414.20" stroke="#000" stroke-width="2.0" />
<line x1="299.26" y1="386.00" x2="299.26" y2="405.50" stroke="#000" stroke-width="2.0" />
<line x1="296.06" y1="386.00" x2="302.46" y2="386.00" stroke="#000" stroke-width="2.0" />
<line x1="296.06" y1="405.50" x2="302.46" y2="405.50" stroke="#000" stroke-width="2.0" />
<line x1="305.70" y1="383.10" x2="305.70" y2="395.90" stroke="#000" stroke-width="2.0" />
<line x1="302.50" y1="383.10" x2="308.90" y2="383.10" stroke="#000" stroke-width="2.0" />
<line x1="302.50" y1="395.90" x2="308.90" y2="395.90" stroke="#000" stroke-width="2.0" />
<line x1="318.57" y1="356.30" x2="318.57" y2="375.30" stroke="#000" stroke-width="2.0" />
<line x1="315.38" y1="356.30" x2="321.77" y2="356.30" stroke="#000" stroke-width="2.0" />
<line x1="315.38" y1="375.30" x2="321.77" y2="375.30" stroke="#000" stroke-width="2.0" />
<line x1="331.45" y1="331.10" x2="331.45" y2="359.30" stroke="#000" stroke-width="2.0" />
<line x1="328.25" y1="331.10" x2="334.65" y2="331.10" stroke="#000" stroke-width="2.0" />
<line x1="328.25" y1="359.30" x2="334.65" y2="359.30" stroke="#000" stroke-width="2.0" />
<text x="318.40" y="319.20" font-size="10.2" text-anchor="start" font-weight="normal" font-style="normal" fill="#000" >WT</text>
<polyline points="363.50,427.80 369.70,427.80 376.10,420.10 383.00,413.30" fill="none" stroke="#ff0000" stroke-width="2.0" stroke-linejoin="round" stroke-linecap="round" />
<line x1="363.50" y1="413.70" x2="363.50" y2="442.30" stroke="#ff0000" stroke-width="2.0" />
<line x1="360.30" y1="413.70" x2="366.70" y2="413.70" stroke="#ff0000" stroke-width="2.0" />
<line x1="360.30" y1="442.30" x2="366.70" y2="442.30" stroke="#ff0000" stroke-width="2.0" />
<line x1="369.70" y1="418.50" x2="369.70" y2="438.10" stroke="#ff0000" stroke-width="2.0" />
<line x1="366.50" y1="418.50" x2="372.90" y2="418.50" stroke="#ff0000" stroke-width="2.0" />
<line x1="366.50" y1="438.10" x2="372.90" y2="438.10" stroke="#ff0000" stroke-width="2.0" />
<line x1="376.10" y1="410.70" x2="376.10" y2="431.80" stroke="#ff0000" stroke-width="2.0" />
<line x1="372.90" y1="410.70" x2="379.30" y2="410.70" stroke="#ff0000" stroke-width="2.0" />
<line x1="372.90" y1="431.80" x2="379.30" y2="431.80" stroke="#ff0000" stroke-width="2.0" />
<line x1="383.00" y1="401.90" x2="383.00" y2="418.90" stroke="#ff0000" stroke-width="2.0" />
<line x1="379.80" y1="401.90" x2="386.20" y2="401.90" stroke="#ff0000" stroke-width="2.0" />
<line x1="379.80" y1="418.90" x2="386.20" y2="418.90" stroke="#ff0000" stroke-width="2.0" />
<text x="419.10" y="293.50" font-size="12.5" text-anchor="start" font-weight="bold" font-style="normal" fill="#000" >d</text>
<line x1="461.20" y1="299.20" x2="461.20" y2="441.60" stroke="#000" stroke-width="1.3" />
<line x1="456.20" y1="310.80" x2="461.20" y2="310.80" stroke="#000" stroke-width="1.2" />
<text x="451.70" y="314.60" font-size="10.2" text-anchor="end" font-weight="normal" font-style="normal" fill="#000" >2.2</text>
<line x1="456.20" y1="332.50" x2="461.20" y2="332.50" stroke="#000" stroke-width="1.2" />
<text x="451.70" y="336.30" font-size="10.2" text-anchor="end" font-weight="normal" font-style="normal" fill="#000" >2.0</text>
<line x1="456.20" y1="354.20" x2="461.20" y2="354.20" stroke="#000" stroke-width="1.2" />
<text x="451.70" y="358.00" font-size="10.2" text-anchor="end" font-weight="normal" font-style="normal" fill="#000" >1.8</text>
<line x1="456.20" y1="375.90" x2="461.20" y2="375.90" stroke="#000" stroke-width="1.2" />
<text x="451.70" y="379.70" font-size="10.2" text-anchor="end" font-weight="normal" font-style="normal" fill="#000" >1.6</text>
<line x1="456.20" y1="397.60" x2="461.20" y2="397.60" stroke="#000" stroke-width="1.2" />
<text x="451.70" y="401.40" font-size="10.2" text-anchor="end" font-weight="normal" font-style="normal" fill="#000" >1.4</text>
<line x1="456.20" y1="419.30" x2="461.20" y2="419.30" stroke="#000" stroke-width="1.2" />
<text x="451.70" y="423.10" font-size="10.2" text-anchor="end" font-weight="normal" font-style="normal" fill="#000" >1.2</text>
<line x1="456.20" y1="441.00" x2="461.20" y2="441.00" stroke="#000" stroke-width="1.2" />
<text x="451.70" y="444.80" font-size="10.2" text-anchor="end" font-weight="normal" font-style="normal" fill="#000" >1.0</text>
<line x1="458.60" y1="299.95" x2="461.20" y2="299.95" stroke="#000" stroke-width="1.2" />
<line x1="458.60" y1="321.65" x2="461.20" y2="321.65" stroke="#000" stroke-width="1.2" />
<line x1="458.60" y1="343.35" x2="461.20" y2="343.35" stroke="#000" stroke-width="1.2" />
<line x1="458.60" y1="365.05" x2="461.20" y2="365.05" stroke="#000" stroke-width="1.2" />
<line x1="458.60" y1="386.75" x2="461.20" y2="386.75" stroke="#000" stroke-width="1.2" />
<line x1="458.60" y1="408.45" x2="461.20" y2="408.45" stroke="#000" stroke-width="1.2" />
<line x1="458.60" y1="430.15" x2="461.20" y2="430.15" stroke="#000" stroke-width="1.2" />
<text x="0.00" y="0.00" font-size="10.2" text-anchor="middle" font-weight="normal" font-style="normal" fill="#000" transform="translate(427.50,369.50) rotate(-90)">P1 latency (ms)</text>
<line x1="460.60" y1="441.00" x2="602.00" y2="441.00" stroke="#000" stroke-width="1.3" />
<line x1="473.40" y1="441.00" x2="473.40" y2="446.00" stroke="#000" stroke-width="1.2" />
<text x="473.40" y="458.80" font-size="10.2" text-anchor="middle" font-weight="normal" font-style="normal" fill="#000" >20</text>
<line x1="499.00" y1="441.00" x2="499.00" y2="446.00" stroke="#000" stroke-width="1.2" />
<text x="499.00" y="458.80" font-size="10.2" text-anchor="middle" font-weight="normal" font-style="normal" fill="#000" >40</text>
<line x1="524.60" y1="441.00" x2="524.60" y2="446.00" stroke="#000" stroke-width="1.2" />
<text x="524.60" y="458.80" font-size="10.2" text-anchor="middle" font-weight="normal" font-style="normal" fill="#000" >60</text>
<line x1="550.20" y1="441.00" x2="550.20" y2="446.00" stroke="#000" stroke-width="1.2" />
<text x="550.20" y="458.80" font-size="10.2" text-anchor="middle" font-weight="normal" font-style="normal" fill="#000" >80</text>
<line x1="575.80" y1="441.00" x2="575.80" y2="446.00" stroke="#000" stroke-width="1.2" />
<text x="575.80" y="458.80" font-size="10.2" text-anchor="middle" font-weight="normal" font-style="normal" fill="#000" >100</text>
<line x1="601.40" y1="441.00" x2="601.40" y2="446.00" stroke="#000" stroke-width="1.2" />
<text x="601.40" y="458.80" font-size="10.2" text-anchor="middle" font-weight="normal" font-style="normal" fill="#000" >120</text>
<line x1="460.60" y1="441.00" x2="460.60" y2="443.60" stroke="#000" stroke-width="1.2" />
<line x1="486.20" y1="441.00" x2="486.20" y2="443.60" stroke="#000" stroke-width="1.2" />
<line x1="511.80" y1="441.00" x2="511.80" y2="443.60" stroke="#000" stroke-width="1.2" />
<line x1="537.40" y1="441.00" x2="537.40" y2="443.60" stroke="#000" stroke-width="1.2" />
<line x1="563.00" y1="441.00" x2="563.00" y2="443.60" stroke="#000" stroke-width="1.2" />
<line x1="588.60" y1="441.00" x2="588.60" y2="443.60" stroke="#000" stroke-width="1.2" />
<text x="538.70" y="475.20" font-size="10.2" text-anchor="middle" font-weight="normal" font-style="normal" fill="#000" >Sound level (dB)</text>
<polyline points="505.60,310.60 508.70,320.30 512.30,332.10 517.40,332.10 521.00,340.00 526.00,350.00 531.00,358.00 536.00,365.00 542.00,372.00 548.00,380.00 555.00,386.00 561.00,390.00 575.00,392.00 589.00,393.00" fill="none" stroke="#bdbdbd" stroke-width="1.9" stroke-linejoin="round" stroke-linecap="round" stroke-linecap="butt"/>
<polyline points="524.50,310.60 530.70,327.00 537.80,332.10 541.00,343.90 545.00,358.00 549.00,368.00 553.00,375.00 560.00,380.00 573.00,389.00 589.00,391.00" fill="none" stroke="#bdbdbd" stroke-width="1.9" stroke-linejoin="round" stroke-linecap="round" stroke-linecap="butt"/>
<polyline points="544.00,336.20 548.10,348.00 552.10,359.20 557.30,370.40 562.00,378.00 577.00,390.00 589.00,398.00" fill="none" stroke="#bdbdbd" stroke-width="1.9" stroke-linejoin="round" stroke-linecap="round" stroke-linecap="butt"/>
<polyline points="512.30,350.00 517.90,344.90 521.50,352.00 525.00,358.20 527.60,355.10 533.70,353.60 537.80,354.10 542.90,362.30 549.00,375.00 556.00,383.00 570.00,390.00 589.00,390.00" fill="none" stroke="#bdbdbd" stroke-width="1.9" stroke-linejoin="round" stroke-linecap="round" stroke-linecap="butt"/>
<polyline points="524.60,353.40 531.90,361.60 540.10,370.70 544.70,385.30 543.80,398.10 548.40,390.80 552.90,388.90" fill="none" stroke="#bdbdbd" stroke-width="1.9" stroke-linejoin="round" stroke-linecap="round" stroke-linecap="butt"/>
<polyline points="569.30,363.40 573.00,381.60 574.80,388.90 576.60,399.90 578.50,410.00" fill="none" stroke="#bdbdbd" stroke-width="1.9" stroke-linejoin="round" stroke-linecap="round" stroke-linecap="butt"/>
<polyline points="550.20,399.00 560.20,403.50 565.70,406.30 569.30,410.80 576.60,414.50 583.90,416.30 589.40,429.10" fill="none" stroke="#bdbdbd" stroke-width="1.9" stroke-linejoin="round" stroke-linecap="round" stroke-linecap="butt"/>
<polyline points="552.90,388.90 563.90,388.90 576.60,388.90 589.40,392.60" fill="none" stroke="#bdbdbd" stroke-width="1.9" stroke-linejoin="round" stroke-linecap="round" stroke-linecap="butt"/>
<polyline points="560.20,390.80 569.30,399.90 576.60,403.50 589.40,410.80" fill="none" stroke="#bdbdbd" stroke-width="1.9" stroke-linejoin="round" stroke-linecap="round" stroke-linecap="butt"/>
<polyline points="491.74,336.18 499.75,349.91 504.32,361.35 510.04,362.49 523.77,371.64 537.50,384.22 548.94,392.23 563.81,401.38" fill="none" stroke="#008000" stroke-width="2.8" stroke-linejoin="round" stroke-linecap="round" />
<polyline points="511.87,319.02 518.05,323.60 523.77,337.32 530.63,356.77 537.50,367.07 550.08,376.22 562.66,388.80 576.39,397.49" fill="none" stroke="#0000ff" stroke-width="2.8" stroke-linejoin="round" stroke-linecap="round" />
<polyline points="473.40,308.63 479.80,312.97 486.20,331.42 492.60,340.10 499.00,347.69 505.40,355.28 511.80,361.80 524.60,371.56 537.40,381.32 550.20,384.58" fill="none" stroke="#000" stroke-width="2.0" stroke-linejoin="round" stroke-linecap="round" />
<line x1="479.80" y1="303.00" x2="479.80" y2="321.30" stroke="#000" stroke-width="2.0" />
<line x1="476.60" y1="303.00" x2="483.00" y2="303.00" stroke="#000" stroke-width="2.0" />
<line x1="476.60" y1="321.30" x2="483.00" y2="321.30" stroke="#000" stroke-width="2.0" />
<line x1="486.20" y1="325.90" x2="486.20" y2="337.30" stroke="#000" stroke-width="2.0" />
<line x1="483.00" y1="325.90" x2="489.40" y2="325.90" stroke="#000" stroke-width="2.0" />
<line x1="483.00" y1="337.30" x2="489.40" y2="337.30" stroke="#000" stroke-width="2.0" />
<line x1="492.60" y1="332.70" x2="492.60" y2="345.80" stroke="#000" stroke-width="2.0" />
<line x1="489.40" y1="332.70" x2="495.80" y2="332.70" stroke="#000" stroke-width="2.0" />
<line x1="489.40" y1="345.80" x2="495.80" y2="345.80" stroke="#000" stroke-width="2.0" />
<line x1="499.00" y1="340.80" x2="499.00" y2="355.00" stroke="#000" stroke-width="2.0" />
<line x1="495.80" y1="340.80" x2="502.20" y2="340.80" stroke="#000" stroke-width="2.0" />
<line x1="495.80" y1="355.00" x2="502.20" y2="355.00" stroke="#000" stroke-width="2.0" />
<line x1="505.40" y1="349.90" x2="505.40" y2="361.30" stroke="#000" stroke-width="2.0" />
<line x1="502.20" y1="349.90" x2="508.60" y2="349.90" stroke="#000" stroke-width="2.0" />
<line x1="502.20" y1="361.30" x2="508.60" y2="361.30" stroke="#000" stroke-width="2.0" />
<line x1="511.80" y1="355.00" x2="511.80" y2="366.40" stroke="#000" stroke-width="2.0" />
<line x1="508.60" y1="355.00" x2="515.00" y2="355.00" stroke="#000" stroke-width="2.0" />
<line x1="508.60" y1="366.40" x2="515.00" y2="366.40" stroke="#000" stroke-width="2.0" />
<line x1="524.60" y1="368.20" x2="524.60" y2="375.10" stroke="#000" stroke-width="2.0" />
<line x1="521.40" y1="368.20" x2="527.80" y2="368.20" stroke="#000" stroke-width="2.0" />
<line x1="521.40" y1="375.10" x2="527.80" y2="375.10" stroke="#000" stroke-width="2.0" />
<line x1="537.40" y1="378.50" x2="537.40" y2="384.20" stroke="#000" stroke-width="2.0" />
<line x1="534.20" y1="378.50" x2="540.60" y2="378.50" stroke="#000" stroke-width="2.0" />
<line x1="534.20" y1="384.20" x2="540.60" y2="384.20" stroke="#000" stroke-width="2.0" />
<text x="469.40" y="355.20" font-size="10.2" text-anchor="start" font-weight="normal" font-style="normal" fill="#000" >WT</text>
<polyline points="569.50,343.00 576.40,344.20 582.80,354.00 589.00,361.30" fill="none" stroke="#ff0000" stroke-width="2.0" stroke-linejoin="round" stroke-linecap="round" />
<line x1="569.50" y1="322.90" x2="569.50" y2="362.50" stroke="#ff0000" stroke-width="2.0" />
<line x1="566.30" y1="322.90" x2="572.70" y2="322.90" stroke="#ff0000" stroke-width="2.0" />
<line x1="566.30" y1="362.50" x2="572.70" y2="362.50" stroke="#ff0000" stroke-width="2.0" />
<line x1="576.40" y1="328.20" x2="576.40" y2="360.20" stroke="#ff0000" stroke-width="2.0" />
<line x1="573.20" y1="328.20" x2="579.60" y2="328.20" stroke="#ff0000" stroke-width="2.0" />
<line x1="573.20" y1="360.20" x2="579.60" y2="360.20" stroke="#ff0000" stroke-width="2.0" />
<line x1="582.80" y1="340.80" x2="582.80" y2="368.70" stroke="#ff0000" stroke-width="2.0" />
<line x1="579.60" y1="340.80" x2="586.00" y2="340.80" stroke="#ff0000" stroke-width="2.0" />
<line x1="579.60" y1="368.70" x2="586.00" y2="368.70" stroke="#ff0000" stroke-width="2.0" />
<line x1="589.00" y1="348.80" x2="589.00" y2="375.50" stroke="#ff0000" stroke-width="2.0" />
<line x1="585.80" y1="348.80" x2="592.20" y2="348.80" stroke="#ff0000" stroke-width="2.0" />
<line x1="585.80" y1="375.50" x2="592.20" y2="375.50" stroke="#ff0000" stroke-width="2.0" />
<text x="211.60" y="499.70" font-size="12.5" text-anchor="start" font-weight="bold" font-style="normal" fill="#000" >f</text>
<line x1="254.60" y1="508.05" x2="254.60" y2="649.75" stroke="#000" stroke-width="1.3" />
<line x1="249.60" y1="522.70" x2="254.60" y2="522.70" stroke="#000" stroke-width="1.2" />
<text x="244.40" y="526.50" font-size="10.2" text-anchor="end" font-weight="normal" font-style="normal" fill="#000" >120</text>
<line x1="249.60" y1="550.80" x2="254.60" y2="550.80" stroke="#000" stroke-width="1.2" />
<text x="244.40" y="554.60" font-size="10.2" text-anchor="end" font-weight="normal" font-style="normal" fill="#000" >100</text>
<line x1="249.60" y1="578.90" x2="254.60" y2="578.90" stroke="#000" stroke-width="1.2" />
<text x="244.40" y="582.70" font-size="10.2" text-anchor="end" font-weight="normal" font-style="normal" fill="#000" >80</text>
<line x1="249.60" y1="607.00" x2="254.60" y2="607.00" stroke="#000" stroke-width="1.2" />
<text x="244.40" y="610.80" font-size="10.2" text-anchor="end" font-weight="normal" font-style="normal" fill="#000" >60</text>
<line x1="249.60" y1="635.10" x2="254.60" y2="635.10" stroke="#000" stroke-width="1.2" />
<text x="244.40" y="638.90" font-size="10.2" text-anchor="end" font-weight="normal" font-style="normal" fill="#000" >40</text>
<line x1="252.00" y1="508.65" x2="254.60" y2="508.65" stroke="#000" stroke-width="1.2" />
<line x1="252.00" y1="536.75" x2="254.60" y2="536.75" stroke="#000" stroke-width="1.2" />
<line x1="252.00" y1="564.85" x2="254.60" y2="564.85" stroke="#000" stroke-width="1.2" />
<line x1="252.00" y1="592.95" x2="254.60" y2="592.95" stroke="#000" stroke-width="1.2" />
<line x1="252.00" y1="621.05" x2="254.60" y2="621.05" stroke="#000" stroke-width="1.2" />
<line x1="252.00" y1="649.15" x2="254.60" y2="649.15" stroke="#000" stroke-width="1.2" />
<text x="0.00" y="0.00" font-size="10.2" text-anchor="middle" font-weight="normal" font-style="normal" fill="#000" transform="translate(221.10,579.20) rotate(-90)">ABR threshold (dB)</text>
<line x1="254.00" y1="649.15" x2="395.80" y2="649.15" stroke="#000" stroke-width="1.3" />
<line x1="261.80" y1="649.15" x2="261.80" y2="654.15" stroke="#000" stroke-width="1.2" />
<text x="261.80" y="666.00" font-size="10.2" text-anchor="middle" font-weight="normal" font-style="normal" fill="#000" >5</text>
<line x1="309.32" y1="649.15" x2="309.32" y2="654.15" stroke="#000" stroke-width="1.2" />
<text x="309.32" y="666.00" font-size="10.2" text-anchor="middle" font-weight="normal" font-style="normal" fill="#000" >10</text>
<line x1="337.11" y1="649.15" x2="337.11" y2="654.15" stroke="#000" stroke-width="1.2" />
<text x="337.11" y="666.00" font-size="10.2" text-anchor="middle" font-weight="normal" font-style="normal" fill="#000" >15</text>
<line x1="372.13" y1="649.15" x2="372.13" y2="654.15" stroke="#000" stroke-width="1.2" />
<text x="372.13" y="666.00" font-size="10.2" text-anchor="middle" font-weight="normal" font-style="normal" fill="#000" >25</text>
<line x1="395.20" y1="649.15" x2="395.20" y2="654.15" stroke="#000" stroke-width="1.2" />
<text x="395.20" y="666.00" font-size="10.2" text-anchor="middle" font-weight="normal" font-style="normal" fill="#000" >35</text>
<line x1="289.60" y1="649.15" x2="289.60" y2="651.75" stroke="#000" stroke-width="1.2" />
<line x1="324.62" y1="649.15" x2="324.62" y2="651.75" stroke="#000" stroke-width="1.2" />
<line x1="347.68" y1="649.15" x2="347.68" y2="651.75" stroke="#000" stroke-width="1.2" />
<line x1="364.91" y1="649.15" x2="364.91" y2="651.75" stroke="#000" stroke-width="1.2" />
<line x1="378.67" y1="649.15" x2="378.67" y2="651.75" stroke="#000" stroke-width="1.2" />
<line x1="390.12" y1="649.15" x2="390.12" y2="651.75" stroke="#000" stroke-width="1.2" />
<text x="325.00" y="682.30" font-size="10.2" text-anchor="middle" font-weight="normal" font-style="normal" fill="#000" >Frequency (kHz)</text>
<line x1="262.80" y1="499.80" x2="287.40" y2="499.80" stroke="#008000" stroke-width="1.3" />
<line x1="262.80" y1="512.90" x2="287.40" y2="512.90" stroke="#c8c8c8" stroke-width="1.3" />
<line x1="262.80" y1="526.20" x2="287.40" y2="526.20" stroke="#000" stroke-width="1.3" />
<text x="294.30" y="502.30" font-size="8.6" text-anchor="start" font-weight="normal" font-style="normal" fill="#000" textLength="65.5" lengthAdjust="spacingAndGlyphs">4 weeks (<tspan font-style="italic">n</tspan> = 11)</text>
<text x="294.30" y="515.70" font-size="8.6" text-anchor="start" font-weight="normal" font-style="normal" fill="#000" textLength="60.5" lengthAdjust="spacingAndGlyphs">6 weeks (<tspan font-style="italic">n</tspan> = 7)</text>
<text x="294.30" y="529.20" font-size="8.6" text-anchor="start" font-weight="normal" font-style="normal" fill="#000" textLength="64.8" lengthAdjust="spacingAndGlyphs">12 weeks (<tspan font-style="italic">n</tspan> = 7)</text>
<line x1="269.20" y1="564.90" x2="269.20" y2="598.50" stroke="#c8c8c8" stroke-width="1.3" />
<line x1="265.70" y1="564.90" x2="272.70" y2="564.90" stroke="#c8c8c8" stroke-width="1.3" />
<line x1="265.70" y1="598.50" x2="272.70" y2="598.50" stroke="#c8c8c8" stroke-width="1.3" />
<line x1="293.90" y1="572.20" x2="293.90" y2="622.50" stroke="#c8c8c8" stroke-width="1.3" />
<line x1="290.40" y1="572.20" x2="297.40" y2="572.20" stroke="#c8c8c8" stroke-width="1.3" />
<line x1="290.40" y1="622.50" x2="297.40" y2="622.50" stroke="#c8c8c8" stroke-width="1.3" />
<line x1="317.90" y1="563.50" x2="317.90" y2="627.10" stroke="#c8c8c8" stroke-width="1.3" />
<line x1="314.40" y1="563.50" x2="321.40" y2="563.50" stroke="#c8c8c8" stroke-width="1.3" />
<line x1="314.40" y1="627.10" x2="321.40" y2="627.10" stroke="#c8c8c8" stroke-width="1.3" />
<line x1="341.50" y1="549.30" x2="341.50" y2="619.10" stroke="#c8c8c8" stroke-width="1.3" />
<line x1="338.00" y1="549.30" x2="345.00" y2="549.30" stroke="#c8c8c8" stroke-width="1.3" />
<line x1="338.00" y1="619.10" x2="345.00" y2="619.10" stroke="#c8c8c8" stroke-width="1.3" />
<line x1="365.50" y1="578.00" x2="365.50" y2="600.00" stroke="#c8c8c8" stroke-width="1.3" />
<line x1="362.00" y1="578.00" x2="369.00" y2="578.00" stroke="#c8c8c8" stroke-width="1.3" />
<line x1="362.00" y1="600.00" x2="369.00" y2="600.00" stroke="#c8c8c8" stroke-width="1.3" />
<line x1="388.80" y1="540.00" x2="388.80" y2="560.00" stroke="#c8c8c8" stroke-width="1.3" />
<line x1="385.30" y1="540.00" x2="392.30" y2="540.00" stroke="#c8c8c8" stroke-width="1.3" />
<line x1="385.30" y1="560.00" x2="392.30" y2="560.00" stroke="#c8c8c8" stroke-width="1.3" />
<polyline points="269.20,582.55 293.90,596.88 317.90,595.06 341.50,583.68 365.50,558.53 388.80,544.34" fill="none" stroke="#c8c8c8" stroke-width="1.3" stroke-linejoin="round" stroke-linecap="round" />
<line x1="269.20" y1="557.30" x2="269.20" y2="598.50" stroke="#000" stroke-width="1.3" />
<line x1="265.70" y1="557.30" x2="272.70" y2="557.30" stroke="#000" stroke-width="1.3" />
<line x1="265.70" y1="598.50" x2="272.70" y2="598.50" stroke="#000" stroke-width="1.3" />
<line x1="293.90" y1="565.80" x2="293.90" y2="613.40" stroke="#000" stroke-width="1.3" />
<line x1="290.40" y1="565.80" x2="297.40" y2="565.80" stroke="#000" stroke-width="1.3" />
<line x1="290.40" y1="613.40" x2="297.40" y2="613.40" stroke="#000" stroke-width="1.3" />
<line x1="317.90" y1="547.50" x2="317.90" y2="626.00" stroke="#000" stroke-width="1.3" />
<line x1="314.40" y1="547.50" x2="321.40" y2="547.50" stroke="#000" stroke-width="1.3" />
<line x1="314.40" y1="626.00" x2="321.40" y2="626.00" stroke="#000" stroke-width="1.3" />
<line x1="341.50" y1="537.90" x2="341.50" y2="616.10" stroke="#000" stroke-width="1.3" />
<line x1="338.00" y1="537.90" x2="345.00" y2="537.90" stroke="#000" stroke-width="1.3" />
<line x1="338.00" y1="616.10" x2="345.00" y2="616.10" stroke="#000" stroke-width="1.3" />
<line x1="365.50" y1="525.30" x2="365.50" y2="590.00" stroke="#000" stroke-width="1.3" />
<line x1="362.00" y1="525.30" x2="369.00" y2="525.30" stroke="#000" stroke-width="1.3" />
<line x1="362.00" y1="590.00" x2="369.00" y2="590.00" stroke="#000" stroke-width="1.3" />
<line x1="388.80" y1="535.10" x2="388.80" y2="539.00" stroke="#000" stroke-width="1.3" />
<line x1="385.30" y1="535.10" x2="392.30" y2="535.10" stroke="#000" stroke-width="1.3" />
<line x1="385.30" y1="539.00" x2="392.30" y2="539.00" stroke="#000" stroke-width="1.3" />
<polyline points="269.20,577.92 293.90,589.44 317.90,585.93 341.50,576.93 365.50,557.68 388.80,537.87" fill="none" stroke="#000" stroke-width="1.3" stroke-linejoin="round" stroke-linecap="round" />
<line x1="269.20" y1="565.80" x2="269.20" y2="605.40" stroke="#1a8a1a" stroke-width="1.3" />
<line x1="265.70" y1="565.80" x2="272.70" y2="565.80" stroke="#1a8a1a" stroke-width="1.3" />
<line x1="265.70" y1="605.40" x2="272.70" y2="605.40" stroke="#1a8a1a" stroke-width="1.3" />
<line x1="293.90" y1="583.20" x2="293.90" y2="620.70" stroke="#1a8a1a" stroke-width="1.3" />
<line x1="290.40" y1="583.20" x2="297.40" y2="583.20" stroke="#1a8a1a" stroke-width="1.3" />
<line x1="290.40" y1="620.70" x2="297.40" y2="620.70" stroke="#1a8a1a" stroke-width="1.3" />
<line x1="317.90" y1="577.20" x2="317.90" y2="627.10" stroke="#1a8a1a" stroke-width="1.3" />
<line x1="314.40" y1="577.20" x2="321.40" y2="577.20" stroke="#1a8a1a" stroke-width="1.3" />
<line x1="314.40" y1="627.10" x2="321.40" y2="627.10" stroke="#1a8a1a" stroke-width="1.3" />
<line x1="341.50" y1="567.20" x2="341.50" y2="628.70" stroke="#1a8a1a" stroke-width="1.3" />
<line x1="338.00" y1="567.20" x2="345.00" y2="567.20" stroke="#1a8a1a" stroke-width="1.3" />
<line x1="338.00" y1="628.70" x2="345.00" y2="628.70" stroke="#1a8a1a" stroke-width="1.3" />
<line x1="365.50" y1="536.00" x2="365.50" y2="600.80" stroke="#1a8a1a" stroke-width="1.3" />
<line x1="362.00" y1="536.00" x2="369.00" y2="536.00" stroke="#1a8a1a" stroke-width="1.3" />
<line x1="362.00" y1="600.80" x2="369.00" y2="600.80" stroke="#1a8a1a" stroke-width="1.3" />
<line x1="388.80" y1="532.20" x2="388.80" y2="569.90" stroke="#1a8a1a" stroke-width="1.3" />
<line x1="385.30" y1="532.20" x2="392.30" y2="532.20" stroke="#1a8a1a" stroke-width="1.3" />
<line x1="385.30" y1="569.90" x2="392.30" y2="569.90" stroke="#1a8a1a" stroke-width="1.3" />
<polyline points="269.20,586.35 293.90,601.52 317.90,602.36 341.50,597.87 365.50,568.08 388.80,551.08" fill="none" stroke="#1a8a1a" stroke-width="1.3" stroke-linejoin="round" stroke-linecap="round" />
<text x="417.60" y="499.60" font-size="12.5" text-anchor="start" font-weight="bold" font-style="normal" fill="#000" >g</text>
<line x1="461.00" y1="507.70" x2="461.00" y2="650.30" stroke="#000" stroke-width="1.3" />
<line x1="456.00" y1="508.30" x2="461.00" y2="508.30" stroke="#000" stroke-width="1.2" />
<text x="450.90" y="512.10" font-size="10.2" text-anchor="end" font-weight="normal" font-style="normal" fill="#000" >100</text>
<line x1="456.00" y1="548.70" x2="461.00" y2="548.70" stroke="#000" stroke-width="1.2" />
<text x="450.90" y="552.50" font-size="10.2" text-anchor="end" font-weight="normal" font-style="normal" fill="#000" >80</text>
<line x1="456.00" y1="589.10" x2="461.00" y2="589.10" stroke="#000" stroke-width="1.2" />
<text x="450.90" y="592.90" font-size="10.2" text-anchor="end" font-weight="normal" font-style="normal" fill="#000" >60</text>
<line x1="456.00" y1="629.50" x2="461.00" y2="629.50" stroke="#000" stroke-width="1.2" />
<text x="450.90" y="633.30" font-size="10.2" text-anchor="end" font-weight="normal" font-style="normal" fill="#000" >40</text>
<line x1="458.40" y1="528.50" x2="461.00" y2="528.50" stroke="#000" stroke-width="1.2" />
<line x1="458.40" y1="568.90" x2="461.00" y2="568.90" stroke="#000" stroke-width="1.2" />
<line x1="458.40" y1="609.30" x2="461.00" y2="609.30" stroke="#000" stroke-width="1.2" />
<line x1="458.40" y1="649.70" x2="461.00" y2="649.70" stroke="#000" stroke-width="1.2" />
<text x="0.00" y="0.00" font-size="10.2" text-anchor="middle" font-weight="normal" font-style="normal" fill="#000" transform="translate(426.90,577.50) rotate(-90)">DPOAE threshold (dB)</text>
<line x1="460.40" y1="649.70" x2="602.00" y2="649.70" stroke="#000" stroke-width="1.3" />
<line x1="468.40" y1="649.70" x2="468.40" y2="654.70" stroke="#000" stroke-width="1.2" />
<text x="468.40" y="666.00" font-size="10.2" text-anchor="middle" font-weight="normal" font-style="normal" fill="#000" >5</text>
<line x1="515.78" y1="649.70" x2="515.78" y2="654.70" stroke="#000" stroke-width="1.2" />
<text x="515.78" y="666.00" font-size="10.2" text-anchor="middle" font-weight="normal" font-style="normal" fill="#000" >10</text>
<line x1="543.49" y1="649.70" x2="543.49" y2="654.70" stroke="#000" stroke-width="1.2" />
<text x="543.49" y="666.00" font-size="10.2" text-anchor="middle" font-weight="normal" font-style="normal" fill="#000" >15</text>
<line x1="578.40" y1="649.70" x2="578.40" y2="654.70" stroke="#000" stroke-width="1.2" />
<text x="578.40" y="666.00" font-size="10.2" text-anchor="middle" font-weight="normal" font-style="normal" fill="#000" >25</text>
<line x1="601.40" y1="649.70" x2="601.40" y2="654.70" stroke="#000" stroke-width="1.2" />
<text x="601.40" y="666.00" font-size="10.2" text-anchor="middle" font-weight="normal" font-style="normal" fill="#000" >35</text>
<line x1="496.11" y1="649.70" x2="496.11" y2="652.30" stroke="#000" stroke-width="1.2" />
<line x1="531.03" y1="649.70" x2="531.03" y2="652.30" stroke="#000" stroke-width="1.2" />
<line x1="554.02" y1="649.70" x2="554.02" y2="652.30" stroke="#000" stroke-width="1.2" />
<line x1="571.20" y1="649.70" x2="571.20" y2="652.30" stroke="#000" stroke-width="1.2" />
<line x1="584.92" y1="649.70" x2="584.92" y2="652.30" stroke="#000" stroke-width="1.2" />
<line x1="596.33" y1="649.70" x2="596.33" y2="652.30" stroke="#000" stroke-width="1.2" />
<text x="532.00" y="682.30" font-size="10.2" text-anchor="middle" font-weight="normal" font-style="normal" fill="#000" >Frequency (kHz)</text>
<line x1="476.20" y1="543.90" x2="476.20" y2="572.20" stroke="#c8c8c8" stroke-width="1.3" />
<line x1="472.40" y1="543.90" x2="480.00" y2="543.90" stroke="#c8c8c8" stroke-width="1.3" />
<line x1="472.40" y1="572.20" x2="480.00" y2="572.20" stroke="#c8c8c8" stroke-width="1.3" />
<line x1="500.40" y1="552.30" x2="500.40" y2="591.20" stroke="#c8c8c8" stroke-width="1.3" />
<line x1="496.60" y1="552.30" x2="504.20" y2="552.30" stroke="#c8c8c8" stroke-width="1.3" />
<line x1="496.60" y1="591.20" x2="504.20" y2="591.20" stroke="#c8c8c8" stroke-width="1.3" />
<line x1="524.20" y1="571.30" x2="524.20" y2="626.20" stroke="#c8c8c8" stroke-width="1.3" />
<line x1="520.40" y1="571.30" x2="528.00" y2="571.30" stroke="#c8c8c8" stroke-width="1.3" />
<line x1="520.40" y1="626.20" x2="528.00" y2="626.20" stroke="#c8c8c8" stroke-width="1.3" />
<line x1="548.20" y1="565.00" x2="548.20" y2="637.00" stroke="#c8c8c8" stroke-width="1.3" />
<line x1="544.40" y1="565.00" x2="552.00" y2="565.00" stroke="#c8c8c8" stroke-width="1.3" />
<line x1="544.40" y1="637.00" x2="552.00" y2="637.00" stroke="#c8c8c8" stroke-width="1.3" />
<line x1="571.80" y1="568.30" x2="571.80" y2="601.00" stroke="#c8c8c8" stroke-width="1.3" />
<line x1="568.00" y1="568.30" x2="575.60" y2="568.30" stroke="#c8c8c8" stroke-width="1.3" />
<line x1="568.00" y1="601.00" x2="575.60" y2="601.00" stroke="#c8c8c8" stroke-width="1.3" />
<line x1="595.80" y1="548.00" x2="595.80" y2="566.00" stroke="#c8c8c8" stroke-width="1.3" />
<line x1="592.00" y1="548.00" x2="599.60" y2="548.00" stroke="#c8c8c8" stroke-width="1.3" />
<line x1="592.00" y1="566.00" x2="599.60" y2="566.00" stroke="#c8c8c8" stroke-width="1.3" />
<polyline points="476.20,559.41 500.40,571.53 524.20,598.39 548.20,601.22 571.80,585.87 595.80,556.17" fill="none" stroke="#c8c8c8" stroke-width="1.3" stroke-linejoin="round" stroke-linecap="round" />
<line x1="476.20" y1="543.00" x2="476.20" y2="565.00" stroke="#000" stroke-width="1.3" />
<line x1="472.40" y1="543.00" x2="480.00" y2="543.00" stroke="#000" stroke-width="1.3" />
<line x1="472.40" y1="565.00" x2="480.00" y2="565.00" stroke="#000" stroke-width="1.3" />
<line x1="500.40" y1="538.60" x2="500.40" y2="572.00" stroke="#000" stroke-width="1.3" />
<line x1="496.60" y1="538.60" x2="504.20" y2="538.60" stroke="#000" stroke-width="1.3" />
<line x1="496.60" y1="572.00" x2="504.20" y2="572.00" stroke="#000" stroke-width="1.3" />
<line x1="524.20" y1="563.10" x2="524.20" y2="622.60" stroke="#000" stroke-width="1.3" />
<line x1="520.40" y1="563.10" x2="528.00" y2="563.10" stroke="#000" stroke-width="1.3" />
<line x1="520.40" y1="622.60" x2="528.00" y2="622.60" stroke="#000" stroke-width="1.3" />
<line x1="548.20" y1="558.80" x2="548.20" y2="642.20" stroke="#000" stroke-width="1.3" />
<line x1="544.40" y1="558.80" x2="552.00" y2="558.80" stroke="#000" stroke-width="1.3" />
<line x1="544.40" y1="642.20" x2="552.00" y2="642.20" stroke="#000" stroke-width="1.3" />
<line x1="571.80" y1="578.00" x2="571.80" y2="596.00" stroke="#000" stroke-width="1.3" />
<line x1="568.00" y1="578.00" x2="575.60" y2="578.00" stroke="#000" stroke-width="1.3" />
<line x1="568.00" y1="596.00" x2="575.60" y2="596.00" stroke="#000" stroke-width="1.3" />
<line x1="595.80" y1="546.00" x2="595.80" y2="554.00" stroke="#000" stroke-width="1.3" />
<line x1="592.00" y1="546.00" x2="599.60" y2="546.00" stroke="#000" stroke-width="1.3" />
<line x1="592.00" y1="554.00" x2="599.60" y2="554.00" stroke="#000" stroke-width="1.3" />
<polyline points="476.20,558.80 500.40,557.18 524.20,593.14 548.20,600.61 571.80,588.09 595.80,550.32" fill="none" stroke="#000" stroke-width="1.3" stroke-linejoin="round" stroke-linecap="round" />
<line x1="476.20" y1="540.90" x2="476.20" y2="566.70" stroke="#1a8a1a" stroke-width="1.3" />
<line x1="472.40" y1="540.90" x2="480.00" y2="540.90" stroke="#1a8a1a" stroke-width="1.3" />
<line x1="472.40" y1="566.70" x2="480.00" y2="566.70" stroke="#1a8a1a" stroke-width="1.3" />
<line x1="500.40" y1="540.90" x2="500.40" y2="574.50" stroke="#1a8a1a" stroke-width="1.3" />
<line x1="496.60" y1="540.90" x2="504.20" y2="540.90" stroke="#1a8a1a" stroke-width="1.3" />
<line x1="496.60" y1="574.50" x2="504.20" y2="574.50" stroke="#1a8a1a" stroke-width="1.3" />
<line x1="524.20" y1="565.00" x2="524.20" y2="612.50" stroke="#1a8a1a" stroke-width="1.3" />
<line x1="520.40" y1="565.00" x2="528.00" y2="565.00" stroke="#1a8a1a" stroke-width="1.3" />
<line x1="520.40" y1="612.50" x2="528.00" y2="612.50" stroke="#1a8a1a" stroke-width="1.3" />
<line x1="548.20" y1="563.20" x2="548.20" y2="618.00" stroke="#1a8a1a" stroke-width="1.3" />
<line x1="544.40" y1="563.20" x2="552.00" y2="563.20" stroke="#1a8a1a" stroke-width="1.3" />
<line x1="544.40" y1="618.00" x2="552.00" y2="618.00" stroke="#1a8a1a" stroke-width="1.3" />
<line x1="571.80" y1="542.70" x2="571.80" y2="579.80" stroke="#1a8a1a" stroke-width="1.3" />
<line x1="568.00" y1="542.70" x2="575.60" y2="542.70" stroke="#1a8a1a" stroke-width="1.3" />
<line x1="568.00" y1="579.80" x2="575.60" y2="579.80" stroke="#1a8a1a" stroke-width="1.3" />
<line x1="595.80" y1="544.30" x2="595.80" y2="556.20" stroke="#1a8a1a" stroke-width="1.3" />
<line x1="592.00" y1="544.30" x2="599.60" y2="544.30" stroke="#1a8a1a" stroke-width="1.3" />
<line x1="592.00" y1="556.20" x2="599.60" y2="556.20" stroke="#1a8a1a" stroke-width="1.3" />
<polyline points="476.20,553.75 500.40,557.18 524.20,589.10 548.20,590.72 571.80,561.02 595.80,550.92" fill="none" stroke="#1a8a1a" stroke-width="1.3" stroke-linejoin="round" stroke-linecap="round" />
</svg>
</body></html>
